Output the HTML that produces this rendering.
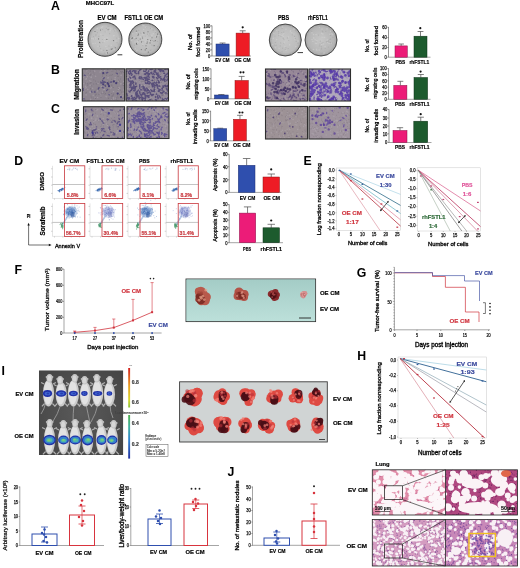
<!DOCTYPE html>
<html><head><meta charset="utf-8"><title>Figure</title>
<style>html,body{margin:0;padding:0;background:#fff;}svg{display:block;filter:blur(0.3px);}</style></head>
<body><svg width="520" height="568" viewBox="0 0 520 568" font-family="'Liberation Sans', Arial, sans-serif">
<rect width="520" height="568" fill="#fff"/>
<text x="55.50" y="10.20" font-size="12.3" font-weight="bold" fill="#000" text-anchor="middle" stroke="none">A</text>
<text x="55.50" y="73.60" font-size="12.3" font-weight="bold" fill="#000" text-anchor="middle" stroke="none">B</text>
<text x="55.50" y="112.60" font-size="12.3" font-weight="bold" fill="#000" text-anchor="middle" stroke="none">C</text>
<text x="85.70" y="4.60" font-size="5.60" font-weight="bold" fill="#000" textLength="28.40" lengthAdjust="spacingAndGlyphs" stroke="#000" stroke-width="0.17">MHCC97L</text>
<text x="97.40" y="19.60" font-size="6.40" font-weight="bold" fill="#000" textLength="19.20" lengthAdjust="spacingAndGlyphs" stroke="#000" stroke-width="0.19">EV CM</text>
<text x="124.40" y="19.60" font-size="6.40" font-weight="bold" fill="#000" textLength="38.80" lengthAdjust="spacingAndGlyphs" stroke="#000" stroke-width="0.19">FSTL1 OE CM</text>
<text x="277.90" y="19.60" font-size="6.40" font-weight="bold" fill="#000" textLength="11.20" lengthAdjust="spacingAndGlyphs" stroke="#000" stroke-width="0.19">PBS</text>
<text x="307.90" y="19.60" font-size="6.40" font-weight="bold" fill="#000" textLength="19.70" lengthAdjust="spacingAndGlyphs" stroke="#000" stroke-width="0.19">rhFSTL1</text>
<text x="0" y="0" font-size="6.47" font-weight="bold" fill="#000" text-anchor="middle" textLength="38.10" lengthAdjust="spacingAndGlyphs" transform="translate(83.40,39.05) rotate(-90)" stroke="#000" stroke-width="0.19">Proliferation</text>
<text x="0" y="0" font-size="6.78" font-weight="bold" fill="#000" text-anchor="middle" textLength="30.50" lengthAdjust="spacingAndGlyphs" transform="translate(78.60,84.45) rotate(-90)" stroke="#000" stroke-width="0.20">Migration</text>
<text x="0" y="0" font-size="6.29" font-weight="bold" fill="#000" text-anchor="middle" textLength="25.50" lengthAdjust="spacingAndGlyphs" transform="translate(78.80,121.95) rotate(-90)" stroke="#000" stroke-width="0.19">Invasion</text>
<line x1="212.00" y1="25.60" x2="212.00" y2="56.00" stroke="#4a4a4a" stroke-width="0.6"/>
<line x1="210.80" y1="25.80" x2="212.00" y2="25.80" stroke="#4a4a4a" stroke-width="0.6"/>
<text x="210.30" y="27.60" font-size="5.0" fill="#111" text-anchor="end" textLength="6.84" lengthAdjust="spacingAndGlyphs" stroke="#111" stroke-width="0.25">100</text>
<line x1="210.80" y1="31.80" x2="212.00" y2="31.80" stroke="#4a4a4a" stroke-width="0.6"/>
<text x="210.30" y="33.60" font-size="5.0" fill="#111" text-anchor="end" textLength="4.56" lengthAdjust="spacingAndGlyphs" stroke="#111" stroke-width="0.25">80</text>
<line x1="210.80" y1="37.90" x2="212.00" y2="37.90" stroke="#4a4a4a" stroke-width="0.6"/>
<text x="210.30" y="39.70" font-size="5.0" fill="#111" text-anchor="end" textLength="4.56" lengthAdjust="spacingAndGlyphs" stroke="#111" stroke-width="0.25">60</text>
<line x1="210.80" y1="44.00" x2="212.00" y2="44.00" stroke="#4a4a4a" stroke-width="0.6"/>
<text x="210.30" y="45.80" font-size="5.0" fill="#111" text-anchor="end" textLength="4.56" lengthAdjust="spacingAndGlyphs" stroke="#111" stroke-width="0.25">40</text>
<line x1="210.80" y1="49.90" x2="212.00" y2="49.90" stroke="#4a4a4a" stroke-width="0.6"/>
<text x="210.30" y="51.70" font-size="5.0" fill="#111" text-anchor="end" textLength="4.56" lengthAdjust="spacingAndGlyphs" stroke="#111" stroke-width="0.25">20</text>
<line x1="210.80" y1="56.00" x2="212.00" y2="56.00" stroke="#4a4a4a" stroke-width="0.6"/>
<text x="210.30" y="57.80" font-size="5.0" fill="#111" text-anchor="end" textLength="2.28" lengthAdjust="spacingAndGlyphs" stroke="#111" stroke-width="0.25">0</text>
<line x1="212.00" y1="56.00" x2="251.00" y2="56.00" stroke="#4a4a4a" stroke-width="0.5"/>
<line x1="222.55" y1="44.00" x2="222.55" y2="43.00" stroke="#555" stroke-width="0.75"/>
<line x1="219.60" y1="43.00" x2="225.50" y2="43.00" stroke="#555" stroke-width="0.75"/>
<rect x="216.00" y="44.00" width="13.10" height="12.00" fill="#2f4fae" stroke="#1d2f70" stroke-width="0.5"/>
<line x1="242.70" y1="33.10" x2="242.70" y2="30.80" stroke="#555" stroke-width="0.75"/>
<line x1="239.73" y1="30.80" x2="245.67" y2="30.80" stroke="#555" stroke-width="0.75"/>
<rect x="236.10" y="33.10" width="13.20" height="22.90" fill="#ee1c25" stroke="#8a1515" stroke-width="0.5"/>
<circle cx="242.70" cy="27.30" r="1.10" fill="#111" stroke="none" stroke-width="0.6"/>
<text x="215.30" y="62.00" font-size="5.00" font-weight="bold" fill="#000" textLength="14.30" lengthAdjust="spacingAndGlyphs" stroke="#000" stroke-width="0.15">EV CM</text>
<text x="234.40" y="62.00" font-size="5.00" font-weight="bold" fill="#000" textLength="16.20" lengthAdjust="spacingAndGlyphs" stroke="#000" stroke-width="0.15">OE CM</text>
<text x="0" y="0" font-size="5.92" font-weight="normal" fill="#000" text-anchor="middle" textLength="15.80" lengthAdjust="spacingAndGlyphs" transform="translate(191.60,42.20) rotate(-90)" stroke="#000" stroke-width="0.30">No. of</text>
<text x="0" y="0" font-size="6.00" font-weight="normal" fill="#000" text-anchor="middle" textLength="29.70" lengthAdjust="spacingAndGlyphs" transform="translate(200.20,41.95) rotate(-90)" stroke="#000" stroke-width="0.30">foci formed</text>
<line x1="211.00" y1="68.60" x2="211.00" y2="98.80" stroke="#4a4a4a" stroke-width="0.6"/>
<line x1="209.80" y1="68.80" x2="211.00" y2="68.80" stroke="#4a4a4a" stroke-width="0.6"/>
<text x="209.30" y="70.60" font-size="5.0" fill="#111" text-anchor="end" textLength="6.84" lengthAdjust="spacingAndGlyphs" stroke="#111" stroke-width="0.25">150</text>
<line x1="209.80" y1="78.70" x2="211.00" y2="78.70" stroke="#4a4a4a" stroke-width="0.6"/>
<text x="209.30" y="80.50" font-size="5.0" fill="#111" text-anchor="end" textLength="6.84" lengthAdjust="spacingAndGlyphs" stroke="#111" stroke-width="0.25">100</text>
<line x1="209.80" y1="89.00" x2="211.00" y2="89.00" stroke="#4a4a4a" stroke-width="0.6"/>
<text x="209.30" y="90.80" font-size="5.0" fill="#111" text-anchor="end" textLength="4.56" lengthAdjust="spacingAndGlyphs" stroke="#111" stroke-width="0.25">50</text>
<line x1="209.80" y1="98.80" x2="211.00" y2="98.80" stroke="#4a4a4a" stroke-width="0.6"/>
<text x="209.30" y="100.60" font-size="5.0" fill="#111" text-anchor="end" textLength="2.28" lengthAdjust="spacingAndGlyphs" stroke="#111" stroke-width="0.25">0</text>
<line x1="211.00" y1="98.80" x2="250.00" y2="98.80" stroke="#4a4a4a" stroke-width="0.5"/>
<line x1="221.35" y1="95.00" x2="221.35" y2="94.50" stroke="#555" stroke-width="0.75"/>
<line x1="218.27" y1="94.50" x2="224.43" y2="94.50" stroke="#555" stroke-width="0.75"/>
<rect x="214.50" y="95.00" width="13.70" height="3.80" fill="#2f4fae" stroke="#1d2f70" stroke-width="0.5"/>
<line x1="241.65" y1="80.50" x2="241.65" y2="76.40" stroke="#555" stroke-width="0.75"/>
<line x1="238.66" y1="76.40" x2="244.64" y2="76.40" stroke="#555" stroke-width="0.75"/>
<rect x="235.00" y="80.50" width="13.30" height="18.30" fill="#ee1c25" stroke="#8a1515" stroke-width="0.5"/>
<circle cx="240.60" cy="72.30" r="1.10" fill="#111" stroke="none" stroke-width="0.6"/>
<circle cx="243.40" cy="72.30" r="1.10" fill="#111" stroke="none" stroke-width="0.6"/>
<text x="214.90" y="104.60" font-size="5.00" font-weight="bold" fill="#000" textLength="13.70" lengthAdjust="spacingAndGlyphs" stroke="#000" stroke-width="0.15">EV CM</text>
<text x="234.40" y="104.60" font-size="5.00" font-weight="bold" fill="#000" textLength="16.90" lengthAdjust="spacingAndGlyphs" stroke="#000" stroke-width="0.15">OE CM</text>
<text x="0" y="0" font-size="5.70" font-weight="normal" fill="#000" text-anchor="middle" textLength="15.20" lengthAdjust="spacingAndGlyphs" transform="translate(189.80,82.00) rotate(-90)" stroke="#000" stroke-width="0.29">No. of</text>
<text x="0" y="0" font-size="4.88" font-weight="normal" fill="#000" text-anchor="middle" textLength="31.20" lengthAdjust="spacingAndGlyphs" transform="translate(197.60,84.00) rotate(-90)" stroke="#000" stroke-width="0.24">migrating cells</text>
<line x1="210.60" y1="110.80" x2="210.60" y2="140.80" stroke="#4a4a4a" stroke-width="0.6"/>
<line x1="209.40" y1="111.20" x2="210.60" y2="111.20" stroke="#4a4a4a" stroke-width="0.6"/>
<text x="208.90" y="113.00" font-size="5.0" fill="#111" text-anchor="end" textLength="6.84" lengthAdjust="spacingAndGlyphs" stroke="#111" stroke-width="0.25">150</text>
<line x1="209.40" y1="120.80" x2="210.60" y2="120.80" stroke="#4a4a4a" stroke-width="0.6"/>
<text x="208.90" y="122.60" font-size="5.0" fill="#111" text-anchor="end" textLength="6.84" lengthAdjust="spacingAndGlyphs" stroke="#111" stroke-width="0.25">100</text>
<line x1="209.40" y1="131.00" x2="210.60" y2="131.00" stroke="#4a4a4a" stroke-width="0.6"/>
<text x="208.90" y="132.80" font-size="5.0" fill="#111" text-anchor="end" textLength="4.56" lengthAdjust="spacingAndGlyphs" stroke="#111" stroke-width="0.25">50</text>
<line x1="209.40" y1="140.80" x2="210.60" y2="140.80" stroke="#4a4a4a" stroke-width="0.6"/>
<text x="208.90" y="142.60" font-size="5.0" fill="#111" text-anchor="end" textLength="2.28" lengthAdjust="spacingAndGlyphs" stroke="#111" stroke-width="0.25">0</text>
<line x1="210.60" y1="140.80" x2="250.00" y2="140.80" stroke="#4a4a4a" stroke-width="0.5"/>
<line x1="220.25" y1="128.70" x2="220.25" y2="128.20" stroke="#555" stroke-width="0.75"/>
<line x1="217.35" y1="128.20" x2="223.15" y2="128.20" stroke="#555" stroke-width="0.75"/>
<rect x="213.80" y="128.70" width="12.90" height="12.10" fill="#2f4fae" stroke="#1d2f70" stroke-width="0.5"/>
<line x1="239.95" y1="119.30" x2="239.95" y2="115.30" stroke="#555" stroke-width="0.75"/>
<line x1="237.05" y1="115.30" x2="242.85" y2="115.30" stroke="#555" stroke-width="0.75"/>
<rect x="233.50" y="119.30" width="12.90" height="21.50" fill="#ee1c25" stroke="#8a1515" stroke-width="0.5"/>
<circle cx="239.60" cy="112.50" r="1.10" fill="#111" stroke="none" stroke-width="0.6"/>
<circle cx="242.40" cy="112.50" r="1.10" fill="#111" stroke="none" stroke-width="0.6"/>
<text x="214.20" y="147.10" font-size="5.00" font-weight="bold" fill="#000" textLength="14.40" lengthAdjust="spacingAndGlyphs" stroke="#000" stroke-width="0.15">EV CM</text>
<text x="233.10" y="147.10" font-size="5.00" font-weight="bold" fill="#000" textLength="17.40" lengthAdjust="spacingAndGlyphs" stroke="#000" stroke-width="0.15">OE CM</text>
<text x="0" y="0" font-size="4.80" font-weight="normal" fill="#000" text-anchor="middle" textLength="12.80" lengthAdjust="spacingAndGlyphs" transform="translate(189.80,118.80) rotate(-90)" stroke="#000" stroke-width="0.24">No. of</text>
<text x="0" y="0" font-size="5.80" font-weight="normal" fill="#000" text-anchor="middle" textLength="34.80" lengthAdjust="spacingAndGlyphs" transform="translate(197.00,126.80) rotate(-90)" stroke="#000" stroke-width="0.29">invading cells</text>
<line x1="388.50" y1="27.00" x2="388.50" y2="57.20" stroke="#4a4a4a" stroke-width="0.6"/>
<line x1="387.30" y1="27.20" x2="388.50" y2="27.20" stroke="#4a4a4a" stroke-width="0.6"/>
<text x="386.80" y="29.00" font-size="5.0" fill="#111" text-anchor="end" textLength="4.56" lengthAdjust="spacingAndGlyphs" stroke="#111" stroke-width="0.25">60</text>
<line x1="387.30" y1="37.60" x2="388.50" y2="37.60" stroke="#4a4a4a" stroke-width="0.6"/>
<text x="386.80" y="39.40" font-size="5.0" fill="#111" text-anchor="end" textLength="4.56" lengthAdjust="spacingAndGlyphs" stroke="#111" stroke-width="0.25">40</text>
<line x1="387.30" y1="47.50" x2="388.50" y2="47.50" stroke="#4a4a4a" stroke-width="0.6"/>
<text x="386.80" y="49.30" font-size="5.0" fill="#111" text-anchor="end" textLength="4.56" lengthAdjust="spacingAndGlyphs" stroke="#111" stroke-width="0.25">20</text>
<line x1="387.30" y1="57.20" x2="388.50" y2="57.20" stroke="#4a4a4a" stroke-width="0.6"/>
<text x="386.80" y="59.00" font-size="5.0" fill="#111" text-anchor="end" textLength="2.28" lengthAdjust="spacingAndGlyphs" stroke="#111" stroke-width="0.25">0</text>
<line x1="388.50" y1="57.20" x2="430.50" y2="57.20" stroke="#4a4a4a" stroke-width="0.5"/>
<line x1="401.15" y1="45.90" x2="401.15" y2="44.00" stroke="#555" stroke-width="0.75"/>
<line x1="398.38" y1="44.00" x2="403.92" y2="44.00" stroke="#555" stroke-width="0.75"/>
<rect x="395.00" y="45.90" width="12.30" height="11.30" fill="#ec1c78" stroke="#8a1048" stroke-width="0.5"/>
<line x1="420.50" y1="36.20" x2="420.50" y2="31.50" stroke="#555" stroke-width="0.75"/>
<line x1="417.57" y1="31.50" x2="423.43" y2="31.50" stroke="#555" stroke-width="0.75"/>
<rect x="414.00" y="36.20" width="13.00" height="21.00" fill="#1d5b2e" stroke="#0e3018" stroke-width="0.5"/>
<circle cx="420.30" cy="28.20" r="1.10" fill="#111" stroke="none" stroke-width="0.6"/>
<text x="395.40" y="63.60" font-size="5.00" font-weight="bold" fill="#000" textLength="9.90" lengthAdjust="spacingAndGlyphs" stroke="#000" stroke-width="0.15">PBS</text>
<text x="409.40" y="63.60" font-size="5.00" font-weight="bold" fill="#000" textLength="19.70" lengthAdjust="spacingAndGlyphs" stroke="#000" stroke-width="0.15">rhFSTL1</text>
<text x="0" y="0" font-size="4.84" font-weight="normal" fill="#000" text-anchor="middle" textLength="12.90" lengthAdjust="spacingAndGlyphs" transform="translate(369.40,45.85) rotate(-90)" stroke="#000" stroke-width="0.24">No. of</text>
<text x="0" y="0" font-size="5.98" font-weight="normal" fill="#000" text-anchor="middle" textLength="29.60" lengthAdjust="spacingAndGlyphs" transform="translate(378.00,40.80) rotate(-90)" stroke="#000" stroke-width="0.30">foci formed</text>
<line x1="388.50" y1="68.30" x2="388.50" y2="99.30" stroke="#4a4a4a" stroke-width="0.6"/>
<line x1="387.30" y1="68.50" x2="388.50" y2="68.50" stroke="#4a4a4a" stroke-width="0.6"/>
<text x="386.80" y="70.30" font-size="5.0" fill="#111" text-anchor="end" textLength="6.84" lengthAdjust="spacingAndGlyphs" stroke="#111" stroke-width="0.25">100</text>
<line x1="387.30" y1="74.50" x2="388.50" y2="74.50" stroke="#4a4a4a" stroke-width="0.6"/>
<text x="386.80" y="76.30" font-size="5.0" fill="#111" text-anchor="end" textLength="4.56" lengthAdjust="spacingAndGlyphs" stroke="#111" stroke-width="0.25">80</text>
<line x1="387.30" y1="80.80" x2="388.50" y2="80.80" stroke="#4a4a4a" stroke-width="0.6"/>
<text x="386.80" y="82.60" font-size="5.0" fill="#111" text-anchor="end" textLength="4.56" lengthAdjust="spacingAndGlyphs" stroke="#111" stroke-width="0.25">60</text>
<line x1="387.30" y1="87.20" x2="388.50" y2="87.20" stroke="#4a4a4a" stroke-width="0.6"/>
<text x="386.80" y="89.00" font-size="5.0" fill="#111" text-anchor="end" textLength="4.56" lengthAdjust="spacingAndGlyphs" stroke="#111" stroke-width="0.25">40</text>
<line x1="387.30" y1="93.20" x2="388.50" y2="93.20" stroke="#4a4a4a" stroke-width="0.6"/>
<text x="386.80" y="95.00" font-size="5.0" fill="#111" text-anchor="end" textLength="4.56" lengthAdjust="spacingAndGlyphs" stroke="#111" stroke-width="0.25">20</text>
<line x1="387.30" y1="99.30" x2="388.50" y2="99.30" stroke="#4a4a4a" stroke-width="0.6"/>
<text x="386.80" y="101.10" font-size="5.0" fill="#111" text-anchor="end" textLength="2.28" lengthAdjust="spacingAndGlyphs" stroke="#111" stroke-width="0.25">0</text>
<line x1="388.50" y1="99.30" x2="430.50" y2="99.30" stroke="#4a4a4a" stroke-width="0.5"/>
<line x1="400.35" y1="85.40" x2="400.35" y2="81.30" stroke="#555" stroke-width="0.75"/>
<line x1="397.40" y1="81.30" x2="403.30" y2="81.30" stroke="#555" stroke-width="0.75"/>
<rect x="393.80" y="85.40" width="13.10" height="13.90" fill="#ec1c78" stroke="#8a1048" stroke-width="0.5"/>
<line x1="420.80" y1="77.50" x2="420.80" y2="74.50" stroke="#555" stroke-width="0.75"/>
<line x1="417.74" y1="74.50" x2="423.86" y2="74.50" stroke="#555" stroke-width="0.75"/>
<rect x="414.00" y="77.50" width="13.60" height="21.80" fill="#1d5b2e" stroke="#0e3018" stroke-width="0.5"/>
<circle cx="420.60" cy="71.60" r="1.10" fill="#111" stroke="none" stroke-width="0.6"/>
<text x="395.00" y="105.60" font-size="5.00" font-weight="bold" fill="#000" textLength="10.00" lengthAdjust="spacingAndGlyphs" stroke="#000" stroke-width="0.15">PBS</text>
<text x="409.60" y="105.60" font-size="5.00" font-weight="bold" fill="#000" textLength="20.00" lengthAdjust="spacingAndGlyphs" stroke="#000" stroke-width="0.15">rhFSTL1</text>
<text x="0" y="0" font-size="5.13" font-weight="normal" fill="#000" text-anchor="middle" textLength="13.70" lengthAdjust="spacingAndGlyphs" transform="translate(369.40,84.75) rotate(-90)" stroke="#000" stroke-width="0.26">No. of</text>
<text x="0" y="0" font-size="4.82" font-weight="normal" fill="#000" text-anchor="middle" textLength="30.80" lengthAdjust="spacingAndGlyphs" transform="translate(377.40,83.10) rotate(-90)" stroke="#000" stroke-width="0.24">migrating cells</text>
<line x1="389.00" y1="109.30" x2="389.00" y2="142.50" stroke="#4a4a4a" stroke-width="0.6"/>
<line x1="387.80" y1="109.50" x2="389.00" y2="109.50" stroke="#4a4a4a" stroke-width="0.6"/>
<text x="387.30" y="111.30" font-size="5.0" fill="#111" text-anchor="end" textLength="4.56" lengthAdjust="spacingAndGlyphs" stroke="#111" stroke-width="0.25">40</text>
<line x1="387.80" y1="118.00" x2="389.00" y2="118.00" stroke="#4a4a4a" stroke-width="0.6"/>
<text x="387.30" y="119.80" font-size="5.0" fill="#111" text-anchor="end" textLength="4.56" lengthAdjust="spacingAndGlyphs" stroke="#111" stroke-width="0.25">30</text>
<line x1="387.80" y1="126.00" x2="389.00" y2="126.00" stroke="#4a4a4a" stroke-width="0.6"/>
<text x="387.30" y="127.80" font-size="5.0" fill="#111" text-anchor="end" textLength="4.56" lengthAdjust="spacingAndGlyphs" stroke="#111" stroke-width="0.25">20</text>
<line x1="387.80" y1="133.80" x2="389.00" y2="133.80" stroke="#4a4a4a" stroke-width="0.6"/>
<text x="387.30" y="135.60" font-size="5.0" fill="#111" text-anchor="end" textLength="4.56" lengthAdjust="spacingAndGlyphs" stroke="#111" stroke-width="0.25">10</text>
<line x1="387.80" y1="142.50" x2="389.00" y2="142.50" stroke="#4a4a4a" stroke-width="0.6"/>
<text x="387.30" y="144.30" font-size="5.0" fill="#111" text-anchor="end" textLength="2.28" lengthAdjust="spacingAndGlyphs" stroke="#111" stroke-width="0.25">0</text>
<line x1="389.00" y1="142.50" x2="431.50" y2="142.50" stroke="#4a4a4a" stroke-width="0.5"/>
<line x1="400.00" y1="130.50" x2="400.00" y2="127.70" stroke="#555" stroke-width="0.75"/>
<line x1="396.85" y1="127.70" x2="403.15" y2="127.70" stroke="#555" stroke-width="0.75"/>
<rect x="393.00" y="130.50" width="14.00" height="12.00" fill="#ec1c78" stroke="#8a1048" stroke-width="0.5"/>
<line x1="420.75" y1="121.20" x2="420.75" y2="117.20" stroke="#555" stroke-width="0.75"/>
<line x1="417.62" y1="117.20" x2="423.88" y2="117.20" stroke="#555" stroke-width="0.75"/>
<rect x="413.80" y="121.20" width="13.90" height="21.30" fill="#1d5b2e" stroke="#0e3018" stroke-width="0.5"/>
<circle cx="420.70" cy="114.20" r="1.10" fill="#111" stroke="none" stroke-width="0.6"/>
<text x="395.00" y="149.10" font-size="5.00" font-weight="bold" fill="#000" textLength="10.00" lengthAdjust="spacingAndGlyphs" stroke="#000" stroke-width="0.15">PBS</text>
<text x="409.60" y="149.10" font-size="5.00" font-weight="bold" fill="#000" textLength="20.00" lengthAdjust="spacingAndGlyphs" stroke="#000" stroke-width="0.15">rhFSTL1</text>
<text x="0" y="0" font-size="5.13" font-weight="normal" fill="#000" text-anchor="middle" textLength="13.70" lengthAdjust="spacingAndGlyphs" transform="translate(369.20,125.75) rotate(-90)" stroke="#000" stroke-width="0.26">No. of</text>
<text x="0" y="0" font-size="5.61" font-weight="normal" fill="#000" text-anchor="middle" textLength="33.70" lengthAdjust="spacingAndGlyphs" transform="translate(378.00,125.75) rotate(-90)" stroke="#000" stroke-width="0.28">invading cells</text>
<radialGradient id="dg1"><stop offset="0" stop-color="#c6c6c6"/><stop offset="0.8" stop-color="#bdbdbd"/><stop offset="0.93" stop-color="#aaaaaa"/><stop offset="1" stop-color="#858585"/></radialGradient>
<circle cx="105.00" cy="39.30" r="17.00" fill="url(#dg1)" stroke="#4a4a4a" stroke-width="1.0"/>
<path d="M114.2 49.6h0M105.7 31.8h0M94.9 39.6h0M97.3 28.4h0M107.1 40.7h0M110.1 30.8h0M105.1 38.6h0M93 43.6h0M106.9 53.8h0M107.1 37.8h0M115.9 41.1h0M113.6 35.8h0M107 48.8h0M111.9 40.6h0M95.2 43.3h0M105.8 46.5h0M107 49.3h0M104.5 41.4h0M110.8 29.8h0M100.9 34.3h0M118.9 38.6h0M111.3 45.3h0M102.7 26.9h0M114 35.5h0M110.9 28.5h0M101.2 50.2h0M115.2 30h0M93.5 38.9h0M112.2 40.9h0M107.8 30.1h0M110.2 49.1h0M101.4 27.5h0M98 46.3h0M91.8 38.6h0M95.7 38.1h0" stroke="#d4d4d4" stroke-width="1.6" stroke-linecap="round" fill="none" opacity="0.50"/>
<path d="M102.4 39.5h0M117.1 42.7h0M116.5 38.1h0M100.1 43.1h0M90.1 39.1h0M106.4 28.4h0M109.6 33.7h0M90.4 38h0M96 34.5h0M103.7 50.3h0M106.1 39h0M107.8 26h0M114.7 30.8h0M108.9 29.2h0M95.9 35.6h0M118.1 44.1h0M98.9 36.4h0M94.6 39h0M99.5 46.2h0M93.5 36.5h0M97.3 32.7h0M112.1 40.6h0M110.1 49.6h0M113.6 29h0M109 26.3h0M104.5 53.1h0M103 35.5h0M106.8 39.5h0M105.3 31.8h0M114.2 46.8h0M102.8 42.6h0M110.9 48.5h0M108.9 46.1h0M102.6 29.5h0M100.5 48.6h0" stroke="#a0a0a0" stroke-width="1.2" stroke-linecap="round" fill="none" opacity="0.50"/>
<path d="M113.6 40.6h0M99.7 42.2h0M115.3 47.7h0M98.6 38.9h0M95 31.5h0M106.9 39.5h0M112.2 48.7h0M111.3 49.2h0M100.5 30h0M107.5 52.9h0M108 29.7h0M106.9 50.4h0" stroke="#585858" stroke-width="1.1" stroke-linecap="round" fill="none" opacity="0.75"/>
<radialGradient id="dg2"><stop offset="0" stop-color="#c6c6c6"/><stop offset="0.8" stop-color="#bababa"/><stop offset="0.93" stop-color="#aaaaaa"/><stop offset="1" stop-color="#858585"/></radialGradient>
<circle cx="145.30" cy="39.50" r="16.50" fill="url(#dg2)" stroke="#4a4a4a" stroke-width="1.0"/>
<path d="M158.9 35.6h0M149.3 41h0M151.7 28.8h0M141.4 32.5h0M136.4 32.5h0M140.3 36.7h0M137.1 43.3h0M142.9 25.2h0M155.5 36.2h0M138.2 42.1h0M147.6 40h0M137.3 41.3h0M135.3 48.9h0M134.6 37.8h0M145.5 41.7h0M142.9 44.3h0M130.8 38.6h0M142.5 34h0M155.5 31.5h0M143.9 25.8h0M146.3 26.7h0M136.6 50.9h0M151 38.1h0M145.6 27.2h0M135 42h0M131.4 40.4h0M132.1 39.4h0M137 50.3h0M153.3 33.7h0M132.6 33.8h0M143.6 29.5h0M146.8 47.6h0M143.5 33.9h0M151.6 35.4h0M152.1 35.2h0" stroke="#d4d4d4" stroke-width="1.6" stroke-linecap="round" fill="none" opacity="0.50"/>
<path d="M157 36.3h0M134.9 39.2h0M138.8 30.4h0M142.8 45.6h0M131.3 38.5h0M142.5 36.7h0M150.6 28.3h0M150.6 36h0M145.2 36h0M141 33.3h0M147.3 52.9h0M153.5 46h0M149.7 33.8h0M148.6 52.7h0M134.4 45.2h0M153.9 41.2h0M150.9 50h0M157.6 46.5h0M157.5 41.5h0M152.6 40.5h0M147.5 34.2h0M150.2 50.5h0M143 41.5h0M150.9 39.1h0M153.6 41.4h0M135.9 31.2h0M151.7 45h0M154.8 41.4h0M146.5 27.1h0M155.6 32.2h0M153.2 30.2h0M138.5 40.7h0M141 32.6h0M153.1 45.3h0M149 35.8h0" stroke="#a0a0a0" stroke-width="1.2" stroke-linecap="round" fill="none" opacity="0.50"/>
<path d="M138 35.2h0M140.2 39h0M152 37.8h0M138.4 34.1h0M155.3 40.6h0M147.3 42h0M150.6 40.6h0M154.2 45.6h0M131.9 38.8h0M157.6 34.1h0M146.3 48.4h0M145.2 49.9h0M136.7 31h0M143.6 32.9h0M136.6 44.1h0M147.8 39.6h0M141.5 41.9h0M144.2 33h0M150 42.9h0M146 45.8h0M136.2 38.3h0M141.3 49.6h0M148.3 52h0M156.5 36.9h0M136.5 43.4h0M142.6 38h0M136.8 44.3h0M147 43.3h0M148 31.8h0M132.4 37.9h0" stroke="#585858" stroke-width="1.1" stroke-linecap="round" fill="none" opacity="0.75"/>
<radialGradient id="dg3"><stop offset="0" stop-color="#c6c6c6"/><stop offset="0.8" stop-color="#bcbcbc"/><stop offset="0.93" stop-color="#aaaaaa"/><stop offset="1" stop-color="#858585"/></radialGradient>
<circle cx="285.30" cy="40.00" r="16.00" fill="url(#dg3)" stroke="#4a4a4a" stroke-width="1.0"/>
<path d="M286.1 50.3h0M277.9 47.9h0M282.8 37.5h0M298.1 41.1h0M284.9 46.8h0M294.9 39.7h0M290.3 31.7h0M281.8 35.8h0M276.7 30.2h0M273.4 38.3h0M283.6 36.9h0M285.9 29.3h0M284.5 42.3h0M291.7 32.8h0M282.7 27.1h0M282.3 26.9h0M275.4 47.7h0M272.6 44.6h0M288.5 37h0M289.6 44.9h0M294.3 38h0M279.9 34.5h0M276.6 39.6h0M279 48.6h0M273.8 33.3h0M279.7 27.7h0M293.9 29.1h0M282.6 35h0M294.1 29.4h0M294 34h0M283.8 33.7h0M290.5 30.8h0M284.5 43.4h0M293.8 28.9h0M295.9 46.6h0" stroke="#d4d4d4" stroke-width="1.6" stroke-linecap="round" fill="none" opacity="0.50"/>
<path d="M280.7 42.9h0M282 51.8h0M287.4 37.9h0M283.1 38h0M283.7 32.1h0M295.5 30.6h0M271.3 39.5h0M283.9 43.6h0M283.3 38.5h0M288.2 48.5h0M281 36.5h0M297.9 43.4h0M279.9 52.6h0M292.2 34.8h0M275.5 42.5h0M278.6 31.5h0M275 36h0M294.6 36.4h0M274.5 45h0M285.9 47.7h0M295.3 38.6h0M283.9 39.6h0M276.1 45.4h0M296.2 41.4h0M283 37.5h0M278.6 33.1h0M281.7 32.5h0M282.1 28.4h0M288.7 40.5h0M279.1 27.7h0M285.2 49.5h0M278.7 35.6h0M280.2 45.9h0M277.9 47.9h0M282.6 48.2h0" stroke="#a0a0a0" stroke-width="1.2" stroke-linecap="round" fill="none" opacity="0.50"/>
<radialGradient id="dg4"><stop offset="0" stop-color="#c6c6c6"/><stop offset="0.8" stop-color="#b6b6b6"/><stop offset="0.93" stop-color="#aaaaaa"/><stop offset="1" stop-color="#858585"/></radialGradient>
<circle cx="321.00" cy="40.00" r="16.00" fill="url(#dg4)" stroke="#4a4a4a" stroke-width="1.0"/>
<path d="M321.4 44.5h0M316.6 43.3h0M329.1 43.6h0M331.9 33.8h0M321.6 33.4h0M313.8 38.3h0M323.1 44h0M324 53.1h0M327 28.9h0M322.9 34.1h0M316.9 50.3h0M319.5 27.1h0M324 37.2h0M312 32.9h0M315.1 39.8h0M316.9 40.7h0M332.9 34.8h0M313.7 37.7h0M329.9 34.3h0M330.5 31.3h0M312 39.5h0M313.5 34.6h0M325.1 46.6h0M322.1 37.3h0M331.6 43.2h0M319.1 50.1h0M312.9 41.5h0M327.2 39.9h0M315.6 43.3h0M316.1 34.6h0M313.5 49.5h0M316.5 49.4h0M324.7 37.5h0M327.2 42.5h0M322 29.1h0" stroke="#d4d4d4" stroke-width="1.6" stroke-linecap="round" fill="none" opacity="0.50"/>
<path d="M321.6 48h0M325.2 48.5h0M332.3 43.1h0M331.9 31.7h0M319.7 26.3h0M328.5 40.9h0M333 37.4h0M309.5 47.3h0M311.8 31.3h0M319.4 45.9h0M316.1 41.8h0M310.9 49.3h0M320.3 41.2h0M326.5 41.6h0M322.8 31.8h0M319.9 44.2h0M330.1 39h0M321.9 43.3h0M326.4 42h0M318.6 35.1h0M330.5 42.5h0M321.1 54h0M328.3 47.1h0M322.3 31.1h0M330.6 39.2h0M321.5 49h0M329.8 42.1h0M321.1 53.2h0M325.8 31.4h0M327.9 41.4h0M321.3 46.4h0M322.5 53h0M323 42.5h0M330.5 35.4h0M329.9 39.5h0" stroke="#a0a0a0" stroke-width="1.2" stroke-linecap="round" fill="none" opacity="0.50"/>
<line x1="117.50" y1="54.80" x2="122.30" y2="54.80" stroke="#222" stroke-width="0.9"/>
<line x1="297.50" y1="52.60" x2="303.00" y2="52.60" stroke="#222" stroke-width="0.9"/>
<clipPath id="cp11"><rect x="82.3" y="68.8" width="42.3" height="32.2"/></clipPath>
<g clip-path="url(#cp11)">
<rect x="82.30" y="68.80" width="42.30" height="32.20" fill="#8e8690" stroke="none" stroke-width="0.6"/>
<path d="M101.4 86.8h0M121.4 83.8h0M103.8 87.7h0M90.1 85.3h0M108.9 94.3h0M86.3 78.6h0M86.1 94.9h0M111.6 70.1h0M123.8 99.9h0M110 88.6h0M89 69.3h0M104.7 70.7h0M90.3 76.6h0M83.6 83.7h0M100.9 95.9h0M104.3 89.4h0M103.4 90.1h0M101.6 77.8h0M124.5 100.9h0M117.8 91.6h0M95.6 76.2h0M94.5 71.1h0M114.7 81.7h0M118.1 81.2h0M122.8 96.1h0M82.3 75.6h0M120.8 83.9h0M123.8 81.6h0M85.4 89.1h0M115.2 77.5h0M86 79.5h0M123.1 93.2h0M87.3 76.7h0M86.6 70.7h0M116 74.5h0M106 83.2h0M90.4 92.4h0M87.8 89.5h0M87.2 82.3h0M91.3 77.5h0M123.4 94.7h0M95.2 97.3h0M91.2 81.5h0M118.4 89.5h0M86.5 100.7h0M91.3 77.1h0M115 79.4h0M94.8 71.2h0M86.1 87.6h0M92.6 88.2h0M98 83.4h0M122.9 84.4h0M106.6 96.7h0M90 73.8h0M120.7 95.1h0M92.9 74.9h0M113.6 99.1h0M90.6 99.4h0M119.6 88.2h0M100.1 72.1h0M83.9 99.8h0M92.4 91.5h0M93.2 95.3h0M107.5 78.2h0M89.7 92h0M85.2 76.2h0M106 96.2h0M108.3 77.8h0M121.1 75.4h0M83 77.5h0M101.2 70.7h0M89.8 80.7h0M106.5 73h0M97.6 97.5h0M123.8 90h0M111.5 87.6h0M88.2 69.9h0M83.1 98.1h0M112 99.8h0M83.2 89.3h0M102.7 92.3h0M95.8 101h0M85.5 86.4h0M113.5 97.8h0M113.5 91.5h0M115.9 98.3h0M97.2 90.9h0M120.4 96.8h0M99.9 94.3h0M118.8 87.2h0" stroke="#b2aab2" stroke-width="1.6" stroke-linecap="round" fill="none" opacity="0.50"/>
<path d="M108.7 81.1h0M106.9 88.4h0M85.7 89.4h0M124.3 97.1h0M113.1 81.3h0M113.4 87.5h0M100.9 95.8h0M85.8 93h0M83.6 88.2h0M102.6 76.2h0M111.8 84.8h0M108.3 98.4h0M93.1 69.2h0M95 90.6h0M90.9 74.3h0M120.6 90.1h0M101 97.5h0M96.1 90.2h0M90.7 82.7h0M116.4 98.2h0M119.5 81.2h0M107 79h0M88.1 84.8h0M117.7 96.1h0M112.4 99.4h0M94 74.2h0M101.4 77.7h0M91.4 82.1h0M108.8 84.7h0M95.6 95.8h0M123.8 83.4h0M85.5 69.8h0M119.2 70.1h0M112.3 87.2h0M95.4 94.3h0M83.1 73.2h0M101.5 69.6h0M117.4 76.4h0M88.3 70.3h0M108.9 83.2h0M108.9 89.9h0M116.5 99.7h0M111.3 75.2h0M102.4 74.6h0M82.8 84h0M112.5 74.6h0M93.8 79.9h0M111.8 85.6h0M108.3 93.1h0M98.9 94.3h0M120.6 71.6h0M121.7 92.1h0M87.8 83.4h0M108.8 98.1h0M98.2 87.1h0M119.5 94.5h0M122.2 83.7h0M109.9 75.4h0M112.8 95.2h0M109.4 91.9h0M91.3 97.8h0M123.8 100.3h0M105 94.3h0M95.9 98.1h0M118.5 80h0M85.8 83h0M105.6 93.5h0M102.9 69.7h0M116.5 70.9h0M116.1 74.4h0M96.5 94.2h0M88.2 73.6h0M104.1 92.1h0M117.8 91h0M122.3 84.7h0M122.4 71.6h0M91.7 85.8h0M94.6 92.3h0M109.3 85.6h0M118 86.8h0M95.5 81.1h0M118.1 97.8h0M91.1 96.2h0M123.3 85.7h0M106.5 75.3h0M105 85h0M107.9 69.7h0M123.3 85.4h0M99.2 94.6h0M106.1 84.6h0M111.5 70.9h0M105.1 82.1h0M122.8 98.5h0M93.7 84h0M87.7 82.8h0M116.8 97.8h0M102.5 79h0M90.4 88.7h0M121.4 73h0M115.3 69.5h0M90.5 76.1h0M111.4 79.2h0M97.3 88.8h0M86.7 92.3h0M87.5 85.2h0M92.9 75.2h0M104.7 82.9h0M98.2 82.1h0M104.7 73.9h0M90.9 89.1h0M109.3 85.9h0M118.3 88.5h0M118.5 76.3h0M113.6 94.9h0M120.5 79h0M95.6 98.5h0M91.5 100.9h0M119.8 73.1h0M92.4 92.2h0M93.3 71.9h0M117.5 82.4h0M115.7 72.9h0M99.3 90.9h0M83.1 75.3h0M111.2 98.1h0M123.3 72.5h0M103.7 93.2h0M103.6 90.9h0M90.3 71.1h0M86.8 70h0M105.6 85.4h0M106.4 73.5h0M90.1 75.4h0M117.8 100.7h0M121.5 71.9h0M84.9 99.4h0M101.8 93.4h0M96.1 83.8h0M104.1 82.6h0M107.7 69.2h0M112 96h0M90 83.4h0M113.6 81.9h0M90.6 74.1h0M104 69.3h0M120.1 94.6h0M112.1 96.5h0M108.9 81.8h0M107.7 85h0M123.9 94.7h0M93.2 98.1h0M113.8 93.9h0M116.8 81.9h0M120.2 97.1h0M111.7 93.5h0M114.7 81.9h0M112.9 71.1h0M96.8 83.9h0M82.7 80.3h0M109.3 88.9h0" stroke="#6e6672" stroke-width="1" stroke-linecap="round" fill="none" opacity="0.55"/>
<path d="M103.7 87.8L102.3 87.5M124.6 89.5L124.7 87.8M83.3 88.6L83.2 90.4M84.4 75.1L85.3 75.7M102.6 82.9L100.6 82M109.3 94.9L108.9 94.6M84.2 98.8L83.6 98.9M102.1 82.9L100.9 83M103.7 82.3L103.2 81.6M94.3 91.9L95.2 92M103.9 81.7L105.5 82.3M99.1 87.5L98.4 89.1M91.8 92L91.8 91.2M110.4 82.2L111.7 82M107.8 72.5L106.3 72.9M104.9 85.4L105.6 86.2M107.7 89.4L106.6 90.6M116.8 73.2L117.4 73.8M103.6 78.7L104.3 77.7M102.6 80.3L102.6 81" stroke="#453c78" stroke-width="1.3" stroke-linecap="round" fill="none" opacity="0.70"/>
<path d="M121 97.1h0M108.3 84.1h0M109 86.2h0M107.5 83.1h0M103.2 84.3h0M103.2 73.1h0M116.2 83.2h0M117.7 93.6h0M113.9 81.4h0" stroke="#3c3470" stroke-width="2.2" stroke-linecap="round" fill="none" opacity="0.85"/>
</g>
<rect x="82.30" y="68.80" width="42.30" height="32.20" fill="none" stroke="#2e2e2e" stroke-width="1.1"/>
<clipPath id="cp12"><rect x="126" y="68.8" width="42.5" height="32.2"/></clipPath>
<g clip-path="url(#cp12)">
<rect x="126.00" y="68.80" width="42.50" height="32.20" fill="#958c9a" stroke="none" stroke-width="0.6"/>
<path d="M146.2 90h0M154.3 73.4h0M126.5 80.9h0M137.6 94.9h0M155.4 88.2h0M149.7 90.1h0M132.2 83h0M132.9 98h0M128.5 95.2h0M129.2 90.9h0M140.3 81.8h0M161.8 69.4h0M128.6 98.3h0M147.6 71.7h0M168 99.3h0M130.8 82.4h0M131.7 78.9h0M152.4 74.1h0M155.6 70.5h0M133.3 95.1h0M143 82.3h0M151.3 84.2h0M142.3 69.8h0M156.9 100h0M167.5 90.2h0M141.1 80.5h0M155.3 90.5h0M130.8 76.4h0M141.4 85.3h0M160.4 84.9h0M127.2 95.3h0M144.3 85.5h0M135.4 82.6h0M142.5 93.7h0M130.4 86.5h0M133.6 91.2h0M127.6 77.7h0M140.6 89.3h0M128.2 83.6h0M134.9 77.9h0M146.2 99.7h0M146.4 99.6h0M133.1 98.6h0M141.5 74.9h0M157.8 98.2h0M126.3 77.4h0M158.8 79.8h0M136.3 69.1h0M127.7 88.7h0M167.8 101h0M147.4 69.6h0M139.7 94.2h0M161.4 89.4h0M135.8 85.8h0M146.3 89h0M137.2 99.3h0M164 74h0M138.4 96.9h0M137.8 99.2h0M147.9 91.2h0M155.9 75.7h0M138.1 77h0M155 91.2h0M131.6 97.3h0M143.9 76.6h0M144.5 100.3h0M149.8 88.9h0M165.1 99.8h0M158.3 82.2h0M151 97.8h0M159.5 87.5h0M140.8 80.7h0M157.3 86.9h0M126.7 91.7h0M164.4 94.5h0M164.1 98.1h0M148.7 94.2h0M142.1 72h0M141 78.9h0M165.7 91h0M149 88.8h0M131.3 86h0M155.8 81.5h0M136.4 81.9h0M139.8 90.9h0M132 71.7h0M139.3 91.2h0M158.3 90h0M165.7 80.6h0M127.3 84.5h0" stroke="#b2aab2" stroke-width="1.6" stroke-linecap="round" fill="none" opacity="0.50"/>
<path d="M144.9 74.6h0M154.4 79.8h0M136.1 79.3h0M166.1 69h0M141.3 77.8h0M134.6 82.7h0M135.4 98.4h0M147.3 91.3h0M132.9 83.8h0M151.8 95.9h0M136.6 83.6h0M162.3 95.6h0M135.7 86.1h0M158.4 81.5h0M154.6 90.2h0M167.3 86.6h0M154.9 80.1h0M157.1 79.2h0M147.2 80.4h0M139.1 73.2h0M135.6 86.3h0M136.7 70.3h0M160.2 78h0M165.8 88.1h0M142.5 96.9h0M164.1 79.1h0M131.3 89.4h0M161.8 88.4h0M159.3 82.1h0M152.3 77.3h0M143.3 81h0M142.3 81.7h0M160.3 74.3h0M134.7 77h0M167.3 85.6h0M128.2 95.7h0M163.1 95.2h0M141.2 92.5h0M139 73.2h0M162.8 95.6h0M135 97.1h0M127 78.7h0M126.6 74.3h0M132.9 91.8h0M138.6 74.9h0M133.8 78.8h0M162.6 88.3h0M130.3 90.9h0M148.8 83.2h0M148.4 89.8h0M160 85.1h0M153 83.8h0M152.9 81.3h0M143.6 85.4h0M156.4 77.8h0M165.3 84.6h0M162.4 91h0M166.6 90.8h0M144.1 81.9h0M151.8 93.1h0M161.7 73h0M128.7 72.3h0M129.6 70.6h0M126.4 76.8h0M130.8 90.9h0M152.2 99.9h0M166.8 92.8h0M166.4 69.7h0M135.7 98.6h0M146.2 75.5h0M158.2 82.4h0M149.1 79h0M136.3 71.6h0M151.8 99.5h0M167.9 93.4h0M165.7 80.5h0M138.7 98.5h0M151.5 90.3h0M126.5 76.2h0M146.5 92.3h0M161.1 93.2h0M140.4 81.1h0M162.7 100.7h0M146.6 75.1h0M152.5 86.1h0M141.4 76.2h0M142.4 88.5h0M131.4 86.2h0M166.5 92.8h0M136.7 82.3h0M130.3 92.5h0M152.9 74.4h0M149.3 88h0M150.5 81h0M139.2 80.2h0M168.4 79.4h0M147.4 83.6h0M133.4 81.7h0M134.7 79.2h0M141.6 80.1h0M165.9 78.4h0M140.1 90h0M142.9 85.4h0M153.5 71.2h0M154.5 72.1h0M136.6 94.9h0M168.1 90.5h0M133.3 82.9h0M138 95.9h0M135.9 75.1h0M153.1 89.3h0M151.1 84.2h0M166.8 83.6h0M165.8 81.4h0M145.8 80.4h0M156.4 93h0M136.2 85.7h0M156.9 85h0M154.2 88.6h0M156.4 80.2h0M139 69.6h0M163.8 94.2h0M142.6 99.9h0M164.4 73.7h0M161.6 82.4h0M139.4 77.1h0M143.6 70.5h0M128.1 72.6h0M139.1 73.9h0M131.2 95.6h0M142.1 84.6h0M151.6 98.8h0M132.2 76.1h0M162.6 98.1h0M165.6 85.8h0M141.6 74.9h0M164.7 93.4h0M149.4 94.3h0M137.1 86h0M164.5 72.3h0M152.2 74.8h0M161.6 95.8h0M153.4 82.8h0M126.9 84.7h0M141.3 81.7h0M129.3 98.4h0M148.2 86.9h0M161.8 97.7h0M149.4 86.3h0M162 80.8h0M164.3 69.6h0M159.8 85.8h0M152.5 100.7h0M135.3 81.9h0M160 92.8h0M148.3 93.8h0M154.8 96.8h0M153.6 80.5h0M138.2 71.4h0M131.2 70.2h0" stroke="#6e6672" stroke-width="1" stroke-linecap="round" fill="none" opacity="0.55"/>
<path d="M167.5 73.3L168.5 74.5M167.1 86L167.4 85.4M162.6 100.3L161.9 100.7M154.1 77.9L153.6 76.5M157.9 95.3L157.5 97.1M158.1 82.8L158.7 82.8M152.4 80.3L152 80.4M143.6 79.3L142.2 78.9M148.5 100.6L147.9 102.6M163.1 78.9L165.1 79.7M139.5 98.8L139.1 97.2M134.7 72.7L136.7 73.6M133.5 82.7L132.6 80.9M168.4 93.9L169.4 93.3M139.5 70.5L141.1 69M154.1 84.3L154.2 85M128.9 71.8L129.9 71.1M165.6 85.4L164 85.7M159 91.5L160.3 89.7M154.8 87.8L154.2 87.9M145 73.8L144.4 74.1M133.5 88.9L134.4 88.8M155.1 85.4L154.2 86.2M134.5 99.8L133.3 98.1M153.6 73.4L154.3 74.6M139.8 87.7L139.9 88.3M157 84.4L158.2 86.2M129.8 99L129.2 97.6M149.6 73.6L147.4 73.6M164.6 73.5L163.8 73.3M136.5 96.5L137.2 96.9M132.9 77.6L134.5 76M154.5 82.5L154.6 82.2M131.4 75.2L132.1 74.4M133.8 70.8L135.9 70.9M157.2 73.3L157.4 74.2M144.7 98.5L142.7 98M129.7 74.5L130 73.6M164.9 69.6L165.9 69.4M132.4 71.4L133.1 70.8M137.2 92L136.9 91.6M133.2 88L134.5 86.7M144.5 100.5L145.6 100.2M164.8 101L164.8 101.5M155.6 97.3L155.7 96.5M146.3 68.9L146.7 69M135.7 98.8L136.8 97.6M164.9 81.4L164 80.1M155.4 71.8L156.6 73.5M144.9 90.9L145.8 89.4M139.3 78.4L141 78.9M163.1 79L162.7 80M156.3 74.4L156.9 74.6M131.6 88.9L133.8 88.9M145.6 80.2L145.1 81M130.6 82.4L131.4 82.8M131.7 98.7L133.5 98.5M160.6 92.6L161.2 93.1M167.8 90.8L168.9 92.2M159.6 86L159.8 86.5M167.1 88.9L167.5 89.1M157.9 80.1L158.7 81.1M133.6 84.8L134 85.9M132.4 83.1L132.9 83.3M146.1 70.4L146.3 68.7M156 99.4L155.4 99.7M143.6 71.1L145.6 71.6M167.8 90.6L169.9 91.4M164 99.8L162.3 98.9M153.6 84.3L151.8 83.4M149.3 81.8L147.9 81M166 93.7L165.8 92.7M135.9 84.3L135.7 83M129.1 73.5L128.6 73.1M133.2 86.8L131.4 87.7M135.5 88L134.5 88.5M133.6 90.8L134.6 90.7M147.1 90.8L149.2 90.6M126.9 98.7L127.4 98.5M159.5 77.1L157.9 76.4M145.2 89L144.6 88M155.5 69L155.1 67.5M162.8 86.1L163.7 87.2M134.3 97.6L134.7 97.4M131.3 81.2L132.8 81.5M145 94.5L145.5 95.5M128.5 99.3L128.3 98.9M153.1 77.8L152.5 76.5M134.8 76.7L135.4 78.8M146.8 83.4L147.9 82M158.5 89L159.6 89.7M150.4 82.7L149.1 84M131.2 81.1L129.2 81.2M154.4 70.6L154.3 71.4M146.6 72.6L145.5 74.5M126 76.5L125.1 75.7M160.6 71.6L162 69.8M147.9 89.6L148.4 90.4M126.4 99.8L124.5 100.4M151.6 84.1L152.9 85.1M158 74.4L157 73.4M162 88.6L162.3 88M141.9 86.9L143.8 86.7M130.4 83.4L131 82.7M142.9 98.1L141.3 99M158.4 90.7L158.3 91.2M131.8 95.6L131.4 96.6M156.5 100.6L156.3 100M135.7 94.3L135.9 92.5M150.8 72.7L152.3 74M150.7 99.7L149.8 99.8M154.7 89.6L153.9 90.1M164.1 91.9L163.8 91.3M162.2 88.2L162 90.2M138.3 96.7L138.9 97.3M132.3 97.2L132.9 99M157.5 75.2L159.1 75.3M150.5 93L149.6 92M131 83.5L129.7 84.9M157.6 88.1L157.5 86.2M139 95.2L137.2 96M156.5 82.1L155.9 83.4M145.6 78.7L144 77.4M152.1 85.6L152.6 86.7M153.5 83.2L152.5 83.1M131.6 89.7L130.3 91.1M132.9 100L132.2 101.4M129.8 87.3L130.4 86.8M156.5 77.7L157.4 78.3M135.5 86.8L133.7 87.7M166.9 77L167.2 76.6M142 77.8L141.1 77.1M135.3 72.2L134.5 71M149.8 73.9L148 74.8M149 97.3L148.5 97.3M144 89.4L144.1 90.1M135.6 86.8L136.5 86.4M163 92.2L163.5 91.2M150.4 94L152 95.5M158.4 97.9L157.8 98.8M127.3 97.6L128.1 97.7M129.8 85.4L131.2 84.5M154.2 72.1L155.7 70.5M160.3 97.8L159.5 96M158.6 69.5L160.9 69.6M144.1 87.1L143.4 88.3M147.6 79L149.2 79.3M140.7 89.8L141.9 89.9M145.5 98.7L145.4 97.3M142.3 100.4L142.8 99.1M152.6 95L153.6 94.5M168 97.7L166.6 99.3M140.4 97.5L138.8 96.5M149.8 69.2L151.1 69.7M148.4 76L149.2 77.3M139.9 93.6L140.9 94.7M167.9 69.5L167.6 68.4M150.7 89.8L152.4 91M147.6 76.9L146.1 77.2M152.7 94.6L151.6 95.2M149.6 74.2L148 75.6M147.2 95.9L149.2 95.8M156.1 85.9L156.3 84.8M152.4 69.1L151.7 67.9M141.2 95.5L142.6 94.4M138.4 90.1L137.6 91.3M138.6 71.6L138.3 73.6M140.7 77L139.3 77M162.8 71.4L163.3 70.5M159.7 70.9L160.9 70.8M167.6 79L166.8 80.6M128.7 97.7L129.3 97.7M145.2 96.3L146.2 95.5M157.7 74.4L157.9 74.7M151.8 72.3L151.4 72.6M128.3 78.7L128.5 80.2M159.6 77.2L158.8 77.8M162.1 70.3L163.7 71.4M167.3 86.7L165.5 86.5M154.5 90.9L154.7 91.5M164.6 75.9L165.4 76.1M156.3 94.2L156.6 93.9M130.9 84.8L130.9 86.1M139.8 84.6L139.7 86.5M135.9 100.2L136.5 100.7M165.6 98.6L164.9 98.5M163.1 79.1L164.1 79.2M131.5 88.4L132.3 87.4M144.9 77.5L145.6 78.4M146.4 91.1L145.8 90.7M168.4 91.2L167.8 90.5M130.7 72.3L130.2 70.5M152.5 86.9L153.1 86M147.9 95.4L147 96.9M160.7 80.1L161.5 78.8M166.5 88.8L166.9 89.4M161.3 78.7L160.8 78.4M143.7 92.6L143.1 92.6M166.6 74.3L165.8 75M131.5 73.4L130.6 73.2M131.8 89.2L131.5 90.2M162.2 92.7L162.1 93.9M147.7 89.7L146.7 88.1M126 73.9L123.8 73.2M147.8 72.5L148.7 70.8M139.2 77.5L139 78M147.8 83.2L148 83.4M136 95.6L137.5 93.8M147 80.5L147 78.4M153.5 91.4L151.3 91M136.9 92.4L137.2 94.6M142.3 93.4L144.1 94M160.3 76.6L160.8 76.8M145.6 83.4L145.5 82.7M133.9 98.7L132.7 100.7M127 71.1L126.1 72.1M159.1 82L159.5 82.7M168.2 93.4L168.5 95M144.8 93.1L144.6 94.7M140.9 94.9L140.6 94.6M156 85.4L157.3 84.8M139.8 93L139.7 91.3M128.9 91.1L129.6 91.9M164.6 77.3L164.1 78.5M130.8 78.2L129.8 77M157.8 73.7L158.2 73M148.3 92.6L147.2 93.2M127.4 95.9L126.9 93.8M135.2 89.1L134.9 90.7M142 97.4L141.4 96.9" stroke="#40366e" stroke-width="1.4" stroke-linecap="round" fill="none" opacity="0.70"/>
</g>
<rect x="126.00" y="68.80" width="42.50" height="32.20" fill="none" stroke="#2e2e2e" stroke-width="1.1"/>
<clipPath id="cp13"><rect x="83.5" y="106.7" width="41.099999999999994" height="31.799999999999997"/></clipPath>
<g clip-path="url(#cp13)">
<rect x="83.50" y="106.70" width="41.10" height="31.80" fill="#978e98" stroke="none" stroke-width="0.6"/>
<path d="M94.1 128.5h0M111.6 133.7h0M91.1 114h0M89.5 113.9h0M113.7 110.8h0M105.3 113.5h0M95.6 120.4h0M117.9 126h0M84.1 115.5h0M89.5 134.4h0M116.8 132.3h0M117.5 130.4h0M122.5 131.9h0M94.1 133.7h0M103.5 130.7h0M106.7 120.4h0M98.5 120.4h0M96.4 110.4h0M117.2 132.1h0M124 128.7h0M106.3 130.5h0M89 128.2h0M101.7 112.3h0M91.8 123.3h0M93.9 121.3h0M108.4 119.3h0M88.9 122.3h0M93.2 114.2h0M91.5 118.4h0M86.5 127.4h0M122.7 119.1h0M113 136.4h0M85.3 111.2h0M116.6 133.4h0M109.8 111.8h0M100.5 134.3h0M119.9 132.2h0M91.8 133.8h0M98.9 129.5h0M89.1 137.6h0M108.3 129.7h0M92.2 126.3h0M107.4 125.5h0M98.3 129.8h0M97.5 116.1h0M90.3 128.5h0M88.1 113.9h0M86.3 127.2h0M106.4 124h0M85.1 120.7h0M97.6 109.6h0M83.6 138.4h0M88.5 116.3h0M94.6 125.7h0M86.7 121.6h0M98.6 133.2h0M83.7 117.3h0M103.9 137.5h0M104.7 121.8h0M111 116.1h0M84.8 122.6h0M120.9 130.2h0M94.1 128.5h0M118.4 114.9h0M107.7 118h0M93.5 115.8h0M91.9 117.9h0M85.1 119.3h0M87.1 130.8h0M108.2 106.8h0M115.3 112.8h0M103.3 124.3h0M97.2 115.9h0M101.4 111.1h0M119 110.3h0M117.3 113.6h0M96 119h0M84.9 110.8h0M98.3 120.8h0M119.5 138.2h0M85.3 123.7h0M88.8 132.3h0M96.8 135.1h0M105.9 110.7h0M83.7 114.6h0M119.2 111.5h0M103.2 118.5h0M97.7 132.2h0M92.3 129.5h0M110.9 136.4h0" stroke="#b2aab2" stroke-width="1.6" stroke-linecap="round" fill="none" opacity="0.50"/>
<path d="M104.9 136h0M101.6 124.9h0M109 133.4h0M120.4 110.4h0M89.1 123.7h0M116.9 123.7h0M95.8 137.3h0M95.7 109.5h0M85.6 107.7h0M113.4 110.1h0M112.9 134.2h0M124.6 132.4h0M100.9 126.5h0M117.7 129.5h0M95.4 130.9h0M88 116.5h0M124.4 121.7h0M94.5 131.7h0M102 106.8h0M84.7 114.9h0M97.1 136.5h0M93.7 133.7h0M118.6 119.9h0M124.3 130.9h0M103.4 115h0M102.5 135.4h0M105.6 112.9h0M98.9 121.8h0M91.3 124.9h0M84.9 132.8h0M90.8 110h0M107.7 116.5h0M119.9 122.5h0M104.9 133.2h0M92.3 130.4h0M110.2 120.3h0M122.9 107.4h0M118.9 111.3h0M118 111.6h0M85.7 122.6h0M121.6 114.9h0M103.5 126h0M93.5 123.6h0M83.9 121h0M114.7 117.5h0M92.6 108.3h0M112.3 120.3h0M121.1 130.2h0M87.6 135.8h0M121.8 132.7h0M117.7 128.4h0M113.1 127.9h0M107.8 114.9h0M89 129.8h0M108 108.5h0M109.9 126.1h0M104.5 131.3h0M119.5 118.8h0M117 122.6h0M107 119.9h0M121.8 120.8h0M122.6 117.5h0M111.1 135.7h0M111.6 118.6h0M86.7 121.9h0M100.5 132.6h0M115.7 138.1h0M101.9 119.8h0M106.7 130.5h0M86.8 113.6h0M89.5 117h0M95.8 137.5h0M92 136.4h0M95.6 113.2h0M123.5 109.5h0M88.1 110.8h0M86.3 119h0M92.2 111.8h0M84.1 128.9h0M85.5 114.1h0M106.7 134.8h0M110.6 129.2h0M112.3 132h0M118.6 111.6h0M85.7 126.4h0M104.8 123.3h0M115.6 112.2h0M112.5 120.3h0M100.8 114.5h0M95.1 125.1h0M106.3 135.5h0M95 129.5h0M87.5 127.4h0M90.1 134h0M123.2 114.8h0M116.7 113.7h0M96.1 110h0M101.6 110h0M112.5 125h0M100.8 129.3h0M93.1 117.2h0M98.4 106.8h0M120 109.5h0M87.7 132.1h0M117.1 120.9h0M100.8 111.1h0M83.5 123.3h0M93.5 111.5h0M120.7 107.3h0M98.4 130.6h0M114.2 110.1h0M114 124.6h0M109.4 136.7h0M116.3 125.8h0M115.1 122.3h0M106.2 132.7h0M109 118.7h0M84.3 131.8h0M97.5 120.3h0M95.3 124.4h0M100 133.2h0M107.9 124.5h0M115.7 120.7h0M105.5 130.6h0M113.2 130.3h0M120.1 124.4h0M106.3 112.7h0M93.4 120.5h0M104 135.3h0M85.3 117.8h0M113.9 121.3h0M118.4 111.8h0M115.2 120.4h0M106.8 108.5h0M100.1 132.2h0M113.7 124.6h0M100.9 107.9h0M112.2 120.9h0M113.3 126.2h0M100 134.5h0M88.9 137.2h0M87 137.5h0M107.6 120.9h0M122 123h0M104.4 108.6h0M116.3 127h0M93.3 110.3h0M100.8 136.4h0M119.3 121.5h0M85 133.1h0M91.8 129.9h0M104 137.3h0M89.6 131.9h0M113.1 107.2h0M106.7 116.1h0M112.1 137.3h0M110.9 122.4h0M108.3 114.6h0M102.7 110.4h0M113.1 108.8h0" stroke="#7a7080" stroke-width="1" stroke-linecap="round" fill="none" opacity="0.55"/>
<path d="M90.9 124.6L91.3 124.7M113.1 134.9L114.7 134.9M109.3 126.9L109.8 127.4M105 131.7L103.5 131M92.4 130.5L92.4 132M102 130.6L101.6 130.8M111.1 132.6L110.9 131.8M92.4 115.5L92.9 114.2M83.5 131.5L82.2 132.2M101.6 128.7L102.2 129.4M101.7 108.9L103.3 110.3M108.9 127.8L109.9 129.7M119.6 121.6L118 121.9M122.9 117.5L121.9 119M114.9 134L113.2 132.8M89.9 124.9L89.5 124.7M95.2 132.5L95.6 133.6M107.3 118.9L107.1 119.3M102.9 128.4L104 128.9M92.1 110.6L91.4 109.2M93.6 130.6L93.9 129.7M114 120.4L115.5 121.9M85.6 111.6L85.8 109.8M93.7 134.3L94.1 135.5M93.7 130.7L94.5 130.1M118.1 126.8L118.1 126.4M122.4 137.6L122.4 137.1M87.8 134.5L87.5 135.7M86.1 120.2L87.2 119M120.2 110.1L119.9 110.7M87.2 127.5L87.6 128.6M88.6 128.4L86.4 128.8M99.9 118.4L100.4 119.4M111.9 122L112.1 122.3M98 133.1L96.9 132M107.3 119.9L108.6 119.4M92.3 135.4L93.1 133.4M87.8 129.5L88.1 129.1M103.6 123.2L103 122.9M101.9 120.7L102.3 121.6M117.9 137.4L117.7 138.4M119 115L118.7 115.7M94.6 130.2L96.3 128.9M118.9 118.3L119.5 119.5M100.9 137.9L101.4 137.7M123.6 131.9L125.6 132M93.3 138.4L93.2 137.2M112.4 110.1L110.5 109.8M107.5 135.3L109.3 135.9M86.1 126.7L86.4 127.6M123.8 109L123.7 109.4M90.5 122.5L91.1 124.4M102.8 135.8L103.8 134.5M96.7 126.8L96.4 126.8M117.1 123.8L118.1 122.1" stroke="#4a3e7c" stroke-width="1.3" stroke-linecap="round" fill="none" opacity="0.70"/>
<path d="M108.8 113.2h0M120 130.9h0M120 124.7h0M92.6 132.8h0" stroke="#3a3290" stroke-width="2.4" stroke-linecap="round" fill="none" opacity="0.85"/>
</g>
<rect x="83.50" y="106.70" width="41.10" height="31.80" fill="none" stroke="#2e2e2e" stroke-width="1.1"/>
<clipPath id="cp14"><rect x="127" y="106.7" width="42" height="31.799999999999997"/></clipPath>
<g clip-path="url(#cp14)">
<rect x="127.00" y="106.70" width="42.00" height="31.80" fill="#9a909e" stroke="none" stroke-width="0.6"/>
<path d="M131.5 129h0M154.4 136.6h0M138.4 114.8h0M157.8 127.6h0M139.7 128.5h0M143.7 131.4h0M132 113.8h0M164.9 118.1h0M137.9 132.3h0M153.5 111.5h0M150.2 127.8h0M133.9 127.4h0M132.2 117.4h0M130.5 113.2h0M168.1 119.5h0M168.6 120.6h0M152.5 134.4h0M155.8 110.2h0M151.7 126.9h0M134.6 109.7h0M163.7 123h0M135.1 121.1h0M136.2 132.1h0M148 110h0M161.4 109.5h0M138.8 107.6h0M158.1 110.3h0M149.1 109.7h0M147.2 128.5h0M149.5 121.2h0M147.4 120.6h0M152 109.7h0M146.9 114.2h0M163.3 136.6h0M129.8 111.3h0M156.5 124.9h0M127.8 129.1h0M166.6 120.2h0M141.6 124.8h0M166.4 115.1h0M139.7 112.7h0M153.4 121.6h0M137.8 119h0M128.5 116.6h0M168.3 125.3h0M138.9 136.5h0M142 114.7h0M128.5 111.3h0M135.4 114h0M163.7 115.1h0M137.4 125.9h0M165.5 116h0M159 118.4h0M150.6 125.6h0M166.6 130.8h0M148.3 133.5h0M142.4 118.9h0M167.3 124.1h0M159.5 116.7h0M165.4 126.2h0M137.4 136.4h0M146.7 117.5h0M138 110h0M135.4 128.7h0M132.9 114.9h0M145.8 124h0M143 131.7h0M137.8 118.4h0M144.9 110.8h0M136.3 111.4h0M157.5 111.4h0M155.1 113.8h0M154.2 127.6h0M141.8 136.4h0M154.6 124.4h0M128.9 119.6h0M138.2 121.6h0M166.2 134.2h0M129.6 128.3h0M166.2 123.9h0M131.1 134.3h0M144.9 137.9h0M163.7 133.1h0M166.1 108.9h0M160.3 116.4h0M132.7 118.8h0M151.7 106.9h0M145.9 131.6h0M147.8 123.5h0M139.4 137.6h0" stroke="#b2aab2" stroke-width="1.6" stroke-linecap="round" fill="none" opacity="0.50"/>
<path d="M137.4 128.4h0M154.1 106.7h0M168.9 114.2h0M168.5 136.2h0M164.8 133.9h0M143.7 120.9h0M141.5 136.5h0M128.2 111.1h0M167.2 132.3h0M156.7 137.5h0M149 133.3h0M145.6 135.3h0M129.9 120.6h0M151.2 132h0M144.7 128.3h0M167.6 120h0M135.4 107.7h0M163.2 121.8h0M143.3 123.2h0M132.1 113.8h0M136.9 114.8h0M163.1 114.5h0M130.8 134.3h0M150.4 107.6h0M155.4 128.5h0M154.3 131.3h0M144.8 113.9h0M158.3 126.6h0M156.6 112.5h0M142.7 128.7h0M143.2 125.9h0M146.9 130.7h0M141.6 122.5h0M161.8 116.6h0M134.4 126.9h0M132.6 134h0M138.5 135.5h0M149.4 111.6h0M148.9 128.4h0M147.4 126.9h0M142.5 137.2h0M134.3 132.1h0M128 122.8h0M129.8 110.9h0M151.7 135.5h0M140 119.5h0M147 125.9h0M141.7 117.9h0M162.8 124.4h0M141.8 132.7h0M169 120.4h0M127.6 116.4h0M164.7 112.2h0M135.3 131.9h0M131.8 133.7h0M136.5 119h0M152 110.3h0M159.5 120.6h0M159.4 131h0M130.2 132.9h0M161.5 114.4h0M151.8 113.2h0M149.6 130.6h0M142.8 123.6h0M132.5 134.1h0M153.3 133.1h0M130.4 130.4h0M130.8 124.4h0M136.7 135.4h0M131.5 121.7h0M146.8 119h0M129.7 127.9h0M167.8 118.2h0M164.7 117.5h0M138.5 121.2h0M167.9 131.5h0M153.6 108h0M146 107.2h0M129.6 118.7h0M137.2 110h0M148.5 131.6h0M165.9 135.8h0M144.9 112.4h0M167.5 120.2h0M141.4 132.9h0M150.4 137h0M156.4 136.8h0M133.4 136.7h0M149.7 128.9h0M139.6 114.5h0M139.5 112.1h0M167.3 110.5h0M137.2 126.8h0M135.6 113.5h0M137.6 114.1h0M127.4 130.2h0M154.7 116.6h0M164.8 124.5h0M136.2 137.4h0M136.6 132.4h0M161.3 106.8h0M162.6 120.1h0M148.1 136.8h0M146 114.4h0M129.1 134.9h0M146.1 129.3h0M153.9 137.9h0M166.3 136.5h0M148.2 135.6h0M139.9 110.6h0M153.9 107.6h0M167.8 117h0M144.8 115.9h0M140.6 123.8h0M160.6 107.2h0M141.4 114.5h0M167.3 120.7h0M145.7 136.5h0M143.3 118.9h0M143.8 114.2h0M156.6 115.8h0M148.4 124.9h0M159.2 130.2h0M147.2 136.9h0M166.7 136.5h0M157 121.1h0M142.1 134.1h0M146.9 130.5h0M143.3 118.3h0M127.8 129.9h0M139.2 122.4h0M157.5 133.2h0M166.7 127.8h0M136.8 136.2h0M129.3 119.8h0M165.9 133.6h0M152 134.3h0M134.4 108h0M139.5 136.3h0M128.7 117h0M148.3 113.2h0M163.6 110.1h0M130.6 138.4h0M127.5 113.8h0M144.2 134.7h0M141.1 124.8h0M160.8 126.4h0M161.9 107.2h0M149.7 107.4h0M162.8 107.5h0M131 120.3h0M153.1 107.1h0M153.9 110h0M140.6 108h0M157.5 133.1h0M159.3 116.9h0M137.5 137.3h0M161.3 137.5h0M144.4 134.7h0M155.5 131.7h0" stroke="#7a7080" stroke-width="1" stroke-linecap="round" fill="none" opacity="0.55"/>
<path d="M159.9 122.6L159.1 122.7M138.7 120.2L136.9 119.9M135.5 120.3L135.3 120.5M148.4 138.3L148.8 138.3M141.2 126.3L140.9 126.9M136.8 116.4L137.3 116.9M164.6 119.4L165.1 119.9M141.9 108.8L141 108.8M142.9 117.3L144.5 115.8M131.6 134.9L131.1 135.8M130.7 127.2L131.2 126.7M146.6 135L148.6 135.8M150.2 136.8L149 138.6M165.8 116.5L167.2 117.3M145.8 118L145.4 120.1M152.2 131.3L150.7 131.1M150.1 121.2L149.6 119.1M143.8 119L144.6 119.6M148 116.9L148.8 116.8M145.8 136.2L145.5 134.4M158.7 133.9L157.3 132.8M139.8 114L137.7 114.4M134.6 129.8L134 130.2M138.5 127.2L138.2 127.2M148.7 128L150.5 127.5M138.3 120.5L136.5 119.9M143.2 124.5L142.5 124.6M143 124.8L143.8 125.6M153.4 133.9L153.4 132.9M139.7 121.1L139.9 122.4M159 114.8L158.3 113.6M128.6 120.7L128.2 122.6M156.5 138L157.9 137.2M147.6 127.3L147.2 125.3M135.7 120.4L136.9 121.6M139.3 136.8L139.5 134.9M148.6 129.1L147.9 128.9M151.2 115.3L151.6 115.7M150.2 117L150 117.7M133.7 119.9L131.9 119.4M133.4 117.2L134.4 117.9M161.1 115.7L162 117.3M156.9 125.8L157.4 124.7M143.6 126.4L141.8 127.4M161.8 127.6L162.1 127.3M142.2 114.4L140.7 112.8M137.2 129.1L136.5 130.4M147.3 124.8L147.7 124.7M144 109.4L143.2 109.6M147.5 116.8L149.6 116.8M149.7 125.3L148.7 127.4M149.6 119.5L150.5 119.7M156.8 132.8L156.9 132.1M140.6 123.5L140 121.9M165.3 120.7L164.6 119.7M141.5 119.2L141.7 119M138.2 119.8L139.7 118.9M161.1 129.9L161.2 128.9M145 129.9L144.9 131.3M152.2 132.5L153.8 133.6M140.5 137.6L141 139M149.9 122.9L149 122.4M160.4 117.6L161.7 117.7M129.4 134.5L128.2 133.9M157.7 132.7L159.2 133.6M161.6 132.3L161.6 132.8M159.4 121.5L157.4 121.6M153.9 123.4L153.7 122.8M155.6 116L156.4 117M154 135L155.4 134.3M157.9 119.3L157.9 118.7M140.8 123.2L141 124.8M148.8 118.8L147.5 119.9M146.3 137.8L146.9 137.7M139.6 112.5L139.3 111.8M139.6 119.1L139.9 120.6M154.6 125.4L153.4 124.3M136.8 121.4L138.7 121.2M150.8 130.5L150.1 130.2M135.7 117.1L135.1 115.3M128.3 135.3L128 135.8M143.9 120.3L142.7 120.2M141.1 121.3L141 120.7M163.3 108.9L163 108M139.8 123.5L141 122.1M150.3 121.8L150.2 122.6M148.6 131.5L148.5 132.6M143.2 119.2L143.8 118.8M164.8 135.3L164.7 136.6M159.6 138.1L159.3 136.4M147.5 126L147.3 126.3M143.7 110.4L142.8 110.4M142.2 127.7L144 126.7M146.4 133.8L148 133.7M149.6 128.6L150.5 128.4M141.2 133.7L141.2 133.3M168.4 116.1L167.8 116.9M134.8 123.5L133.6 121.8M128.4 128.3L127.6 127.5M145.7 131L147.6 131.1M137.3 121.3L137 119.7M144.1 115.6L143.8 113.8M137.8 109L138.9 108.2M158.3 120.2L159.8 118.8M138.8 118.7L137.5 120.2M138.9 119.2L138.1 118.1M142.6 117.3L144.7 116.8M141.1 132.2L139.3 130.8M150.1 125.8L151.4 126.1M151.1 136.7L151.3 137M155.2 123.4L155.5 122.8M153.4 128.1L155.1 128M140.4 119L142 119.8M145.3 120.3L147.2 120.3M147.5 137.2L146.5 137.4M129.5 121.1L129.1 120.1M160.8 117L160.9 115.8M144.9 136.8L144.6 136M156.9 122.2L155.8 121.6M158.6 136L159 136.1M153.9 109.7L154.5 110.4M152.2 119.1L152.5 118.5M149.6 134.2L149.8 135M142.3 117.9L144 118.5M139.1 111.9L137.9 112.3M137.5 115L137.5 115.6M130.8 125.7L130.7 123.9M140.8 121.1L142 122.1M155.8 108L155.9 107.6M167.7 110.2L165.9 109.4M134.5 118.3L135.2 118.4M131.1 109.5L132 107.8M137.3 113.4L138.9 113.2M168.3 122.9L168.3 121.8M164.9 112.6L162.9 113.4M144.3 121.9L145.4 122.4M148.1 124.6L148.3 125.6M134.6 122.4L134.7 121M138 136.9L136.7 137.6M140.1 120.6L139.4 118.9M139.7 112.7L141 114M153.9 134.3L153.9 133.9M158.1 126.6L159.3 127.1M165.7 114.4L167.1 114M143.5 130.7L143.7 128.8M128 108.9L128.5 108.8M138.7 120.6L136.9 121.6M127.9 130.5L127.6 129.2M136.7 120.2L136.1 119.8M151.1 133.2L150.1 132.9M140 115L139.8 116.5M153.8 127.3L153.6 129M144.2 112.7L142.6 113.8M157.9 126.9L158.6 127.2M130.3 133.8L130.2 134.4M151.3 130.7L152.1 131.5M133.7 118.9L134.5 119M134.6 129.3L134.5 129M150.1 125.1L150.5 125.4M136.5 115.6L136.5 116.1M152.1 107L151.5 108.7M149.3 107.1L148.9 107M149.3 130.2L149.5 132M138.3 116.4L138.1 116.7M143 129.2L142.1 128.1M161.6 134.2L162.4 133.2M150.9 126.5L151.7 128.3M139.7 116.4L140.6 116.7M147.7 131L146.6 130.7M139.1 116.4L137.4 116.8M133 121.8L133.6 119.7M165.3 134.2L166.9 134.7M147.8 109.2L148.3 109M144.6 128.5L145.7 129.7M133.3 137.5L133.3 136.5M141.8 114.4L142.2 115.3M152.7 126.5L153.9 125.1M164 135.3L164.3 133.7M159.2 131.8L159.2 134.1M158.5 133.7L158.8 134.5M144.6 134.9L144.5 133.6M129.5 113.5L128.7 113.8M137 113.7L138 115.7M134.9 115.5L133.5 114.7M153.2 129.5L152.6 130.2M141 137.4L140.6 137.3M165.1 116.1L165 115.7M143.7 123.2L142.4 122.7M156.1 128.8L157.5 128.7M131.6 115.8L133.2 115.7" stroke="#4a3c90" stroke-width="1.3" stroke-linecap="round" fill="none" opacity="0.70"/>
</g>
<rect x="127.00" y="106.70" width="42.00" height="31.80" fill="none" stroke="#2e2e2e" stroke-width="1.1"/>
<clipPath id="cp15"><rect x="265.5" y="69" width="42.0" height="32"/></clipPath>
<g clip-path="url(#cp15)">
<rect x="265.50" y="69.00" width="42.00" height="32.00" fill="#978898" stroke="none" stroke-width="0.6"/>
<path d="M306 69.4h0M296.4 74.1h0M306.9 69.5h0M302.4 90.8h0M301.5 101h0M275.6 79.8h0M295.2 78h0M276.6 76.3h0M301.5 97h0M299 76.1h0M304.3 85.4h0M275.2 83.6h0M283.1 71.5h0M289.2 80.5h0M289.4 98.8h0M292.6 82h0M301.8 100.8h0M286.1 99.2h0M266.3 73.5h0M272.7 99h0M294.5 92h0M277.5 84.8h0M302.8 72.2h0M270.4 70.5h0M285.2 95.9h0M288.8 81.8h0M286.6 74.7h0M305.3 80.3h0M275.4 79h0M300.1 79.2h0M303.5 79.8h0M284 71.4h0M303.6 94.5h0M285.4 72.7h0M286.2 81h0M300.8 98.7h0M296.6 78.2h0M267.2 97.6h0M305.2 74.1h0M286.5 84.4h0M306.5 70.4h0M268.1 96h0M289.4 83.8h0M298.2 88h0M294.6 77.2h0M269.1 69.3h0M279.5 89.8h0M281.5 80.1h0M291.5 91.6h0M290.5 79h0M300 94.6h0M303 97.6h0M266.1 90.4h0M280.1 81.4h0M287.3 73.6h0M276 100.6h0M279.4 98.2h0M294.2 79.1h0M278.9 88.4h0M295 79.9h0M268 74.5h0M301.6 92.3h0M270 95.7h0M289.7 79.7h0M303 73.1h0M269.6 80h0M296.5 86.5h0M285.8 98h0M282 94.2h0M265.7 94.1h0M272 90h0M300.7 90h0M289.8 86.6h0M297.1 80.8h0M275.3 86.8h0M287.4 72.7h0M287.8 83.9h0M272.1 91.6h0M298.2 79.8h0M301.8 100.6h0M293.3 82.1h0M276.9 73.2h0M277 101h0M268 98.3h0M294.8 94.1h0M269.7 89.7h0M274.1 90.7h0M298.9 92.1h0M288 97.3h0M275.1 74h0" stroke="#b2aab2" stroke-width="1.6" stroke-linecap="round" fill="none" opacity="0.50"/>
<path d="M301.9 70.8h0M283.1 82.4h0M302.3 80.9h0M289.4 85h0M285.6 84.1h0M285.2 88.1h0M283.7 82.5h0M304.3 100.2h0M275.9 99.3h0M266.5 79.6h0M303.3 74.4h0M293.6 100.8h0M291.2 83.7h0M266.8 83.4h0M285 94.2h0M281.9 94.8h0M282.5 89.3h0M297.4 74.3h0M305.5 83.4h0M285.6 100.1h0M289.5 85.6h0M274.5 76h0M297.4 85.2h0M293.2 91.3h0M294.2 79.3h0M301.7 83.4h0M272.9 96.8h0M303.4 72.9h0M302.7 91h0M276.8 87.4h0M304.2 73.9h0M293.2 76.7h0M271.8 99.4h0M307.3 90h0M298.8 81.6h0M283.5 88.7h0M299.7 91.4h0M285.2 89.1h0M282.4 94.9h0M302 93.8h0M279 81.2h0M306.7 81.1h0M293.4 72.1h0M271 76.2h0M293.8 76.3h0M293.1 71.3h0M294.5 91.5h0M276.3 76.6h0M276 84.8h0M273.3 76.5h0M299.3 99h0M272.3 85.6h0M293.2 99.4h0M289 86h0M297.9 94.2h0M295.4 88.9h0M299.6 70.3h0M297.7 76.1h0M280.3 81.6h0M287.3 87.9h0M290.1 79.1h0M280.7 90h0M304.6 81.2h0M265.8 96.3h0M302.8 95.9h0M292.2 82.4h0M268.2 98.5h0M283.8 72.9h0M291.7 70.4h0M281.8 88.3h0M299.2 80.5h0M273.7 80h0M300 71.9h0M271.3 80.1h0M305.5 97.3h0M306.1 70.5h0M286.5 73.6h0M290.1 94.4h0M285.7 91.1h0M294.1 85.2h0M281.9 76.7h0M295.8 100.4h0M306.2 98.6h0M301.1 90h0M286.3 72.9h0M299 74.9h0M304.6 96.4h0M277.4 98h0M297.3 95h0M270.1 77.7h0M272 99.1h0M275.7 83.2h0M297.1 81.7h0M292 89h0M281.4 98.7h0M293.6 92.7h0M296.2 88.8h0M272.6 98.3h0M305.1 72.3h0M281 75h0M271 87.5h0M283.7 73.3h0M285.7 91.3h0M271.2 89.7h0M293.2 95.6h0M307.4 97.2h0M281.2 71.7h0M279.5 74.4h0M301.3 80.7h0M289 92.2h0M284.8 100.9h0M293.2 88.1h0M272.5 76.7h0M294.4 83.1h0M289.8 97.1h0M293.9 95.8h0M280.9 71.2h0M277.1 98h0M275.6 72.9h0M268.4 101h0M274.3 71.4h0M280.6 70.4h0M296.2 91h0M283.3 92.2h0M266.3 94.5h0M292.5 93.1h0M271.5 99.5h0M306.9 84.4h0M278.9 85.5h0M295.3 83.8h0M288.3 99.5h0M295.3 81.4h0M303.7 94.2h0M266.4 84.8h0M278.2 78.8h0M281 95.8h0M291.1 76.9h0M268.3 73.8h0M281.3 86.3h0M286.4 82.6h0M287.7 78.9h0M305.5 76h0M281 90.1h0M300.7 81.9h0M292.1 77.1h0M266 100h0M268.3 93.4h0M266.8 78.6h0M287.1 97.8h0M299.3 78.6h0M265.8 93.1h0M296.8 98.9h0M271.1 90.4h0M291.4 97.1h0M301.1 93.6h0M301.2 71.6h0M307 88.3h0M303.1 73.8h0M287.2 97.4h0M306.1 88.6h0" stroke="#66587a" stroke-width="1" stroke-linecap="round" fill="none" opacity="0.55"/>
<path d="M266.5 72.3L267 71.8M283.4 98.3L284.2 99.3M296.5 100.8L294.7 100.8M271.1 69.2L271.9 69M297.9 83.5L297.8 82.8M298.2 94.1L298.4 96M273.9 87.3L274.3 86.8M297.1 89.9L297.4 90.2M279.7 82.3L279.5 81.6M277.6 92.3L277.1 93.7M294.9 76.6L293.6 76.6M304.4 95.1L303.2 95.4M284.3 93.6L283.4 92.7M298.6 83.4L297.5 83.6M271.5 90L272.6 89.4M269.5 85.6L271.2 86M305.7 90.8L304.2 90.9M300.2 98.6L300.5 99.8M268.9 73.6L269.3 75.3M298.1 85.6L299.8 86.9M278.8 93L279.3 90.9M292.5 95.9L293.7 94M305.7 81.7L307 81.3M283 72.3L282 73.3M275.5 69.4L273.3 69.2M303.4 98.5L302.2 98.5M296.9 77.5L297.7 77.3M301 84.5L301 83M268.2 98.8L270 97.6M265.8 83.2L265.9 83.8M293.1 75.3L294 75.8M302.5 85.2L302 84.6M274.6 86.3L272.6 86.1M286.2 90.7L285.6 91.4M277.7 79.7L278 81M295.9 91.2L293.9 91.2M268.3 84.8L269.2 84.9M295.3 87.6L296.3 88.1M293.3 94.5L294.4 94.2M307.2 85L307.5 84.4M267.7 75.8L268.8 76.2M283.3 73.2L283 72.5M273.9 87.5L272.3 87.4M285.1 76.9L285.4 76.6M278.4 89.9L277.5 90.3M288.3 80.6L289.3 81.6M290.3 75L289.1 75M282.6 93.5L282.9 94.2M298 73.3L298.7 73.3M269.6 84.6L269.1 83.5M288.9 91.5L287.6 92.5M311.2 84.8L310.7 85.8M281.9 93.9L281.4 93.8M293.1 88.2L292.9 86.6M280.9 93L282.7 93.5M270.7 85.2L268.9 85.8M270.9 92.8L271.1 94.5M290.4 95L291.1 97M309.9 85.6L309.8 85.2M293.7 90.8L293.3 91M278.3 93.2L278.5 93.9M294 95.8L295.2 96.9M283.6 89.4L283.1 90.3M281.1 89.9L282.8 91M287.4 73.4L287.2 71.2M290.9 99.4L291.3 99M275.1 88.3L274.2 88.4M300.5 84.2L301.9 84.6M270.9 77.1L270 76.8M297 84L295.8 83.1M280.1 100L281.8 101.6M296.2 98.1L296.5 97.4M300.3 90.9L299.4 92.6M275 98.3L275 96.1M273.9 94.9L274.1 95.6M273.9 80.4L274.1 79.9M277.2 98.4L278.6 98.8M279.7 83.7L281.6 82.8M300.5 80.4L301.1 80.3M265.6 83.1L267.1 84.3M290.3 95.4L290.3 96.2M291.7 98.3L292.6 97.3M304.9 99.6L304.8 99.2M294.2 100.5L293.2 101.8M268.4 75.9L269.4 76.6M280.4 79.7L281.6 81.4M288.6 97.8L289.9 96.1M296.4 101L296.3 102.5M290.9 96L289.5 96.7M285.7 76.5L284.6 74.6" stroke="#4a3870" stroke-width="1.3" stroke-linecap="round" fill="none" opacity="0.70"/>
<path d="M298.8 86.8h0M289.9 89.4h0M278.1 83.8h0M278.5 87h0M276.2 85.7h0M287.5 88.9h0M296.2 79.2h0M285.7 91.2h0M304.4 84.2h0M276.9 92h0M276.7 83.8h0M297.3 83.3h0M276.7 77h0M295.5 87.5h0M274.5 92.1h0M276.8 97.9h0M292.9 87.1h0M280.8 90.2h0M280.8 71.5h0M304.3 85.4h0M278.7 82.6h0M306.1 76.8h0M287 71.8h0M306.8 77.2h0M289.2 78.9h0M288.9 77.2h0M302.3 90.3h0M279.6 76.5h0M283.7 89.8h0M267.3 97.5h0M273.1 83.2h0M295.5 81.8h0M284.6 94h0M275.2 75.1h0M284.9 87.9h0M278 77.2h0M277.4 82.1h0M275.7 88.9h0M298.6 82.2h0M279.8 80.1h0" stroke="#3a2a5e" stroke-width="2.6" stroke-linecap="round" fill="none" opacity="0.80"/>
</g>
<rect x="265.50" y="69.00" width="42.00" height="32.00" fill="none" stroke="#2e2e2e" stroke-width="1.1"/>
<clipPath id="cp16"><rect x="309" y="69" width="41.5" height="32"/></clipPath>
<g clip-path="url(#cp16)">
<rect x="309.00" y="69.00" width="41.50" height="32.00" fill="#b0a8bc" stroke="none" stroke-width="0.6"/>
<path d="M324 84.4h0M326.3 83.3h0M326 90h0M319.7 89.3h0M309.4 78.7h0M322.9 73.5h0M339.9 78.9h0M341.8 99.6h0M319.5 97.6h0M342.5 90.4h0M310.1 83.6h0M335 78.5h0M318.3 78.9h0M319.7 94.2h0M323.4 82.5h0M335.7 99.3h0M321.2 70.4h0M349.4 95.6h0M341.8 85.7h0M318.7 73.9h0M321.6 83.7h0M311.7 91.4h0M339.2 69.4h0M344 84.7h0M347.1 84.2h0M342 83.5h0M334.4 85h0M309.9 73.6h0M318.6 82h0M324.3 86.3h0M336.4 81.8h0M322.3 85.4h0M348.5 94.1h0M336.2 95.1h0M318.5 72.2h0M312.9 72.9h0M309.4 89h0M347.1 72.6h0M337.5 99.1h0M340.8 73.9h0M335.5 77.2h0M316.4 69.4h0M330.8 98.4h0M313.3 73.7h0M325.1 70.2h0M328.3 92.4h0M328.1 70.2h0M310.3 75.3h0M336.7 98.6h0M329.9 72.3h0M318 82.3h0M313.5 72.7h0M327 95.9h0M318.9 97.3h0M345.4 82.9h0M318.3 74.9h0M336.7 95.4h0M344.7 75.7h0M326.7 69.7h0M321.6 78.4h0M314.1 71.4h0M350.2 78.8h0M329.7 86.1h0M328.6 87.9h0M329.9 84.7h0M312.3 89.2h0M336.8 92.2h0M322 83.8h0M342.5 92.3h0M311.2 79.7h0M316.1 91.8h0M325.7 81.5h0M318.3 83.5h0M338.8 89.2h0M318.2 81.6h0M334.9 70.8h0M346.4 69.7h0M334.9 73.7h0M348.7 91.1h0M318.2 85.1h0M344.1 96.3h0M336.5 89.4h0M339.8 98.3h0M330.3 88.7h0M342.1 85.3h0M318.1 87.6h0M323.5 91.9h0M340 98h0M313.5 69.7h0M347.6 92.4h0" stroke="#b2aab2" stroke-width="1.6" stroke-linecap="round" fill="none" opacity="0.50"/>
<path d="M350.4 95h0M348.6 74h0M316.7 88.6h0M340.5 72.8h0M348.3 76.4h0M317.4 83h0M316.6 71.9h0M312.3 70h0M315.2 90.7h0M341.4 93.7h0M326.3 93.1h0M313.8 96.7h0M326 72.9h0M324.9 75.2h0M339.8 81h0M309.7 75.2h0M312.3 99.4h0M326.1 94.1h0M333.6 82.2h0M339.4 86.7h0M310.8 100.8h0M323.5 89.9h0M326.3 99.8h0M315.9 70.8h0M310.8 81.8h0M344.2 83.3h0M347.6 73.6h0M349.1 74.4h0M345.7 75.2h0M333.2 88.7h0M349.3 82.2h0M344 70.6h0M346.3 85.6h0M331.3 100h0M322 88.7h0M333.3 78.7h0M315.1 82.7h0M320.7 88.5h0M326 71.6h0M337.6 98.6h0M334.6 78.5h0M321.6 99.6h0M327.4 92.2h0M312.1 95h0M346.1 77.3h0M321.7 89.8h0M348.5 94.2h0M309.9 72.7h0M345.9 81.9h0M348.5 83.4h0M343.7 76h0M349 84.2h0M309.2 75.3h0M312.4 82.4h0M348.7 100.1h0M347.5 82.1h0M340.9 92.8h0M343.5 100h0M343.6 93.5h0M322.2 74.4h0M326.3 78.3h0M340.2 74h0M317.4 92.4h0M310.6 71.7h0M309 69.6h0M313.1 92.7h0M320.2 72.4h0M329.7 80.4h0M309.1 71.1h0M319.5 82.4h0M313.9 82.4h0M329.1 98.7h0M334.3 78.8h0M318.2 74.8h0M325.1 99.5h0M349.2 73.7h0M335.8 93.4h0M347.4 93.3h0M335.3 71.9h0M320 99.1h0M346.8 97.3h0M323 94h0M341.7 81.7h0M322.9 83.7h0M331.3 69.6h0M309.9 101h0M325.9 82.1h0M333.5 85.9h0M338 86h0M309.8 70.4h0M319.9 80.6h0M349.9 84.9h0M314.4 95.7h0M322.1 82.5h0M335.2 92h0M319.1 82.2h0M309.4 98.9h0M345.4 95.2h0M317.5 89.1h0M326.9 73.8h0M317.8 96.9h0M334.2 88.1h0M314.7 87.8h0M346.1 75.4h0M318.7 98.9h0M320.4 83.7h0M347.1 92.5h0M322 79.7h0M319.2 70.3h0M330.7 73.7h0M319.7 95.5h0M314 71.6h0M311.1 89.2h0M319.2 77.6h0M330.6 92.4h0M349.3 70.9h0M323.4 69.5h0M323.6 90.3h0M323 82.7h0M321.7 100.4h0M342.6 97.4h0M334.5 97.6h0M335.7 72h0M314.5 99.4h0M331.9 92.6h0M332.2 97.6h0M317.3 74.1h0M318 92.5h0M333.8 86h0M317.5 82.6h0M321 72.1h0M348.6 94.6h0M341.9 81h0M343.8 94.9h0M318.7 99.6h0M342.5 70.8h0M313.3 71.8h0M336.8 74h0M315.1 70.1h0M327.1 78.8h0M332.3 74.7h0M338 89h0M325.4 99.9h0M333.6 86.4h0M318.8 78.7h0M338.8 80.1h0M313.5 82.4h0M329.4 73.6h0M319.1 98.6h0M342.6 83h0M340.5 89.6h0M317.1 86.6h0M311.7 88.3h0M331.3 72.3h0M330.4 76.8h0M336.4 100.6h0M342.5 71.1h0M333.7 86.6h0M347.1 78.1h0M313 80.8h0" stroke="#7a6a9a" stroke-width="1" stroke-linecap="round" fill="none" opacity="0.55"/>
<path d="M323.1 96L321.4 94.8M340.6 83L339.8 83.3M337.2 79.3L335.4 79.9M319.1 85.3L317.7 86.9M322.1 85.4L322.7 83.3M338.9 77L338.2 75.6M321.4 85.8L321.9 85.5M336.8 89.8L336.9 87.8M323.2 88.5L323 88M324.5 85.9L323.9 87.8M316.8 94.6L317.5 94.1M347.7 74.1L349 73.6M336 89.5L335.5 89.7M342.5 69L341.9 70.6M320.8 95.7L319.8 95.7M350.4 78.7L349.5 80.7M333.5 70.7L331.3 71.2M329.6 99.8L330.7 100M323 69.7L323.3 69.5M341.6 92L340.4 93.1M332.7 78.6L333 77.1M324.8 77.6L325 78.5M347.2 95.7L348 96.2M329.8 93.2L329.9 92.3M324.5 75.3L324.2 73.4M325.1 91.5L325.2 90.6M336.2 87.1L335.6 86.4M319.1 100.1L319.1 98.7M311.4 72.8L311.8 73.7M324.8 88.4L326.2 89.6M336.7 73L337.8 71.6M338.2 80.2L338 79.2M344.4 72.7L345 72.1M341.2 76L341.8 76.1M320.8 96.1L321.5 97.4M315.5 72.2L316.2 73.1M313.4 86.7L314 86.8M310.5 93.9L312.2 94M348.6 96.5L348.9 96.3M309 75.9L308.5 75.8M336.4 76L336.7 74.5M311.7 74.4L313.5 74.5M321.3 77.7L322.8 77.8M309.1 88.3L310.7 88.9M334.5 75.7L333.5 74.1M335 76.7L336.2 76.5M330.2 90.3L329.8 92.1M321.7 100.2L322.5 101.7M331 79.2L330.3 77.8M344.5 87L343.9 86.9M313.5 83.9L312.8 84.7M319.3 74.3L318.8 73.6M316 84.4L318.1 83.9M340.3 85.5L338.8 85.7M345.6 83.1L345.9 82.8M318.2 98.2L317.8 100.2M319.5 96.7L317.5 96.8M313.2 85.1L311.8 86.8M335.8 97.6L335.1 98.8M333.4 78.1L333.8 80M340.8 85.8L341.4 85.4M348.2 73.7L349 73.1M314.6 92.6L313.7 92.8M321.7 70.4L322.9 69.8M317.6 91.6L318 91.3M309.8 76.6L309.3 76M330.4 90.5L331.3 89.4M317 76L317.3 74.6M327.2 98L327.8 97.5M330 92.2L331.8 90.9M342 90.9L341.9 89.9M334.3 87.3L334.7 87M342.6 99.2L341.9 100.2M333.4 97.8L332.8 98.7M336.2 100.9L336.6 99.5M327.6 71.3L325.6 71.6M336.3 78.2L337.4 79.8M331.5 98.1L333.2 98.9M344.5 99.9L344.6 102.1M309.2 86.5L310.2 87.7M329.2 70.7L329.6 70.5M334.5 77.9L335.4 79M323.9 91.4L324.7 91.9M348.3 72.1L347 72.9M331.3 92.6L330.6 92.9M322.5 83L321.1 83.7M341.5 90.5L340.2 91.5M321.2 87.2L319.6 87.3M350.2 75L351.5 74.8M320.3 92.7L321.8 91.7M325 78.8L325 77M334.4 85.6L333.9 85.7M323.4 92.9L321.1 92.9M343.2 81.2L342.6 80.2M316.6 83.9L316.4 84.2M345.5 100.6L344.7 100.2M330.5 70L330.2 69.4M314.2 97.1L313.9 99.2M310 71.4L310.4 71.2M335.2 100.5L335.5 98.9M327.2 89.8L328.5 91.5M312.3 70.1L312 71.1M321.4 82.3L320.1 82.6M321.7 97.1L321.8 96.4M338.2 70L339.1 69.4M329.9 71.7L330.9 73.3M331 93L331.3 92.9M312.1 69.5L313 69.6M336 82.8L334.9 82.2M312.8 80.4L314.4 78.9" stroke="#4a2c9c" stroke-width="1.3" stroke-linecap="round" fill="none" opacity="0.70"/>
<path d="M331.9 84.8h0M343 98.2h0M310.3 82.4h0M350.5 93.1h0M336.1 90.9h0M311.4 91.7h0M330.9 71h0M314.6 75.6h0M323.7 76.1h0M335.9 91.6h0M342.7 88.1h0M333.8 85.1h0M337.8 92.1h0M312.1 94.6h0M350.3 100.5h0M321.3 76.2h0M348.1 95.2h0M312.6 85.9h0M334.5 71.5h0M349 75.8h0M345.4 75.4h0M310.1 76h0M311.4 91.8h0M333.1 76.6h0M342.1 77.5h0M324.5 76.9h0M331.6 98.8h0M341.9 95.7h0M344.6 90.8h0M319.4 86.3h0M326.7 86.3h0M324.1 74.8h0M345 90.4h0M333 84.9h0M314.4 84.7h0M310.6 82.9h0M323.8 85h0M335.3 74h0M313.6 73.4h0M320.6 90.3h0M315.6 82.9h0M310.7 96h0M345.8 97.4h0M343.7 72.1h0M327.5 78h0M324.2 87h0M345.7 95.3h0M314.6 90.3h0M347.2 87.7h0M318.8 92.6h0M311.8 75.1h0M309.7 79.9h0M327.6 91.7h0M319.1 71.1h0M331.8 72.1h0M340 87.2h0M325.6 86.1h0M311.6 87.7h0M330.5 99.9h0M349.2 97.9h0M310.8 76.3h0M350 98.2h0M349 90.6h0M315.9 80.7h0M324.7 95.1h0M316.8 87.8h0M332.8 99.3h0M341.7 93.6h0M340.4 83.6h0M324.8 85.4h0M317.6 99h0M310.2 86.8h0M347.7 99.4h0M319.1 78.1h0M318.6 100.8h0M342.4 81.5h0M349.7 86.8h0M321 89.7h0M333.7 96.9h0M320.8 100.2h0M340.9 76.8h0M319.7 72.1h0M345.5 82.5h0M345.1 88.7h0M310.6 73h0M337 74.4h0M312.6 93.8h0M350.3 81.6h0M350.1 100.8h0M329.8 86.9h0M319.9 99.8h0M347.3 92.4h0M323.7 78.9h0M309.8 98.9h0M334 79.7h0M312.4 89.7h0M349.8 95.2h0M313.9 91.2h0M310 99.9h0M339.3 83.1h0M334.4 84.1h0M330.1 87.9h0M346.3 90.2h0M349.7 84.5h0M343 89.8h0M339.9 94.1h0M328.3 96.7h0M324.4 70.4h0M309 99.7h0M324 79.7h0M349.7 71.6h0M319.8 93.6h0M328.7 88.1h0M311.2 93.8h0M315.3 84.5h0M329.6 100.5h0M322.7 77.1h0M325.9 83.7h0M337.6 89.5h0M348.8 82.5h0" stroke="#4e30a8" stroke-width="2.8" stroke-linecap="round" fill="none" opacity="0.78"/>
</g>
<rect x="309.00" y="69.00" width="41.50" height="32.00" fill="none" stroke="#2e2e2e" stroke-width="1.1"/>
<clipPath id="cp17"><rect x="265.5" y="106.5" width="42.0" height="32.5"/></clipPath>
<g clip-path="url(#cp17)">
<rect x="265.50" y="106.50" width="42.00" height="32.50" fill="#9d9296" stroke="none" stroke-width="0.6"/>
<path d="M287.4 132.7h0M305.8 115.9h0M297.7 129.4h0M293.3 110.1h0M266.6 119h0M296.8 114.7h0M286.6 116.8h0M301 137.2h0M282.4 138.9h0M268.1 132.9h0M302.3 111.4h0M295.1 124.7h0M305.6 113.3h0M288.2 135.2h0M292.3 116.5h0M268.9 137h0M285.4 138.9h0M271.4 132.9h0M299.7 136.4h0M266.2 118.6h0M267.7 130.9h0M280.4 137.7h0M281.2 131.7h0M301.9 114.3h0M288.9 137.6h0M287.6 118.2h0M276.7 132.1h0M273.6 126.1h0M288.8 124.5h0M270.9 127.9h0M304 116.9h0M279.4 136h0M289.8 115.4h0M265.9 131h0M280.1 121.7h0M276.9 127.1h0M296.1 116.6h0M268.7 138.6h0M303.7 107.2h0M289.2 128.8h0M282.4 130.3h0M305.8 125.7h0M281.9 112.9h0M276.1 111.4h0M270.1 113.4h0M300.9 124h0M299.3 136.4h0M299.6 108.1h0M304.4 109.5h0M297.9 133.8h0M293.1 119.6h0M268.7 109.3h0M292.2 114.4h0M287.9 115.1h0M272.4 116.1h0M295.9 122.3h0M282 122.3h0M288.8 123.3h0M284.2 137.9h0M297.1 113.9h0M278.9 112.6h0M280.8 107.4h0M296.8 125h0M283.3 135.5h0M279.3 125.3h0M304.5 124.6h0M291.2 118.5h0M307.4 131h0M278.2 118.1h0M290.3 123.4h0M287.5 112.7h0M289.7 129.4h0M297.6 121.1h0M284.2 122.9h0M288 121.9h0M266 115.1h0M307 133.4h0M285.1 130.9h0M274.4 115.2h0M287.2 129.2h0M266.7 121.8h0M303.6 126.4h0M307.2 109.7h0M303.7 133.7h0M266.6 123.9h0M297.4 113.7h0M292.8 134.1h0M298.8 120.4h0M268 124h0M273.4 124h0" stroke="#b2aab2" stroke-width="1.6" stroke-linecap="round" fill="none" opacity="0.50"/>
<path d="M276.8 117.8h0M288.3 133.1h0M306.5 119.7h0M265.8 130.9h0M279.7 131.1h0M300.4 107.6h0M296.2 115.8h0M279 117.4h0M288.1 114.4h0M286.3 115.7h0M270.7 114.6h0M294.1 116.6h0M273.9 118.4h0M274.5 138.5h0M298.6 111.4h0M277.8 120.7h0M287.7 119.1h0M287.5 131.2h0M272 124.7h0M272.4 123.9h0M278.8 132.6h0M302.5 137.6h0M282.6 126.5h0M272.6 129.6h0M298.2 120.4h0M279 131.1h0M297 132.5h0M277.6 114.4h0M276 112.7h0M265.8 110.5h0M286.2 120.5h0M302.9 118.8h0M272.7 136.8h0M268.6 117.5h0M297.6 116.9h0M306 130.7h0M278.4 134.6h0M304.2 123.2h0M271.5 109.9h0M299.9 135.4h0M293 131.7h0M298.8 114.2h0M274.5 134.7h0M300.7 120.7h0M276.9 109.1h0M282.5 136h0M274 116.8h0M267 125h0M268 128.4h0M286.2 120.3h0M276.4 116.3h0M303 137.1h0M297.1 113.4h0M274.2 118.3h0M302.3 137.1h0M275.2 127.1h0M281.4 121.3h0M273.8 130h0M298.3 137h0M285.8 120.9h0M292.6 110.8h0M302.4 131.5h0M275.1 119.6h0M285.9 134.2h0M294.6 114.3h0M305.4 136.7h0M301.5 122.5h0M285.4 119.7h0M306.6 122.1h0M305.8 112.5h0M266.8 121.8h0M273.8 114.8h0M267 110.5h0M284 109.3h0M277.9 126.4h0M276.4 116.6h0M281.4 115.1h0M289.2 131.7h0M266.8 123.9h0M288 136.3h0M295.1 115.4h0M291.4 135.8h0M305.5 131.4h0M270 118.6h0M285.6 117.2h0M297.4 122.5h0M306.6 106.8h0M299.4 110.2h0M287.3 111.3h0M281.6 126.4h0M305.8 107.8h0M282 110.1h0M296.7 111.2h0M273.8 132.8h0M267.5 135.3h0M276.8 138.9h0M270 109.6h0M285.5 116.5h0M292.6 116.3h0M279.4 107h0M269.2 106.6h0M284.9 135h0M288 117h0M284.8 131.4h0M302.1 109.5h0M292.7 116.1h0M304.5 130.1h0M290.3 128.1h0M297.5 108.8h0M279 107.8h0M272 136.7h0M289.5 113h0M277.9 120.1h0M269.1 133h0M281.5 108.3h0M287.1 119.9h0M297.5 115.1h0M275.5 122.8h0M282.5 110.7h0M296.4 134.6h0M300.4 127.9h0M285.3 132.2h0M274.4 109.7h0M274.1 123.7h0M274.2 120.7h0M299.6 126.6h0M273.9 110.5h0M265.7 108.2h0M276.5 129.6h0M300.3 119.1h0M267.4 124.7h0M305.3 107h0M291.9 138.9h0M279.1 125.7h0M299.6 128.1h0M272.8 132.1h0M290.1 128h0M290.7 133.3h0M289.5 136.5h0M270.1 107.3h0M271.3 123h0M295.7 136.3h0M265.8 106.8h0M281.6 127.9h0M282.3 115.6h0M274 129.7h0M291 137.5h0M279.2 122h0M305.9 129.2h0M276.5 130.2h0M284.3 109.4h0M269.9 122.7h0M278.6 114.9h0M295.9 114.9h0M284.4 123h0M265.8 132.6h0M276.7 111.8h0M287.1 113.4h0M266.9 110.2h0M267.2 118h0" stroke="#857a84" stroke-width="1" stroke-linecap="round" fill="none" opacity="0.55"/>
<path d="M279.2 113.3L279.6 112.8M289.7 126.2L290 126.1M266.9 131.3L265.5 132.2M279.6 124.1L280.4 122.9M267.9 109.4L267.6 110.9M289.9 118.9L290 118.6" stroke="#4e3c80" stroke-width="1.3" stroke-linecap="round" fill="none" opacity="0.70"/>
<path d="M273.3 117.3h0M296.7 136.2h0M301.5 136.7h0M278.9 114.1h0M284.8 133.4h0M292.8 126.8h0M295.2 113.5h0" stroke="#4a3a70" stroke-width="1.8" stroke-linecap="round" fill="none" opacity="0.85"/>
</g>
<rect x="265.50" y="106.50" width="42.00" height="32.50" fill="none" stroke="#2e2e2e" stroke-width="1.1"/>
<clipPath id="cp18"><rect x="309" y="106.5" width="41.5" height="32.5"/></clipPath>
<g clip-path="url(#cp18)">
<rect x="309.00" y="106.50" width="41.50" height="32.50" fill="#9f949e" stroke="none" stroke-width="0.6"/>
<path d="M316.5 128h0M322.9 112.9h0M329.3 122.6h0M328.9 121.4h0M320 114.7h0M337.7 117h0M337 132.1h0M344.9 137.2h0M318.7 114.2h0M339.5 125.2h0M317.4 128.5h0M345.2 133.7h0M318 116.2h0M309.3 138.2h0M318.1 130.1h0M331.3 125.8h0M330.9 133.3h0M333.9 116.4h0M313.8 122h0M347.3 111.2h0M337.4 127h0M315.7 113.2h0M337.5 120.7h0M325.9 122.1h0M313.2 129.4h0M333.4 123.9h0M323.1 132.9h0M343.2 124.2h0M312.7 111.3h0M315.3 109.1h0M335.9 124.2h0M317.5 136.1h0M335.1 132.2h0M342.9 128.6h0M330.9 138.5h0M314.5 128.9h0M345.7 122h0M342.9 112.4h0M326.3 115.3h0M325.5 129.3h0M315 117.5h0M344.1 116.3h0M314.2 138.8h0M331.5 107.1h0M332.7 111.2h0M315.8 130.5h0M336.1 120.4h0M330.3 124.7h0M328 109.8h0M340.9 131.5h0M326.5 119.6h0M334.3 121.8h0M326.2 135h0M346.6 111.4h0M316.1 132h0M348.7 130.2h0M321.3 108.4h0M343.3 136.7h0M340.5 130.4h0M349.4 123.5h0M347.6 115h0M312.2 133.8h0M338 132.4h0M314.4 116.3h0M333.4 108.6h0M322.6 126.1h0M347.9 129.9h0M325.5 119.8h0M330.3 130.6h0M350.3 106.9h0M347.4 132.6h0M310.9 114.8h0M320.4 113.5h0M315.7 110.9h0M337.1 120.7h0M313.4 133.9h0M343.7 115h0M343.4 131.7h0M331 109.4h0M338.4 134.9h0M345.8 137.4h0M315.7 138.2h0M312.9 118.3h0M331.4 127.3h0M331 136h0M341.1 134.4h0M337.1 121.3h0M309.9 127.5h0M347.8 112.7h0M350.3 107.1h0" stroke="#b2aab2" stroke-width="1.6" stroke-linecap="round" fill="none" opacity="0.50"/>
<path d="M325.5 130.9h0M338.6 125.3h0M320.6 114.5h0M314.8 127.5h0M309.8 110.7h0M338.8 121h0M309.7 120.3h0M347.4 123.1h0M320.1 110.9h0M329.7 114.4h0M320.4 108.5h0M334.2 132.3h0M330 126.4h0M321.1 138.8h0M320.9 136.3h0M309.6 128h0M345.1 125h0M318 111.9h0M350 138.8h0M318.8 119.9h0M343.4 134.7h0M310.2 124.2h0M319.3 109.2h0M337.7 122.3h0M317.7 131.2h0M322.4 115.1h0M321.4 112.9h0M344 117.2h0M347.7 128.8h0M331.4 135.6h0M324.5 107.7h0M336.2 108.6h0M347.5 138.1h0M325.2 109.4h0M348.7 114.9h0M349.1 122h0M345.7 134.9h0M315.3 117.4h0M326.9 113h0M347.6 113.3h0M318.8 112.4h0M315.3 132.9h0M317.4 125.7h0M314.2 132.9h0M341.6 137.1h0M311.3 128.3h0M339.2 117.5h0M337.6 117h0M333.3 134.2h0M343.3 117.3h0M319.7 137.5h0M318.7 121.8h0M326.3 118.4h0M331.2 110.3h0M328.3 128.4h0M344.2 122.4h0M318.6 115.7h0M316.9 111.3h0M321.7 119h0M348.2 131.1h0M347.2 122.5h0M317 125.1h0M337.9 138.8h0M318.6 131.3h0M348.9 119.3h0M330.6 110h0M336.9 108.3h0M341.4 131.1h0M343.5 134h0M311.9 135h0M338.3 137.3h0M346.4 122.1h0M344.6 113h0M349.2 128.4h0M342.7 124.2h0M332.8 114.4h0M342.3 123.6h0M318.3 131h0M333.1 120.4h0M342.5 120.2h0M337.1 124.1h0M324.2 118h0M333.4 112.5h0M316.1 116.7h0M338.6 112.6h0M340.9 117.1h0M348.2 110h0M344.4 133.3h0M343.4 127h0M321.3 137.6h0M318.2 129.3h0M325.9 108.8h0M326.2 116.8h0M341.7 113.2h0M343.3 107.5h0M312.6 126.7h0M347.6 126.5h0M315.7 136.1h0M336.9 106.7h0M314.5 119.2h0M331 124.9h0M343.7 126.4h0M348.8 119.7h0M323.1 128h0M346.4 120.5h0M311 118.8h0M317.5 135.6h0M322.6 121.3h0M334.6 108.4h0M312.7 123.3h0M319.5 108.5h0M339.9 130.4h0M334.5 110.7h0M342.8 138.8h0M313.6 128.6h0M311.1 110.1h0M322.8 137.9h0M327.9 124.1h0M345.8 119.3h0M321 109.2h0M318.7 126.4h0M345.7 138.6h0M319.9 128.2h0M322.3 124.7h0M309.7 136.7h0M341.4 131.1h0M335.5 118.9h0M343.9 123h0M336.5 115.3h0M316.7 129.8h0M322.1 108h0M321.5 120.2h0M316.8 111h0M338.6 121.5h0M330 129.8h0M311 123.3h0M349.9 115.5h0M338.1 112.3h0M324.7 121.1h0M318 114.3h0M322.8 121.9h0M325.2 122.6h0M319.3 124.2h0M340.8 121.8h0M323.9 133.2h0M335 122.6h0M321.8 137.6h0M313.8 136.5h0M321.7 136.3h0M310.9 129h0M328.8 126.5h0M312.6 118.7h0M324.1 124.7h0M338.8 137.4h0M321.1 108h0M316.6 136.3h0M331.8 128.2h0M350.4 132.3h0M333.5 131.8h0M315.9 133.2h0" stroke="#857a84" stroke-width="1" stroke-linecap="round" fill="none" opacity="0.55"/>
<path d="M328.1 120.8L328.7 121.4M323.7 123.1L323.6 125.1M326.6 112.4L326.6 113.5M326 127.9L324.7 127.8M341.1 120L340 120.5M316.6 114.1L315.5 115.7M325.5 119.5L325.4 121.2M318.8 108.2L319 108.6M327.6 123.1L327.3 123.5M343.7 126.7L344 124.6M327.2 124.6L326.5 125.1M327.8 121.9L328.4 123.8M318.1 115.8L317.6 117.1M345.9 115.5L346.5 116.1M330.2 122.2L329.1 122.1M332.1 110.7L332.6 111.1M350.5 110.3L350.7 108.3M318.7 115.4L319.3 115.4M323.8 113.4L323.3 113.6M344 118.6L342.5 117.7" stroke="#5a40a0" stroke-width="1.3" stroke-linecap="round" fill="none" opacity="0.70"/>
<path d="M326.8 120.4h0M317.6 111.8h0M345.8 130h0M347.7 107.7h0M322.8 113.4h0M324.1 124.9h0M321.1 115h0M315.5 116.1h0M329.8 123h0M328.7 129.4h0M328.3 117.6h0M320.9 124.9h0M312.6 119.1h0M329.9 120.4h0M316.2 123h0M316.9 116.4h0M334.5 124.7h0M332.1 121.9h0M334.6 133.5h0M339.7 107.4h0M312.3 115.5h0M322.8 131.9h0" stroke="#5a3e98" stroke-width="2.4" stroke-linecap="round" fill="none" opacity="0.75"/>
</g>
<rect x="309.00" y="106.50" width="41.50" height="32.50" fill="none" stroke="#2e2e2e" stroke-width="1.1"/>
<text x="18.80" y="165.20" font-size="12.3" font-weight="bold" fill="#000" text-anchor="middle" stroke="none">D</text>
<text x="59.40" y="162.80" font-size="6.20" font-weight="bold" fill="#000" textLength="19.70" lengthAdjust="spacingAndGlyphs" stroke="#000" stroke-width="0.19">EV CM</text>
<text x="86.40" y="162.80" font-size="6.20" font-weight="bold" fill="#000" textLength="38.20" lengthAdjust="spacingAndGlyphs" stroke="#000" stroke-width="0.19">FSTL1 OE CM</text>
<text x="139.10" y="162.60" font-size="6.20" font-weight="bold" fill="#000" textLength="10.50" lengthAdjust="spacingAndGlyphs" stroke="#000" stroke-width="0.19">PBS</text>
<text x="170.60" y="162.60" font-size="6.20" font-weight="bold" fill="#000" textLength="22.60" lengthAdjust="spacingAndGlyphs" stroke="#000" stroke-width="0.19">rhFSTL1</text>
<text x="0" y="0" font-size="6.23" font-weight="bold" fill="#000" text-anchor="middle" textLength="18.70" lengthAdjust="spacingAndGlyphs" transform="translate(44.30,181.25) rotate(-90)" stroke="#000" stroke-width="0.19">DMSO</text>
<text x="0" y="0" font-size="6.33" font-weight="bold" fill="#000" text-anchor="middle" textLength="29.20" lengthAdjust="spacingAndGlyphs" transform="translate(44.60,221.00) rotate(-90)" stroke="#000" stroke-width="0.19">Sorafenib</text>
<text x="26.70" y="218.20" font-size="5.00" font-weight="bold" fill="#000" textLength="3.80" lengthAdjust="spacingAndGlyphs" stroke="#000" stroke-width="0.15">PI</text>
<line x1="28.60" y1="245.00" x2="28.60" y2="225.00" stroke="#111" stroke-width="0.6"/>
<path d="M28.6,222.8 L27.4,225.6 L29.8,225.6 Z" fill="#111" stroke="none" stroke-width="0.6"/>
<line x1="28.60" y1="245.00" x2="49.50" y2="245.00" stroke="#111" stroke-width="0.6"/>
<path d="M51.6,245 L48.8,243.8 L48.8,246.2 Z" fill="#111" stroke="none" stroke-width="0.6"/>
<text x="54.90" y="247.80" font-size="5.53" font-weight="normal" fill="#000" textLength="25.20" lengthAdjust="spacingAndGlyphs" stroke="#000" stroke-width="0.28">Annexin V</text>
<line x1="52.50" y1="165.80" x2="52.50" y2="198.50" stroke="#bbb" stroke-width="0.4"/>
<line x1="52.50" y1="198.50" x2="84.80" y2="198.50" stroke="#bbb" stroke-width="0.4"/>
<line x1="51.00" y1="168.80" x2="52.50" y2="168.80" stroke="#999" stroke-width="0.4"/>
<line x1="54.50" y1="198.50" x2="54.50" y2="199.70" stroke="#999" stroke-width="0.4"/>
<line x1="51.00" y1="177.00" x2="52.50" y2="177.00" stroke="#999" stroke-width="0.4"/>
<line x1="62.87" y1="198.50" x2="62.87" y2="199.70" stroke="#999" stroke-width="0.4"/>
<line x1="51.00" y1="185.20" x2="52.50" y2="185.20" stroke="#999" stroke-width="0.4"/>
<line x1="71.24" y1="198.50" x2="71.24" y2="199.70" stroke="#999" stroke-width="0.4"/>
<line x1="51.00" y1="193.40" x2="52.50" y2="193.40" stroke="#999" stroke-width="0.4"/>
<line x1="79.61" y1="198.50" x2="79.61" y2="199.70" stroke="#999" stroke-width="0.4"/>
<line x1="52.50" y1="184.50" x2="84.80" y2="184.50" stroke="#888" stroke-width="0.5"/>
<path d="M62.8 189.1h0M59.4 190.1h0M61.4 189.7h0M63.3 189.5h0M62.5 188.6h0M63.7 188.7h0M62.4 188.4h0M59.4 192h0M58.5 191h0M60.6 189.7h0M62.8 188.9h0M60.2 191.3h0M62.1 188.4h0M62.3 189h0M57.8 190.6h0M60.3 189.6h0M61.7 189.3h0M61.6 189.2h0M59.4 191.1h0M58.8 190.5h0M62.2 188.4h0M58.8 190.6h0M60.7 189.4h0M59.6 191.5h0M61.1 190.2h0M62.1 189.6h0M59.6 190.2h0M59.8 190.5h0M62.4 188.4h0M61.3 190.2h0M62.5 188.7h0M59.4 190h0M59.3 191h0M63.6 188.3h0M62.2 189.6h0M61.7 189.1h0M64.9 187.4h0M62 189.1h0M60.8 189.6h0M61.2 190h0M59.5 189.7h0M59.1 190.9h0M61 190.1h0M61.4 189.9h0M61.6 190.7h0M61.4 189.6h0M62.7 188.5h0M60.6 189.5h0M60.9 189.4h0M62.8 190.4h0" stroke="#3a6ab0" stroke-width="1" stroke-linecap="round" fill="none" opacity="0.60"/>
<path d="M67.8 169.3h0M72.5 169.8h0M69.6 170h0M67.5 169.6h0M77.6 169.1h0M70 168.8h0M73.9 168.3h0M69.8 169.9h0M75.4 168.5h0M76.4 169.4h0M69.4 169.3h0M75.9 168.1h0M71.8 170h0M75.8 168.4h0M73.1 168.9h0M77.6 170h0M68.8 167.9h0M73.8 167.8h0M69.7 168.1h0M68.8 169.4h0" stroke="#7a90c0" stroke-width="0.7" stroke-linecap="round" fill="none" opacity="0.50"/>
<rect x="64.50" y="165.80" width="20.30" height="32.70" fill="none" stroke="#c8363c" stroke-width="0.8"/>
<text x="66.70" y="196.90" font-size="5.3" font-weight="bold" fill="#c8363c" textLength="11.77" lengthAdjust="spacingAndGlyphs" stroke="#c8363c" stroke-width="0.16">5.8%</text>
<line x1="90.00" y1="165.80" x2="90.00" y2="198.50" stroke="#bbb" stroke-width="0.4"/>
<line x1="90.00" y1="198.50" x2="122.70" y2="198.50" stroke="#bbb" stroke-width="0.4"/>
<line x1="88.50" y1="168.80" x2="90.00" y2="168.80" stroke="#999" stroke-width="0.4"/>
<line x1="92.00" y1="198.50" x2="92.00" y2="199.70" stroke="#999" stroke-width="0.4"/>
<line x1="88.50" y1="177.00" x2="90.00" y2="177.00" stroke="#999" stroke-width="0.4"/>
<line x1="100.49" y1="198.50" x2="100.49" y2="199.70" stroke="#999" stroke-width="0.4"/>
<line x1="88.50" y1="185.20" x2="90.00" y2="185.20" stroke="#999" stroke-width="0.4"/>
<line x1="108.97" y1="198.50" x2="108.97" y2="199.70" stroke="#999" stroke-width="0.4"/>
<line x1="88.50" y1="193.40" x2="90.00" y2="193.40" stroke="#999" stroke-width="0.4"/>
<line x1="117.46" y1="198.50" x2="117.46" y2="199.70" stroke="#999" stroke-width="0.4"/>
<line x1="90.00" y1="184.50" x2="122.70" y2="184.50" stroke="#888" stroke-width="0.5"/>
<path d="M98.1 191h0M97.6 190h0M99.5 189.2h0M101.2 189.8h0M99.9 189.8h0M99.8 189.3h0M98.8 189.7h0M99.1 189.4h0M101.5 188.2h0M97.6 190.1h0M98.4 189.4h0M100.6 188.9h0M97.7 190.9h0M99.9 189.4h0M99.3 189.5h0M99.9 189.9h0M98.4 189.3h0M96.8 190.2h0M98.9 189.8h0M97.4 190.5h0M100.3 189.8h0M98.3 189.8h0M97.6 190.2h0M97.1 190.9h0M98.8 189.6h0M98.3 189.8h0M101.3 188h0M98.7 189h0M98.9 189.5h0M102.4 188.8h0M99.3 190.6h0M101.7 188h0M101 188.7h0M98.2 188.8h0M97.5 190.5h0M98 190.7h0M97.3 189.7h0M101.5 188.8h0M99.7 189.3h0M99.6 189.4h0M100.2 188.7h0M99.7 188.3h0M98.1 189.4h0M98 190.7h0M98.9 189.9h0M97.5 190.2h0M99 191.1h0M100.2 188.3h0M98.1 189.5h0M96 190.6h0" stroke="#3a6ab0" stroke-width="1" stroke-linecap="round" fill="none" opacity="0.60"/>
<path d="M119.5 170.1h0M105.9 168.8h0M111.6 168.5h0M114.1 168.2h0M116 169.9h0M105.9 169.5h0M108.9 169.4h0M115.2 170.2h0M116.7 168.6h0M115.7 168.2h0M115.5 168.8h0M108.9 168.4h0M108.2 169.8h0M106.4 168.4h0M107.8 168.2h0M115.7 169.3h0M114.8 170.1h0M111.6 167.9h0M107.8 169.1h0M115.5 170.1h0" stroke="#7a90c0" stroke-width="0.7" stroke-linecap="round" fill="none" opacity="0.50"/>
<rect x="102.00" y="165.80" width="20.70" height="32.70" fill="none" stroke="#c8363c" stroke-width="0.8"/>
<text x="104.20" y="196.90" font-size="5.3" font-weight="bold" fill="#c8363c" textLength="12.01" lengthAdjust="spacingAndGlyphs" stroke="#c8363c" stroke-width="0.16">6.6%</text>
<line x1="128.00" y1="165.80" x2="128.00" y2="198.50" stroke="#bbb" stroke-width="0.4"/>
<line x1="128.00" y1="198.50" x2="160.50" y2="198.50" stroke="#bbb" stroke-width="0.4"/>
<line x1="126.50" y1="168.80" x2="128.00" y2="168.80" stroke="#999" stroke-width="0.4"/>
<line x1="130.00" y1="198.50" x2="130.00" y2="199.70" stroke="#999" stroke-width="0.4"/>
<line x1="126.50" y1="177.00" x2="128.00" y2="177.00" stroke="#999" stroke-width="0.4"/>
<line x1="138.43" y1="198.50" x2="138.43" y2="199.70" stroke="#999" stroke-width="0.4"/>
<line x1="126.50" y1="185.20" x2="128.00" y2="185.20" stroke="#999" stroke-width="0.4"/>
<line x1="146.86" y1="198.50" x2="146.86" y2="199.70" stroke="#999" stroke-width="0.4"/>
<line x1="126.50" y1="193.40" x2="128.00" y2="193.40" stroke="#999" stroke-width="0.4"/>
<line x1="155.29" y1="198.50" x2="155.29" y2="199.70" stroke="#999" stroke-width="0.4"/>
<line x1="128.00" y1="184.50" x2="160.50" y2="184.50" stroke="#888" stroke-width="0.5"/>
<path d="M138.6 189.3h0M138.4 188.2h0M135.3 190.8h0M137 188.9h0M138 188.4h0M138.3 189.8h0M135.7 189.3h0M137.7 189.8h0M138.7 188.4h0M135.6 190.5h0M136.7 189.2h0M136.4 189.8h0M137.5 189.3h0M138.3 188.2h0M135.5 189.7h0M134.9 190.1h0M134.1 190.5h0M138.1 188.6h0M135.9 189.5h0M134.9 190h0M138.5 187.7h0M139.1 188.4h0M139.7 188.6h0M136.1 190.7h0M137.7 188.4h0M137.7 189.7h0M138.4 189h0M137.3 189.4h0M137.7 188.8h0M137.5 188.7h0M137.4 189.2h0M139.2 188.9h0M137 188.1h0M137.4 188.9h0M137.8 189.3h0M136.4 189.1h0M138 189.2h0M137.2 190.2h0M135 189.6h0M133.5 190.8h0M137.2 189.4h0M135.1 190.5h0M139.3 189.2h0M137.6 188.6h0M138.5 188.1h0M138.1 188.9h0M137.3 190.2h0M137 190.1h0M138.1 189h0M136.9 188.7h0" stroke="#3a6ab0" stroke-width="1" stroke-linecap="round" fill="none" opacity="0.60"/>
<path d="M156.9 167.9h0M150.3 169.2h0M151.7 169h0M147 170.1h0M155.7 169.6h0M156.9 169.2h0M144.2 169.5h0M144.5 169.7h0M152.4 168.3h0M145.2 168h0M145.6 170.2h0M146.3 170h0M144.9 168.6h0M149.8 168.7h0M157 168.4h0M150 168.3h0M144.6 169.5h0M147.9 169h0M153 168h0M143.8 169.5h0" stroke="#7a90c0" stroke-width="0.7" stroke-linecap="round" fill="none" opacity="0.50"/>
<rect x="140.00" y="165.80" width="20.50" height="32.70" fill="none" stroke="#c8363c" stroke-width="0.8"/>
<text x="142.20" y="196.90" font-size="5.3" font-weight="bold" fill="#c8363c" textLength="11.89" lengthAdjust="spacingAndGlyphs" stroke="#c8363c" stroke-width="0.16">8.1%</text>
<line x1="166.20" y1="165.80" x2="166.20" y2="198.50" stroke="#bbb" stroke-width="0.4"/>
<line x1="166.20" y1="198.50" x2="198.30" y2="198.50" stroke="#bbb" stroke-width="0.4"/>
<line x1="164.70" y1="168.80" x2="166.20" y2="168.80" stroke="#999" stroke-width="0.4"/>
<line x1="168.20" y1="198.50" x2="168.20" y2="199.70" stroke="#999" stroke-width="0.4"/>
<line x1="164.70" y1="177.00" x2="166.20" y2="177.00" stroke="#999" stroke-width="0.4"/>
<line x1="176.51" y1="198.50" x2="176.51" y2="199.70" stroke="#999" stroke-width="0.4"/>
<line x1="164.70" y1="185.20" x2="166.20" y2="185.20" stroke="#999" stroke-width="0.4"/>
<line x1="184.83" y1="198.50" x2="184.83" y2="199.70" stroke="#999" stroke-width="0.4"/>
<line x1="164.70" y1="193.40" x2="166.20" y2="193.40" stroke="#999" stroke-width="0.4"/>
<line x1="193.14" y1="198.50" x2="193.14" y2="199.70" stroke="#999" stroke-width="0.4"/>
<line x1="166.20" y1="184.50" x2="198.30" y2="184.50" stroke="#888" stroke-width="0.5"/>
<path d="M176.6 188.6h0M173.2 190.8h0M174.5 189h0M177.2 188.3h0M176.2 189.1h0M175 189.9h0M176.7 189.1h0M176.3 188h0M173.7 189.7h0M174.1 190.6h0M171.9 190.6h0M174.2 190.4h0M177.4 189.9h0M172.6 190.3h0M175.3 190h0M176.3 189.2h0M175.6 189.5h0M173.8 190.8h0M179 186.6h0M174.2 189.6h0M173.3 189.7h0M175.9 189h0M176.7 189.5h0M176.2 188.8h0M173.3 190.5h0M175.8 188.5h0M174.5 189.8h0M176.4 188.3h0M173.3 188.7h0M174 191h0M176.1 189.3h0M174.1 189h0M176.8 188.3h0M176 188.8h0M178 187.9h0M174.3 190h0M175.6 189h0M172.9 191h0M173.8 189.8h0M174.7 189.3h0M177.3 189.3h0M173 189.9h0M175.3 189.3h0M175 189.8h0M173.5 190.8h0M176.3 190.1h0M174.9 189.4h0M176 189.1h0M176 188.7h0M172.8 191.1h0" stroke="#3a6ab0" stroke-width="1" stroke-linecap="round" fill="none" opacity="0.60"/>
<path d="M187.3 169.7h0M192.4 169.7h0M189.4 169h0M183.9 169.5h0M190.4 169.1h0M191.4 170.2h0M194.5 168.1h0M185.3 169.3h0M190.9 168.5h0M194.3 169h0M192 167.9h0M185.1 167.9h0M192.4 169.1h0M194.6 169.3h0M185.8 168.7h0M186.5 168.3h0M182.7 169.4h0M185.6 168.9h0M191.2 168.5h0M187.4 168.6h0" stroke="#7a90c0" stroke-width="0.7" stroke-linecap="round" fill="none" opacity="0.50"/>
<rect x="178.20" y="165.80" width="20.10" height="32.70" fill="none" stroke="#c8363c" stroke-width="0.8"/>
<text x="180.40" y="196.90" font-size="5.3" font-weight="bold" fill="#c8363c" textLength="11.66" lengthAdjust="spacingAndGlyphs" stroke="#c8363c" stroke-width="0.16">8.2%</text>
<line x1="52.50" y1="203.40" x2="52.50" y2="236.40" stroke="#bbb" stroke-width="0.4"/>
<line x1="52.50" y1="236.40" x2="84.80" y2="236.40" stroke="#bbb" stroke-width="0.4"/>
<line x1="51.00" y1="206.40" x2="52.50" y2="206.40" stroke="#999" stroke-width="0.4"/>
<line x1="54.50" y1="236.40" x2="54.50" y2="237.60" stroke="#999" stroke-width="0.4"/>
<line x1="51.00" y1="214.69" x2="52.50" y2="214.69" stroke="#999" stroke-width="0.4"/>
<line x1="62.87" y1="236.40" x2="62.87" y2="237.60" stroke="#999" stroke-width="0.4"/>
<line x1="51.00" y1="222.97" x2="52.50" y2="222.97" stroke="#999" stroke-width="0.4"/>
<line x1="71.24" y1="236.40" x2="71.24" y2="237.60" stroke="#999" stroke-width="0.4"/>
<line x1="51.00" y1="231.26" x2="52.50" y2="231.26" stroke="#999" stroke-width="0.4"/>
<line x1="79.61" y1="236.40" x2="79.61" y2="237.60" stroke="#999" stroke-width="0.4"/>
<line x1="52.50" y1="222.40" x2="84.80" y2="222.40" stroke="#888" stroke-width="0.5"/>
<ellipse cx="71.00" cy="211.90" rx="6.50" ry="6.00" fill="#4a78c0" stroke="none" stroke-width="0.6" opacity="0.33"/>
<ellipse cx="70.50" cy="211.40" rx="4.80" ry="4.20" fill="#4a78c0" stroke="none" stroke-width="0.6" opacity="0.44"/>
<ellipse cx="72.50" cy="214.40" rx="2.00" ry="3.00" fill="#3a5a9a" stroke="none" stroke-width="0.6" opacity="0.55"/>
<path d="M74.2 210.6h0M72.1 209.7h0M68.2 212.2h0M69.7 211.6h0M68.4 213.3h0M77.2 213.4h0M72.7 210.9h0M68.1 209h0M66.8 213.8h0M69.5 209.7h0M68.3 214.8h0M79.1 211.6h0M71.7 208.4h0M79.2 207.1h0M72.7 210.5h0M68.9 213.1h0M64.4 213.8h0M67.9 212h0M72 213.4h0M74.8 204.8h0M71.2 211.7h0M70.8 213.7h0M68.7 212.4h0M67.2 212.2h0M68.1 209.1h0M69.9 211.9h0M74.5 210.7h0M73.1 209.8h0M80.1 217.2h0M68.9 212h0M78.8 210.2h0M77.6 216.9h0M72.3 213.1h0M75.2 217.2h0M67.5 209.4h0M70.1 209.4h0M72.3 212.4h0M71.4 216.1h0M71.9 212.3h0M71.2 212.3h0M72.8 212.5h0M73.3 213.9h0M74.1 208.1h0M72.3 212h0M69 214.9h0M66.8 213h0M70.1 207.4h0M71 214.4h0M75.3 211.7h0M77.9 208.2h0M72.8 207.7h0M70.8 209.3h0M71.9 215h0M71.8 213.8h0M72.7 213.2h0M72.9 212.1h0M70.9 210.9h0M69.6 207.1h0M73 215.1h0M64.3 207.3h0M69.5 210.8h0M73 212.6h0M75.2 216.4h0M72 210.6h0M72.1 205h0M71.7 215.6h0M71.4 215.2h0M71.2 209.8h0M66.1 211.8h0M77 205.9h0M73.9 210.1h0M66.6 217.6h0M75.1 207.5h0M64.3 206.8h0M72.5 213.4h0M71.2 209.3h0M67.9 208.8h0M69 210.2h0M75.4 211h0M74.1 212h0M64 211.1h0M64.5 206.9h0M70.4 212.9h0M63.6 214.1h0M64.4 210.3h0M74.8 206h0M70.2 211.9h0M69.6 211.3h0M69.2 213.5h0M68.4 214.7h0M67.5 204.6h0M74.8 207.1h0M73.5 215.4h0M68.2 214.2h0M74.3 213.7h0M77.9 210.3h0M71.7 210.6h0M73 209.2h0M68.7 215h0M69.8 214.1h0M74.8 209.4h0M66.8 212.9h0M72.4 212.5h0M74.2 212.5h0M71.7 211.3h0M69.1 218.2h0M72.3 215.5h0M75.8 208.7h0M68.7 213.6h0M70.5 214.7h0M75.6 211.5h0M63.4 214.7h0M69 213.4h0M69.3 211.8h0M71.2 211.8h0M70.4 212.5h0M72.5 218.2h0M74.4 216.4h0M70.4 211h0M72.1 211.7h0" stroke="#3a68b0" stroke-width="0.9" stroke-linecap="round" fill="none" opacity="0.45"/>
<path d="M68 215.9L62 225.4" stroke="#6a90c8" stroke-width="1.6" stroke-linecap="round" fill="none" opacity="0.50"/>
<path d="M62.8 223.1h0M61.4 226.6h0M61.2 227.3h0M61.7 225.3h0M62.3 226.5h0M62.3 226.2h0M61.6 225.9h0M61.7 224.9h0M62.2 225.7h0M61.4 224.9h0M62 225.6h0M62.7 228.7h0M61.4 226.2h0M62.8 226.8h0M63 225.5h0M63 225.4h0M63 226.1h0M60.1 224.6h0M62.3 223.9h0M62.5 226.9h0M62 224.3h0M61.7 225.6h0M61.7 225.8h0M63.1 226.2h0M61.6 226.4h0M61.7 226h0M60.7 223.5h0M62.4 223.4h0M61.2 223h0M61.7 226.2h0M62 226.1h0M62.1 226.5h0M62.6 227.8h0M61.6 226.7h0M62.9 227.4h0" stroke="#2a8a50" stroke-width="1.1" stroke-linecap="round" fill="none" opacity="0.75"/>
<rect x="64.50" y="203.40" width="20.30" height="33.00" fill="none" stroke="#c8363c" stroke-width="0.8"/>
<text x="65.90" y="234.80" font-size="5.3" font-weight="bold" fill="#c8363c" textLength="14.62" lengthAdjust="spacingAndGlyphs" stroke="#c8363c" stroke-width="0.16">56.7%</text>
<line x1="90.00" y1="203.40" x2="90.00" y2="236.40" stroke="#bbb" stroke-width="0.4"/>
<line x1="90.00" y1="236.40" x2="122.70" y2="236.40" stroke="#bbb" stroke-width="0.4"/>
<line x1="88.50" y1="206.40" x2="90.00" y2="206.40" stroke="#999" stroke-width="0.4"/>
<line x1="92.00" y1="236.40" x2="92.00" y2="237.60" stroke="#999" stroke-width="0.4"/>
<line x1="88.50" y1="214.69" x2="90.00" y2="214.69" stroke="#999" stroke-width="0.4"/>
<line x1="100.49" y1="236.40" x2="100.49" y2="237.60" stroke="#999" stroke-width="0.4"/>
<line x1="88.50" y1="222.97" x2="90.00" y2="222.97" stroke="#999" stroke-width="0.4"/>
<line x1="108.97" y1="236.40" x2="108.97" y2="237.60" stroke="#999" stroke-width="0.4"/>
<line x1="88.50" y1="231.26" x2="90.00" y2="231.26" stroke="#999" stroke-width="0.4"/>
<line x1="117.46" y1="236.40" x2="117.46" y2="237.60" stroke="#999" stroke-width="0.4"/>
<line x1="90.00" y1="222.40" x2="122.70" y2="222.40" stroke="#888" stroke-width="0.5"/>
<ellipse cx="108.50" cy="211.90" rx="6.50" ry="6.00" fill="#7a88cc" stroke="none" stroke-width="0.6" opacity="0.24"/>
<ellipse cx="108.00" cy="211.40" rx="4.80" ry="4.20" fill="#7a88cc" stroke="none" stroke-width="0.6" opacity="0.32"/>
<ellipse cx="110.00" cy="214.40" rx="2.00" ry="3.00" fill="#6a70b0" stroke="none" stroke-width="0.6" opacity="0.40"/>
<path d="M109.6 209.9h0M112.3 210.6h0M104.6 214.6h0M109.6 213.7h0M106.3 213h0M106.8 209h0M106.4 213.6h0M109.5 216.9h0M111.2 210.2h0M109.5 209.3h0M108.7 209.5h0M105.2 210.5h0M112.6 208h0M109.7 212.8h0M106.1 212.5h0M109.2 219.7h0M109.1 211.7h0M113.4 212.5h0M115.4 209.7h0M106.5 207h0M104.5 212.3h0M109.5 210.7h0M106.2 207.3h0M111.9 216.5h0M113 219.2h0M108.8 208.4h0M100.3 207.5h0M106.9 213.5h0M105.7 205.5h0M111.8 216.4h0M104.4 215h0M100 213h0M100.4 208.1h0M110.3 211.5h0M114 209.9h0M111.4 215.2h0M108.4 212.9h0M111.6 213h0M109.5 211h0M102.4 208.6h0M104.9 215.8h0M103.6 208.9h0M98.7 212.9h0M106.6 213.2h0M110.4 213.6h0M114.6 217h0M113 216.5h0M109 208.3h0M110.7 212.6h0M111.8 210.6h0M108.9 210.3h0M111.7 212.8h0M107.1 213.7h0M105.6 208.7h0M105.7 210.9h0M106.2 213.2h0M105.2 210.9h0M103.2 205.2h0M106.4 215.7h0M113.9 215.3h0M103.9 211h0M106.9 211.3h0M108.9 211.6h0M109.9 215.3h0M113.3 209.6h0M111.1 210.2h0M104 210.5h0M108.7 213.3h0M107.7 213.1h0M110.7 212h0M111.6 208.5h0M108.5 207.7h0M101.2 212.7h0M107 214h0M108.2 213.1h0M111.3 212.2h0M107 210.3h0M105.6 212.3h0M108.5 209.5h0M103 213.5h0M107.1 205.2h0M112.4 212.2h0M111.2 218.2h0M108.5 217.7h0M102.6 211.3h0M110.5 205.8h0M111.2 209.8h0M104.9 205.5h0M109.6 208.6h0M111.4 207h0M105 213.1h0M100.9 214.8h0M109.6 219.8h0M110.3 213.8h0M108.1 206.9h0M107.5 214.4h0M103.1 209.7h0M105.6 214.3h0M102.5 214.5h0M112.6 209.3h0M108.4 215.3h0M104.2 214.1h0M106.6 215.9h0M104.2 211.3h0M112.1 211.2h0M108.5 212.3h0M113.8 212.2h0M112.5 208.9h0M108.7 212.7h0M107.2 212.3h0M112.9 213.9h0M110.8 214.9h0M110.8 208.9h0M105.4 214.4h0M110.4 210.9h0M107.9 209.6h0M107.8 211.3h0M110.8 212.6h0M107.9 209.6h0M108 209.2h0" stroke="#6a78c0" stroke-width="0.9" stroke-linecap="round" fill="none" opacity="0.45"/>
<path d="M105.5 215.9L99.5 225.4" stroke="#6a90c8" stroke-width="1.6" stroke-linecap="round" fill="none" opacity="0.50"/>
<path d="M100.4 223.7h0M99.5 225h0M100.2 226.5h0M99.5 226.2h0M99.3 223.5h0M100.4 223.6h0M98.8 225.2h0M100.2 225.8h0M99.5 224.8h0M100.4 225.2h0M100.9 225.9h0M98.9 224.8h0M99.7 226.6h0M100.4 226.7h0M99.5 226.1h0M98.6 224.8h0M100 226.4h0M100.3 224.6h0M99.6 224.9h0M100.5 226.5h0M98.7 225.1h0M100.4 226.6h0M99.9 224.6h0M99.1 225.8h0M99.1 226.5h0M101.1 227.4h0M99.4 226.6h0M99.1 225.5h0M99.7 225.1h0M99.2 226.8h0M100.7 226.5h0M98.7 224.9h0M99.8 225.7h0M99.7 224.9h0M100.9 223.6h0" stroke="#2a8a50" stroke-width="1.1" stroke-linecap="round" fill="none" opacity="0.75"/>
<rect x="102.00" y="203.40" width="20.70" height="33.00" fill="none" stroke="#c8363c" stroke-width="0.8"/>
<text x="103.40" y="234.80" font-size="5.3" font-weight="bold" fill="#c8363c" textLength="14.90" lengthAdjust="spacingAndGlyphs" stroke="#c8363c" stroke-width="0.16">30.4%</text>
<line x1="128.00" y1="203.40" x2="128.00" y2="236.40" stroke="#bbb" stroke-width="0.4"/>
<line x1="128.00" y1="236.40" x2="160.50" y2="236.40" stroke="#bbb" stroke-width="0.4"/>
<line x1="126.50" y1="206.40" x2="128.00" y2="206.40" stroke="#999" stroke-width="0.4"/>
<line x1="130.00" y1="236.40" x2="130.00" y2="237.60" stroke="#999" stroke-width="0.4"/>
<line x1="126.50" y1="214.69" x2="128.00" y2="214.69" stroke="#999" stroke-width="0.4"/>
<line x1="138.43" y1="236.40" x2="138.43" y2="237.60" stroke="#999" stroke-width="0.4"/>
<line x1="126.50" y1="222.97" x2="128.00" y2="222.97" stroke="#999" stroke-width="0.4"/>
<line x1="146.86" y1="236.40" x2="146.86" y2="237.60" stroke="#999" stroke-width="0.4"/>
<line x1="126.50" y1="231.26" x2="128.00" y2="231.26" stroke="#999" stroke-width="0.4"/>
<line x1="155.29" y1="236.40" x2="155.29" y2="237.60" stroke="#999" stroke-width="0.4"/>
<line x1="128.00" y1="222.40" x2="160.50" y2="222.40" stroke="#888" stroke-width="0.5"/>
<ellipse cx="146.50" cy="211.90" rx="6.50" ry="6.00" fill="#4a78c0" stroke="none" stroke-width="0.6" opacity="0.33"/>
<ellipse cx="146.00" cy="211.40" rx="4.80" ry="4.20" fill="#4a78c0" stroke="none" stroke-width="0.6" opacity="0.44"/>
<ellipse cx="148.00" cy="214.40" rx="2.00" ry="3.00" fill="#3a5a9a" stroke="none" stroke-width="0.6" opacity="0.55"/>
<path d="M141.4 212.5h0M142.5 208.5h0M151.3 208.8h0M147.8 213.8h0M143.2 212.8h0M152 210.7h0M143.3 212.5h0M147.2 216.2h0M148.4 211h0M143.4 212.8h0M144.4 210.3h0M151.3 213.8h0M144.7 216.2h0M150.4 209.6h0M151.9 208.9h0M148.9 212.8h0M144.4 208.8h0M153 212.1h0M144.3 209.1h0M144.4 211.6h0M144.7 211.4h0M142.2 205.4h0M147.1 214.4h0M140.1 208.9h0M148.2 214.7h0M144.8 210.7h0M151.8 214.1h0M143.2 209h0M144.9 211.5h0M142.5 212.4h0M144.4 211.7h0M150.3 213.5h0M144.8 207.4h0M149.6 210.7h0M144.1 213.7h0M141.3 211.7h0M147.5 210.8h0M141.2 209.4h0M146.5 208.5h0M149.3 213.1h0M141.5 208.7h0M147.1 214.7h0M145.7 212.7h0M149.7 211.4h0M137.9 214.9h0M147.1 209.4h0M152.6 209.7h0M143 210.5h0M151.1 206h0M145 209.4h0M150.1 208.5h0M152.3 209.4h0M143.8 205.5h0M142 213.5h0M146.4 208.5h0M151 216.3h0M142.7 211.1h0M143.7 211.3h0M148.1 209.7h0M146.6 216.4h0M143.5 212.1h0M149.8 213.6h0M142.7 214h0M144.8 209.9h0M147.6 212.4h0M138.7 209.6h0M146 204.6h0M147.9 213.7h0M145.7 208.7h0M140.7 214.8h0M153.8 215.6h0M148.3 215.8h0M144 208.5h0M145.7 209.3h0M147.1 216.6h0M147.7 211.5h0M154.8 217.8h0M148.2 212.4h0M143.4 211.8h0M145.4 208.5h0M147 210.4h0M146.9 214h0M150.8 200.4h0M144.7 213.5h0M148.5 212.8h0M155.1 211.1h0M148.5 211h0M156.4 216.5h0M145.3 205.4h0M152.1 207.9h0M153.6 212.4h0M137.5 208.1h0M147.6 214.9h0M150.7 215.7h0M140.6 208.5h0M140.7 209.9h0M145.7 212.8h0M147.7 212.4h0M152.1 212.8h0M145.2 202.5h0M147 209.8h0M148 214.6h0M145.5 213.3h0M147.3 206.8h0M142.5 213.9h0M142.9 209.5h0M142.7 209.1h0M149.4 211.6h0M148.1 212.8h0M143.3 209.7h0M150.5 210.2h0M152.1 208.6h0M144.9 213.8h0M144.7 209h0M147.1 212.7h0M151.1 204.1h0M146.3 210.3h0M151.3 212.3h0M140 216.3h0M141.3 213.3h0" stroke="#3a68b0" stroke-width="0.9" stroke-linecap="round" fill="none" opacity="0.45"/>
<path d="M143.5 215.9L137.5 225.4" stroke="#6a90c8" stroke-width="1.6" stroke-linecap="round" fill="none" opacity="0.50"/>
<path d="M137.7 226h0M137.5 224.1h0M138 225.1h0M136.8 225.4h0M137.6 224.1h0M137.7 225.3h0M137.1 224.9h0M137.7 224.6h0M137.6 226.1h0M137.1 225.9h0M137.6 223.2h0M137 227.8h0M137.1 224.4h0M139.1 227.7h0M137.4 226.4h0M137.7 222.7h0M137.9 224.1h0M136.6 229h0M136.4 226.3h0M137.7 224.6h0M138.2 225.8h0M137.3 225.1h0M137.6 227.4h0M138.1 227.5h0M137.7 226.9h0M138.6 224.4h0M138.6 225.1h0M137.2 226.9h0M137.7 224.3h0M138.9 224.5h0M137.1 226.2h0M138.5 224.3h0M136.5 225.6h0M137.1 224.5h0M137.3 227.2h0" stroke="#2a8a50" stroke-width="1.1" stroke-linecap="round" fill="none" opacity="0.75"/>
<rect x="140.00" y="203.40" width="20.50" height="33.00" fill="none" stroke="#c8363c" stroke-width="0.8"/>
<text x="141.40" y="234.80" font-size="5.3" font-weight="bold" fill="#c8363c" textLength="14.76" lengthAdjust="spacingAndGlyphs" stroke="#c8363c" stroke-width="0.16">55.1%</text>
<line x1="166.20" y1="203.40" x2="166.20" y2="236.40" stroke="#bbb" stroke-width="0.4"/>
<line x1="166.20" y1="236.40" x2="198.30" y2="236.40" stroke="#bbb" stroke-width="0.4"/>
<line x1="164.70" y1="206.40" x2="166.20" y2="206.40" stroke="#999" stroke-width="0.4"/>
<line x1="168.20" y1="236.40" x2="168.20" y2="237.60" stroke="#999" stroke-width="0.4"/>
<line x1="164.70" y1="214.69" x2="166.20" y2="214.69" stroke="#999" stroke-width="0.4"/>
<line x1="176.51" y1="236.40" x2="176.51" y2="237.60" stroke="#999" stroke-width="0.4"/>
<line x1="164.70" y1="222.97" x2="166.20" y2="222.97" stroke="#999" stroke-width="0.4"/>
<line x1="184.83" y1="236.40" x2="184.83" y2="237.60" stroke="#999" stroke-width="0.4"/>
<line x1="164.70" y1="231.26" x2="166.20" y2="231.26" stroke="#999" stroke-width="0.4"/>
<line x1="193.14" y1="236.40" x2="193.14" y2="237.60" stroke="#999" stroke-width="0.4"/>
<line x1="166.20" y1="222.40" x2="198.30" y2="222.40" stroke="#888" stroke-width="0.5"/>
<ellipse cx="184.70" cy="211.90" rx="6.50" ry="6.00" fill="#7a88cc" stroke="none" stroke-width="0.6" opacity="0.24"/>
<ellipse cx="184.20" cy="211.40" rx="4.80" ry="4.20" fill="#7a88cc" stroke="none" stroke-width="0.6" opacity="0.32"/>
<ellipse cx="186.20" cy="214.40" rx="2.00" ry="3.00" fill="#6a70b0" stroke="none" stroke-width="0.6" opacity="0.40"/>
<path d="M191.6 213.1h0M184.6 211.3h0M182.2 211.2h0M189.8 207.7h0M183.2 216h0M181.9 212h0M181.5 213.2h0M176.3 213.5h0M184.6 211h0M179.2 218.6h0M185 207.5h0M181.5 208h0M186.5 214.7h0M184.3 214h0M184.3 211.1h0M187.1 216.4h0M187 210.2h0M188.7 207.1h0M189.1 217.7h0M186.7 215h0M186.1 212.6h0M181.2 206.7h0M187.1 213.7h0M181.1 209.1h0M188.1 215.7h0M191.1 216.5h0M182.1 207.8h0M187 210.8h0M186.2 216.2h0M191.1 207.3h0M186 207.7h0M180.8 216.3h0M180 207h0M184.8 208.2h0M183.3 210.2h0M183.5 217.2h0M184.5 211.2h0M185.7 215.1h0M181.8 210.6h0M178.7 217.4h0M181.8 214.2h0M187.6 210.8h0M182.6 211.6h0M188.5 207.1h0M185.1 216.4h0M185.1 218h0M181.8 212h0M188.7 211.2h0M176.3 208.7h0M183.7 215.3h0M187.4 210.2h0M187.7 208.4h0M189.1 210.7h0M187.8 209.5h0M185.2 214.8h0M179.9 212.2h0M181.5 212.7h0M184.3 215.7h0M182.9 207.7h0M187.3 212.4h0M182.9 208.6h0M183.5 216h0M188.7 212.9h0M187.7 210.8h0M187.7 215.9h0M182.2 210.1h0M184.7 212.1h0M189.8 215.2h0M178.8 215.1h0M190.3 210.9h0M183.6 213.1h0M186.5 210.8h0M187 214.5h0M184.3 214.5h0M185.2 212.8h0M192.6 213.2h0M187.7 213.8h0M181.8 208.7h0M190.9 206.1h0M181.8 209.8h0M182.6 209.6h0M186.5 215.2h0M182.1 211.8h0M181.5 212.8h0M192.6 215.8h0M180.3 211.1h0M187.3 213.3h0M191.6 213.7h0M182.2 208.9h0M183.4 208.7h0M173.2 210.6h0M188.7 214.9h0M182.7 213h0M186.9 215.6h0M190.3 214.8h0M182.1 213.2h0M181.4 213.2h0M181.9 212.8h0M182.5 213.3h0M184.8 207.6h0M182.8 214.2h0M179.7 219.1h0M180.6 205.4h0M189 208.7h0M182.4 210h0M183.4 210.9h0M179.3 212.8h0M180.6 211.8h0M182.1 208.4h0M180.5 210.3h0M181.3 214.5h0M189.5 211.9h0M185.5 216.6h0M188.7 213.6h0M183.5 215.3h0M187.9 207.6h0M187 208.3h0M192.2 205.4h0M186.4 210.3h0M186.9 213.9h0" stroke="#6a78c0" stroke-width="0.9" stroke-linecap="round" fill="none" opacity="0.45"/>
<path d="M181.7 215.9L175.7 225.4" stroke="#6a90c8" stroke-width="1.6" stroke-linecap="round" fill="none" opacity="0.50"/>
<path d="M175.2 225.6h0M176.5 225.8h0M176.1 225.8h0M176.5 226h0M175.9 224.9h0M176 225.8h0M177.8 224.1h0M175.5 224h0M175.4 225h0M176.7 226h0M175.6 224.7h0M175.5 226.3h0M176.8 226.8h0M174.8 227.1h0M175.8 225.7h0M177.3 226.3h0M175.8 226.8h0M174.6 225.9h0M174.5 224.8h0M176 225.8h0M175.4 225h0M175.8 223.8h0M176.5 225.3h0M175.7 228.2h0M176.8 225.8h0M175.1 224.7h0M175.2 224h0M175.4 225.1h0M174.9 226.1h0M175.7 227.8h0M174.7 223.9h0M174.7 226.3h0M176.7 224.7h0M175.5 224.3h0M176 226.2h0" stroke="#2a8a50" stroke-width="1.1" stroke-linecap="round" fill="none" opacity="0.75"/>
<rect x="178.20" y="203.40" width="20.10" height="33.00" fill="none" stroke="#c8363c" stroke-width="0.8"/>
<text x="179.60" y="234.80" font-size="5.3" font-weight="bold" fill="#c8363c" textLength="14.47" lengthAdjust="spacingAndGlyphs" stroke="#c8363c" stroke-width="0.16">31.4%</text>
<line x1="229.20" y1="154.20" x2="229.20" y2="192.40" stroke="#4a4a4a" stroke-width="0.6"/>
<line x1="228.00" y1="154.30" x2="229.20" y2="154.30" stroke="#4a4a4a" stroke-width="0.6"/>
<text x="227.50" y="156.10" font-size="5.0" fill="#111" text-anchor="end" textLength="4.56" lengthAdjust="spacingAndGlyphs" stroke="#111" stroke-width="0.25">60</text>
<line x1="228.00" y1="166.70" x2="229.20" y2="166.70" stroke="#4a4a4a" stroke-width="0.6"/>
<text x="227.50" y="168.50" font-size="5.0" fill="#111" text-anchor="end" textLength="4.56" lengthAdjust="spacingAndGlyphs" stroke="#111" stroke-width="0.25">40</text>
<line x1="228.00" y1="179.80" x2="229.20" y2="179.80" stroke="#4a4a4a" stroke-width="0.6"/>
<text x="227.50" y="181.60" font-size="5.0" fill="#111" text-anchor="end" textLength="4.56" lengthAdjust="spacingAndGlyphs" stroke="#111" stroke-width="0.25">20</text>
<line x1="228.00" y1="192.40" x2="229.20" y2="192.40" stroke="#4a4a4a" stroke-width="0.6"/>
<text x="227.50" y="194.20" font-size="5.0" fill="#111" text-anchor="end" textLength="2.28" lengthAdjust="spacingAndGlyphs" stroke="#111" stroke-width="0.25">0</text>
<line x1="229.20" y1="192.40" x2="281.40" y2="192.40" stroke="#4a4a4a" stroke-width="0.5"/>
<line x1="246.65" y1="165.30" x2="246.65" y2="158.50" stroke="#555" stroke-width="0.75"/>
<line x1="242.89" y1="158.50" x2="250.41" y2="158.50" stroke="#555" stroke-width="0.75"/>
<rect x="238.30" y="165.30" width="16.70" height="27.10" fill="#2f4fae" stroke="#1d2f70" stroke-width="0.5"/>
<line x1="271.25" y1="177.00" x2="271.25" y2="174.00" stroke="#555" stroke-width="0.75"/>
<line x1="267.54" y1="174.00" x2="274.96" y2="174.00" stroke="#555" stroke-width="0.75"/>
<rect x="263.00" y="177.00" width="16.50" height="15.40" fill="#ee1c25" stroke="#8a1515" stroke-width="0.5"/>
<circle cx="271.20" cy="169.40" r="1.10" fill="#111" stroke="none" stroke-width="0.6"/>
<text x="239.80" y="200.00" font-size="5.00" font-weight="bold" fill="#000" textLength="15.50" lengthAdjust="spacingAndGlyphs" stroke="#000" stroke-width="0.15">EV CM</text>
<text x="263.40" y="200.00" font-size="5.00" font-weight="bold" fill="#000" textLength="16.70" lengthAdjust="spacingAndGlyphs" stroke="#000" stroke-width="0.15">OE CM</text>
<text x="0" y="0" font-size="5.21" font-weight="normal" fill="#000" text-anchor="middle" textLength="32.40" lengthAdjust="spacingAndGlyphs" transform="translate(217.40,174.80) rotate(-90)" stroke="#000" stroke-width="0.26">Apoptosis (%)</text>
<line x1="229.20" y1="204.40" x2="229.20" y2="242.70" stroke="#4a4a4a" stroke-width="0.6"/>
<line x1="228.00" y1="204.60" x2="229.20" y2="204.60" stroke="#4a4a4a" stroke-width="0.6"/>
<text x="227.50" y="206.40" font-size="5.0" fill="#111" text-anchor="end" textLength="4.56" lengthAdjust="spacingAndGlyphs" stroke="#111" stroke-width="0.25">50</text>
<line x1="228.00" y1="212.40" x2="229.20" y2="212.40" stroke="#4a4a4a" stroke-width="0.6"/>
<text x="227.50" y="214.20" font-size="5.0" fill="#111" text-anchor="end" textLength="4.56" lengthAdjust="spacingAndGlyphs" stroke="#111" stroke-width="0.25">40</text>
<line x1="228.00" y1="220.10" x2="229.20" y2="220.10" stroke="#4a4a4a" stroke-width="0.6"/>
<text x="227.50" y="221.90" font-size="5.0" fill="#111" text-anchor="end" textLength="4.56" lengthAdjust="spacingAndGlyphs" stroke="#111" stroke-width="0.25">30</text>
<line x1="228.00" y1="227.80" x2="229.20" y2="227.80" stroke="#4a4a4a" stroke-width="0.6"/>
<text x="227.50" y="229.60" font-size="5.0" fill="#111" text-anchor="end" textLength="4.56" lengthAdjust="spacingAndGlyphs" stroke="#111" stroke-width="0.25">20</text>
<line x1="228.00" y1="235.00" x2="229.20" y2="235.00" stroke="#4a4a4a" stroke-width="0.6"/>
<text x="227.50" y="236.80" font-size="5.0" fill="#111" text-anchor="end" textLength="4.56" lengthAdjust="spacingAndGlyphs" stroke="#111" stroke-width="0.25">10</text>
<line x1="228.00" y1="242.70" x2="229.20" y2="242.70" stroke="#4a4a4a" stroke-width="0.6"/>
<text x="227.50" y="244.50" font-size="5.0" fill="#111" text-anchor="end" textLength="2.28" lengthAdjust="spacingAndGlyphs" stroke="#111" stroke-width="0.25">0</text>
<line x1="229.20" y1="242.70" x2="283.00" y2="242.70" stroke="#4a4a4a" stroke-width="0.5"/>
<line x1="247.55" y1="213.10" x2="247.55" y2="206.90" stroke="#555" stroke-width="0.75"/>
<line x1="243.88" y1="206.90" x2="251.22" y2="206.90" stroke="#555" stroke-width="0.75"/>
<rect x="239.40" y="213.10" width="16.30" height="29.60" fill="#ec1c78" stroke="#8a1048" stroke-width="0.5"/>
<line x1="271.25" y1="227.80" x2="271.25" y2="224.30" stroke="#555" stroke-width="0.75"/>
<line x1="267.54" y1="224.30" x2="274.96" y2="224.30" stroke="#555" stroke-width="0.75"/>
<rect x="263.00" y="227.80" width="16.50" height="14.90" fill="#1d5b2e" stroke="#0e3018" stroke-width="0.5"/>
<circle cx="271.20" cy="220.50" r="1.10" fill="#111" stroke="none" stroke-width="0.6"/>
<text x="243.10" y="250.80" font-size="5.00" font-weight="bold" fill="#000" textLength="7.90" lengthAdjust="spacingAndGlyphs" stroke="#000" stroke-width="0.15">PBS</text>
<text x="260.60" y="250.80" font-size="5.00" font-weight="bold" fill="#000" textLength="21.40" lengthAdjust="spacingAndGlyphs" stroke="#000" stroke-width="0.15">rhFSTL1</text>
<text x="0" y="0" font-size="5.16" font-weight="normal" fill="#000" text-anchor="middle" textLength="32.10" lengthAdjust="spacingAndGlyphs" transform="translate(217.40,225.35) rotate(-90)" stroke="#000" stroke-width="0.26">Apoptosis (%)</text>
<text x="307.60" y="164.50" font-size="12.3" font-weight="bold" fill="#000" text-anchor="middle" stroke="none">E</text>
<rect x="336.40" y="168.00" width="64.10" height="62.40" fill="none" stroke="#c8c8c8" stroke-width="0.5"/>
<line x1="335.40" y1="170.00" x2="336.40" y2="170.00" stroke="#666" stroke-width="0.4"/>
<text x="334.60" y="171.70" font-size="4.9" fill="#111" text-anchor="end" textLength="5.79" lengthAdjust="spacingAndGlyphs" stroke="#111" stroke-width="0.25">0.0</text>
<line x1="335.40" y1="179.00" x2="336.40" y2="179.00" stroke="#666" stroke-width="0.4"/>
<text x="334.60" y="180.70" font-size="4.9" fill="#111" text-anchor="end" textLength="7.18" lengthAdjust="spacingAndGlyphs" stroke="#111" stroke-width="0.25">-0.2</text>
<line x1="335.40" y1="187.40" x2="336.40" y2="187.40" stroke="#666" stroke-width="0.4"/>
<text x="334.60" y="189.10" font-size="4.9" fill="#111" text-anchor="end" textLength="7.18" lengthAdjust="spacingAndGlyphs" stroke="#111" stroke-width="0.25">-0.4</text>
<line x1="335.40" y1="195.50" x2="336.40" y2="195.50" stroke="#666" stroke-width="0.4"/>
<text x="334.60" y="197.20" font-size="4.9" fill="#111" text-anchor="end" textLength="7.18" lengthAdjust="spacingAndGlyphs" stroke="#111" stroke-width="0.25">-0.6</text>
<line x1="335.40" y1="204.00" x2="336.40" y2="204.00" stroke="#666" stroke-width="0.4"/>
<text x="334.60" y="205.70" font-size="4.9" fill="#111" text-anchor="end" textLength="7.18" lengthAdjust="spacingAndGlyphs" stroke="#111" stroke-width="0.25">-0.8</text>
<line x1="335.40" y1="212.80" x2="336.40" y2="212.80" stroke="#666" stroke-width="0.4"/>
<text x="334.60" y="214.50" font-size="4.9" fill="#111" text-anchor="end" textLength="7.18" lengthAdjust="spacingAndGlyphs" stroke="#111" stroke-width="0.25">-1.0</text>
<line x1="335.40" y1="220.90" x2="336.40" y2="220.90" stroke="#666" stroke-width="0.4"/>
<text x="334.60" y="222.60" font-size="4.9" fill="#111" text-anchor="end" textLength="7.18" lengthAdjust="spacingAndGlyphs" stroke="#111" stroke-width="0.25">-1.2</text>
<line x1="335.40" y1="228.70" x2="336.40" y2="228.70" stroke="#666" stroke-width="0.4"/>
<text x="334.60" y="230.40" font-size="4.9" fill="#111" text-anchor="end" textLength="7.18" lengthAdjust="spacingAndGlyphs" stroke="#111" stroke-width="0.25">-1.4</text>
<line x1="339.00" y1="230.40" x2="339.00" y2="231.40" stroke="#666" stroke-width="0.4"/>
<text x="339.00" y="236.40" font-size="4.9" fill="#111" text-anchor="middle" textLength="2.32" lengthAdjust="spacingAndGlyphs" stroke="#111" stroke-width="0.25">0</text>
<line x1="350.80" y1="230.40" x2="350.80" y2="231.40" stroke="#666" stroke-width="0.4"/>
<text x="350.80" y="236.40" font-size="4.9" fill="#111" text-anchor="middle" textLength="2.32" lengthAdjust="spacingAndGlyphs" stroke="#111" stroke-width="0.25">5</text>
<line x1="362.40" y1="230.40" x2="362.40" y2="231.40" stroke="#666" stroke-width="0.4"/>
<text x="362.40" y="236.40" font-size="4.9" fill="#111" text-anchor="middle" textLength="4.63" lengthAdjust="spacingAndGlyphs" stroke="#111" stroke-width="0.25">10</text>
<line x1="374.00" y1="230.40" x2="374.00" y2="231.40" stroke="#666" stroke-width="0.4"/>
<text x="374.00" y="236.40" font-size="4.9" fill="#111" text-anchor="middle" textLength="4.63" lengthAdjust="spacingAndGlyphs" stroke="#111" stroke-width="0.25">15</text>
<line x1="385.70" y1="230.40" x2="385.70" y2="231.40" stroke="#666" stroke-width="0.4"/>
<text x="385.70" y="236.40" font-size="4.9" fill="#111" text-anchor="middle" textLength="4.63" lengthAdjust="spacingAndGlyphs" stroke="#111" stroke-width="0.25">20</text>
<line x1="397.30" y1="230.40" x2="397.30" y2="231.40" stroke="#666" stroke-width="0.4"/>
<text x="397.30" y="236.40" font-size="4.9" fill="#111" text-anchor="middle" textLength="4.63" lengthAdjust="spacingAndGlyphs" stroke="#111" stroke-width="0.25">25</text>
<clipPath id="lc336"><rect x="336.4" y="168" width="64.10000000000002" height="62.400000000000006"/></clipPath>
<g clip-path="url(#lc336)">
<line x1="339.00" y1="170.00" x2="418.95" y2="201.72" stroke="#9ccde0" stroke-width="0.6"/>
<line x1="339.00" y1="170.00" x2="418.95" y2="216.02" stroke="#2d6b88" stroke-width="0.8"/>
<line x1="339.00" y1="170.00" x2="418.95" y2="226.55" stroke="#4aa3b5" stroke-width="0.6"/>
<line x1="339.00" y1="170.00" x2="418.95" y2="234.74" stroke="#d86a86" stroke-width="0.6"/>
<line x1="339.00" y1="170.00" x2="418.95" y2="242.80" stroke="#b8303e" stroke-width="0.8"/>
<line x1="339.00" y1="170.00" x2="392.30" y2="248.52" stroke="#d07080" stroke-width="0.5"/>
</g>
<rect x="349.90" y="173.40" width="1.8" height="1.2" fill="#2d5a9a"/>
<rect x="361.50" y="183.70" width="1.8" height="1.2" fill="#2d5a9a"/>
<rect x="396.40" y="210.40" width="1.8" height="1.2" fill="#2d5a9a"/>
<rect x="349.90" y="180.10" width="1.8" height="1.2" fill="#c03040"/>
<rect x="361.50" y="198.40" width="1.8" height="1.2" fill="#c03040"/>
<rect x="380.50" y="203.40" width="1.8" height="1.2" fill="#c03040"/>
<rect x="396.40" y="226.60" width="1.8" height="1.2" fill="#c03040"/>
<rect x="338.60" y="169.90" width="1.8" height="1.2" fill="#2d5a9a"/>
<line x1="381.03" y1="210.07" x2="387.77" y2="202.03" stroke="#111" stroke-width="0.7"/>
<path d="M388.80,200.80 L388.28,202.98 L386.75,201.69 Z" fill="#111" stroke="none" stroke-width="0.6"/>
<path d="M380.00,211.30 L382.05,210.41 L380.52,209.12 Z" fill="#111" stroke="none" stroke-width="0.6"/>
<text x="348.00" y="245.00" font-size="5.67" font-weight="normal" fill="#000" textLength="39.40" lengthAdjust="spacingAndGlyphs" stroke="#000" stroke-width="0.28">Number of cells</text>
<text x="0" y="0" font-size="5.96" font-weight="normal" fill="#000" text-anchor="middle" textLength="72.20" lengthAdjust="spacingAndGlyphs" transform="translate(321.40,199.20) rotate(-90)" stroke="#000" stroke-width="0.30">Log fraction nonresponding</text>
<text x="376.10" y="178.40" font-size="5.30" font-weight="bold" fill="#3b4a9e" textLength="18.70" lengthAdjust="spacingAndGlyphs" stroke="#3b4a9e" stroke-width="0.16">EV CM</text>
<text x="379.70" y="186.80" font-size="5.30" font-weight="bold" fill="#3b4a9e" textLength="11.90" lengthAdjust="spacingAndGlyphs" stroke="#3b4a9e" stroke-width="0.16">1:30</text>
<text x="341.70" y="215.40" font-size="5.30" font-weight="bold" fill="#d0343e" textLength="20.30" lengthAdjust="spacingAndGlyphs" stroke="#d0343e" stroke-width="0.16">OE CM</text>
<text x="345.90" y="223.80" font-size="5.30" font-weight="bold" fill="#d0343e" textLength="12.90" lengthAdjust="spacingAndGlyphs" stroke="#d0343e" stroke-width="0.16">1:17</text>
<rect x="417.30" y="167.80" width="63.20" height="63.20" fill="none" stroke="#c8c8c8" stroke-width="0.5"/>
<line x1="416.30" y1="170.70" x2="417.30" y2="170.70" stroke="#666" stroke-width="0.4"/>
<text x="415.50" y="172.40" font-size="4.9" fill="#111" text-anchor="end" textLength="5.79" lengthAdjust="spacingAndGlyphs" stroke="#111" stroke-width="0.25">0.0</text>
<line x1="416.30" y1="179.00" x2="417.30" y2="179.00" stroke="#666" stroke-width="0.4"/>
<text x="415.50" y="180.70" font-size="4.9" fill="#111" text-anchor="end" textLength="7.18" lengthAdjust="spacingAndGlyphs" stroke="#111" stroke-width="0.25">-0.5</text>
<line x1="416.30" y1="188.60" x2="417.30" y2="188.60" stroke="#666" stroke-width="0.4"/>
<text x="415.50" y="190.30" font-size="4.9" fill="#111" text-anchor="end" textLength="7.18" lengthAdjust="spacingAndGlyphs" stroke="#111" stroke-width="0.25">-1.0</text>
<line x1="416.30" y1="197.60" x2="417.30" y2="197.60" stroke="#666" stroke-width="0.4"/>
<text x="415.50" y="199.30" font-size="4.9" fill="#111" text-anchor="end" textLength="7.18" lengthAdjust="spacingAndGlyphs" stroke="#111" stroke-width="0.25">-1.5</text>
<line x1="416.30" y1="206.70" x2="417.30" y2="206.70" stroke="#666" stroke-width="0.4"/>
<text x="415.50" y="208.40" font-size="4.9" fill="#111" text-anchor="end" textLength="7.18" lengthAdjust="spacingAndGlyphs" stroke="#111" stroke-width="0.25">-2.0</text>
<line x1="416.30" y1="216.20" x2="417.30" y2="216.20" stroke="#666" stroke-width="0.4"/>
<text x="415.50" y="217.90" font-size="4.9" fill="#111" text-anchor="end" textLength="7.18" lengthAdjust="spacingAndGlyphs" stroke="#111" stroke-width="0.25">-2.5</text>
<line x1="416.30" y1="225.40" x2="417.30" y2="225.40" stroke="#666" stroke-width="0.4"/>
<text x="415.50" y="227.10" font-size="4.9" fill="#111" text-anchor="end" textLength="7.18" lengthAdjust="spacingAndGlyphs" stroke="#111" stroke-width="0.25">-3.0</text>
<line x1="418.70" y1="231.00" x2="418.70" y2="232.00" stroke="#666" stroke-width="0.4"/>
<text x="418.70" y="237.00" font-size="4.9" fill="#111" text-anchor="middle" textLength="2.32" lengthAdjust="spacingAndGlyphs" stroke="#111" stroke-width="0.25">0</text>
<line x1="431.20" y1="231.00" x2="431.20" y2="232.00" stroke="#666" stroke-width="0.4"/>
<text x="431.20" y="237.00" font-size="4.9" fill="#111" text-anchor="middle" textLength="2.32" lengthAdjust="spacingAndGlyphs" stroke="#111" stroke-width="0.25">5</text>
<line x1="443.30" y1="231.00" x2="443.30" y2="232.00" stroke="#666" stroke-width="0.4"/>
<text x="443.30" y="237.00" font-size="4.9" fill="#111" text-anchor="middle" textLength="4.63" lengthAdjust="spacingAndGlyphs" stroke="#111" stroke-width="0.25">10</text>
<line x1="455.00" y1="231.00" x2="455.00" y2="232.00" stroke="#666" stroke-width="0.4"/>
<text x="455.00" y="237.00" font-size="4.9" fill="#111" text-anchor="middle" textLength="4.63" lengthAdjust="spacingAndGlyphs" stroke="#111" stroke-width="0.25">15</text>
<line x1="466.60" y1="231.00" x2="466.60" y2="232.00" stroke="#666" stroke-width="0.4"/>
<text x="466.60" y="237.00" font-size="4.9" fill="#111" text-anchor="middle" textLength="4.63" lengthAdjust="spacingAndGlyphs" stroke="#111" stroke-width="0.25">20</text>
<line x1="478.20" y1="231.00" x2="478.20" y2="232.00" stroke="#666" stroke-width="0.4"/>
<text x="478.20" y="237.00" font-size="4.9" fill="#111" text-anchor="middle" textLength="4.63" lengthAdjust="spacingAndGlyphs" stroke="#111" stroke-width="0.25">25</text>
<clipPath id="lc417"><rect x="417.3" y="167.8" width="63.19999999999999" height="63.19999999999999"/></clipPath>
<g clip-path="url(#lc417)">
<line x1="418.00" y1="170.00" x2="499.25" y2="223.30" stroke="#d85a8a" stroke-width="0.7"/>
<line x1="418.00" y1="170.00" x2="499.25" y2="243.58" stroke="#b8305a" stroke-width="0.8"/>
<line x1="418.00" y1="170.00" x2="495.35" y2="249.30" stroke="#c86080" stroke-width="0.6"/>
<line x1="418.00" y1="170.00" x2="481.18" y2="249.30" stroke="#707070" stroke-width="0.5"/>
<line x1="418.00" y1="170.00" x2="474.94" y2="249.30" stroke="#606060" stroke-width="0.6"/>
<line x1="418.00" y1="170.00" x2="459.86" y2="249.30" stroke="#8aa08a" stroke-width="0.5"/>
</g>
<rect x="477.00" y="201.80" width="1.8" height="1.2" fill="#c04070"/>
<rect x="430.30" y="185.40" width="1.8" height="1.2" fill="#c04070"/>
<rect x="442.40" y="198.90" width="1.8" height="1.2" fill="#c04070"/>
<rect x="458.80" y="216.00" width="1.8" height="1.2" fill="#c04070"/>
<rect x="477.10" y="228.30" width="1.8" height="1.2" fill="#c04070"/>
<rect x="430.30" y="189.20" width="1.8" height="1.2" fill="#3a7a40"/>
<rect x="419.90" y="175.40" width="1.8" height="1.2" fill="#c04070"/>
<line x1="459.10" y1="222.04" x2="464.70" y2="216.16" stroke="#111" stroke-width="0.7"/>
<path d="M465.80,215.00 L465.15,217.14 L463.70,215.76 Z" fill="#111" stroke="none" stroke-width="0.6"/>
<path d="M458.00,223.20 L460.10,222.44 L458.65,221.06 Z" fill="#111" stroke="none" stroke-width="0.6"/>
<text x="428.10" y="245.50" font-size="5.82" font-weight="normal" fill="#000" textLength="40.40" lengthAdjust="spacingAndGlyphs" stroke="#000" stroke-width="0.29">Number of cells</text>
<text x="461.80" y="186.60" font-size="5.30" font-weight="bold" fill="#e0559a" textLength="10.80" lengthAdjust="spacingAndGlyphs" stroke="#e0559a" stroke-width="0.16">PBS</text>
<text x="462.70" y="196.10" font-size="5.30" font-weight="bold" fill="#e0559a" textLength="8.70" lengthAdjust="spacingAndGlyphs" stroke="#e0559a" stroke-width="0.16">1:6</text>
<text x="422.00" y="218.60" font-size="5.30" font-weight="bold" fill="#2e6a38" textLength="23.50" lengthAdjust="spacingAndGlyphs" stroke="#2e6a38" stroke-width="0.16">rhFSTL1</text>
<text x="428.90" y="227.60" font-size="5.30" font-weight="bold" fill="#2e6a38" textLength="8.40" lengthAdjust="spacingAndGlyphs" stroke="#2e6a38" stroke-width="0.16">1:4</text>
<text x="18.30" y="274.30" font-size="12.3" font-weight="bold" fill="#000" text-anchor="middle" stroke="none">F</text>
<line x1="64.00" y1="269.00" x2="64.00" y2="333.00" stroke="#4a4a4a" stroke-width="0.5"/>
<line x1="62.80" y1="269.10" x2="64.00" y2="269.10" stroke="#4a4a4a" stroke-width="0.5"/>
<text x="62.30" y="270.80" font-size="4.6" fill="#111" text-anchor="end" textLength="6.29" lengthAdjust="spacingAndGlyphs" stroke="#111" stroke-width="0.23">800</text>
<line x1="62.80" y1="285.30" x2="64.00" y2="285.30" stroke="#4a4a4a" stroke-width="0.5"/>
<text x="62.30" y="287.00" font-size="4.6" fill="#111" text-anchor="end" textLength="6.29" lengthAdjust="spacingAndGlyphs" stroke="#111" stroke-width="0.23">600</text>
<line x1="62.80" y1="301.40" x2="64.00" y2="301.40" stroke="#4a4a4a" stroke-width="0.5"/>
<text x="62.30" y="303.10" font-size="4.6" fill="#111" text-anchor="end" textLength="6.29" lengthAdjust="spacingAndGlyphs" stroke="#111" stroke-width="0.23">400</text>
<line x1="62.80" y1="317.30" x2="64.00" y2="317.30" stroke="#4a4a4a" stroke-width="0.5"/>
<text x="62.30" y="319.00" font-size="4.6" fill="#111" text-anchor="end" textLength="6.29" lengthAdjust="spacingAndGlyphs" stroke="#111" stroke-width="0.23">200</text>
<line x1="62.80" y1="333.10" x2="64.00" y2="333.10" stroke="#4a4a4a" stroke-width="0.5"/>
<text x="62.30" y="334.80" font-size="4.6" fill="#111" text-anchor="end" textLength="2.10" lengthAdjust="spacingAndGlyphs" stroke="#111" stroke-width="0.23">0</text>
<line x1="64.00" y1="333.00" x2="161.60" y2="333.00" stroke="#4a4a4a" stroke-width="0.5"/>
<line x1="74.70" y1="333.00" x2="74.70" y2="334.20" stroke="#4a4a4a" stroke-width="0.5"/>
<text x="74.70" y="340.30" font-size="4.6" fill="#111" text-anchor="middle" textLength="4.20" lengthAdjust="spacingAndGlyphs" stroke="#111" stroke-width="0.23">17</text>
<line x1="95.00" y1="333.00" x2="95.00" y2="334.20" stroke="#4a4a4a" stroke-width="0.5"/>
<text x="95.00" y="340.30" font-size="4.6" fill="#111" text-anchor="middle" textLength="4.20" lengthAdjust="spacingAndGlyphs" stroke="#111" stroke-width="0.23">27</text>
<line x1="113.80" y1="333.00" x2="113.80" y2="334.20" stroke="#4a4a4a" stroke-width="0.5"/>
<text x="113.80" y="340.30" font-size="4.6" fill="#111" text-anchor="middle" textLength="4.20" lengthAdjust="spacingAndGlyphs" stroke="#111" stroke-width="0.23">37</text>
<line x1="133.00" y1="333.00" x2="133.00" y2="334.20" stroke="#4a4a4a" stroke-width="0.5"/>
<text x="133.00" y="340.30" font-size="4.6" fill="#111" text-anchor="middle" textLength="4.20" lengthAdjust="spacingAndGlyphs" stroke="#111" stroke-width="0.23">47</text>
<line x1="152.10" y1="333.00" x2="152.10" y2="334.20" stroke="#4a4a4a" stroke-width="0.5"/>
<text x="152.10" y="340.30" font-size="4.6" fill="#111" text-anchor="middle" textLength="4.20" lengthAdjust="spacingAndGlyphs" stroke="#111" stroke-width="0.23">53</text>
<text x="87.20" y="349.00" font-size="6.09" font-weight="normal" fill="#000" textLength="51.10" lengthAdjust="spacingAndGlyphs" stroke="#000" stroke-width="0.30">Days post injection</text>
<text x="0" y="0" font-size="5.0" fill="#111" text-anchor="middle" transform="translate(49.4,299.7) rotate(-90)" textLength="63" lengthAdjust="spacingAndGlyphs" stroke="#111" stroke-width="0.25">Tumor volume (mm<tspan font-size="3.3" dy="-1.6">3</tspan><tspan dy="1.6">)</tspan></text>
<line x1="74.70" y1="332.30" x2="74.70" y2="331.00" stroke="#d0343e" stroke-width="0.6"/>
<line x1="73.10" y1="331.00" x2="76.30" y2="331.00" stroke="#d0343e" stroke-width="0.6"/>
<line x1="95.00" y1="330.60" x2="95.00" y2="327.40" stroke="#d0343e" stroke-width="0.6"/>
<line x1="93.40" y1="327.40" x2="96.60" y2="327.40" stroke="#d0343e" stroke-width="0.6"/>
<line x1="113.80" y1="327.60" x2="113.80" y2="319.00" stroke="#d0343e" stroke-width="0.6"/>
<line x1="112.20" y1="319.00" x2="115.40" y2="319.00" stroke="#d0343e" stroke-width="0.6"/>
<line x1="133.00" y1="320.40" x2="133.00" y2="299.40" stroke="#d0343e" stroke-width="0.6"/>
<line x1="131.40" y1="299.40" x2="134.60" y2="299.40" stroke="#d0343e" stroke-width="0.6"/>
<line x1="152.10" y1="312.20" x2="152.10" y2="282.60" stroke="#d0343e" stroke-width="0.6"/>
<line x1="150.50" y1="282.60" x2="153.70" y2="282.60" stroke="#d0343e" stroke-width="0.6"/>
<polyline points="74.70,332.30 95.00,330.60 113.80,327.60 133.00,320.40 152.10,312.20" fill="none" stroke="#d0343e" stroke-width="0.8"/>
<rect x="73.70" y="331.30" width="2.00" height="2.00" fill="#d0343e" stroke="none" stroke-width="0.6"/>
<circle cx="74.70" cy="333.00" r="0.90" fill="#2f4fae" stroke="none" stroke-width="0.6"/>
<rect x="94.00" y="329.60" width="2.00" height="2.00" fill="#d0343e" stroke="none" stroke-width="0.6"/>
<circle cx="95.00" cy="333.00" r="0.90" fill="#2f4fae" stroke="none" stroke-width="0.6"/>
<rect x="112.80" y="326.60" width="2.00" height="2.00" fill="#d0343e" stroke="none" stroke-width="0.6"/>
<circle cx="113.80" cy="333.00" r="0.90" fill="#2f4fae" stroke="none" stroke-width="0.6"/>
<rect x="132.00" y="319.40" width="2.00" height="2.00" fill="#d0343e" stroke="none" stroke-width="0.6"/>
<circle cx="133.00" cy="333.00" r="0.90" fill="#2f4fae" stroke="none" stroke-width="0.6"/>
<rect x="151.10" y="311.20" width="2.00" height="2.00" fill="#d0343e" stroke="none" stroke-width="0.6"/>
<circle cx="152.10" cy="333.00" r="0.90" fill="#2f4fae" stroke="none" stroke-width="0.6"/>
<circle cx="150.40" cy="278.60" r="0.80" fill="#222" stroke="none" stroke-width="0.6"/>
<circle cx="153.60" cy="278.60" r="0.80" fill="#222" stroke="none" stroke-width="0.6"/>
<text x="121.40" y="292.50" font-size="5.30" font-weight="bold" fill="#d0343e" textLength="19.60" lengthAdjust="spacingAndGlyphs" stroke="#d0343e" stroke-width="0.16">OE CM</text>
<text x="148.40" y="327.20" font-size="5.30" font-weight="bold" fill="#3b4a9e" textLength="19.50" lengthAdjust="spacingAndGlyphs" stroke="#3b4a9e" stroke-width="0.16">EV CM</text>
<rect x="186.00" y="279.00" width="129.60" height="42.60" fill="#b0d6d0" stroke="#333" stroke-width="0.9"/>
<linearGradient id="tg" x1="0" y1="0" x2="0" y2="1"><stop offset="0" stop-color="#a4ccc6"/><stop offset="1" stop-color="#bce0da"/></linearGradient>
<rect x="186.50" y="279.50" width="128.60" height="41.60" fill="url(#tg)" stroke="none" stroke-width="0.6"/>
<ellipse cx="201.50" cy="296.00" rx="6.23" ry="7.20" fill="#b85a4c" stroke="none" stroke-width="0.6"/>
<circle cx="204.83" cy="300.34" r="5.00" fill="#b85a4c" stroke="none" stroke-width="0.6"/>
<circle cx="201.37" cy="300.78" r="4.48" fill="#b85a4c" stroke="none" stroke-width="0.6"/>
<circle cx="198.68" cy="291.41" r="3.89" fill="#b85a4c" stroke="none" stroke-width="0.6"/>
<circle cx="206.41" cy="297.02" r="4.45" fill="#b85a4c" stroke="none" stroke-width="0.6"/>
<circle cx="201.72" cy="292.64" r="4.47" fill="#b85a4c" stroke="none" stroke-width="0.6"/>
<circle cx="200.88" cy="292.05" r="5.30" fill="#b85a4c" stroke="none" stroke-width="0.6"/>
<circle cx="203.93" cy="294.00" r="3.78" fill="#b85a4c" stroke="none" stroke-width="0.6"/>
<circle cx="200.80" cy="299.79" r="4.57" fill="#7a2a24" stroke="none" stroke-width="0.6" opacity="0.9"/>
<circle cx="199.76" cy="297.04" r="3.98" fill="#7a2a24" stroke="none" stroke-width="0.6" opacity="0.9"/>
<circle cx="199.56" cy="296.86" r="3.40" fill="#7a2a24" stroke="none" stroke-width="0.6" opacity="0.9"/>
<circle cx="198.35" cy="299.54" r="2.82" fill="#7a2a24" stroke="none" stroke-width="0.6" opacity="0.9"/>
<circle cx="201.46" cy="292.93" r="1.66" fill="#a04438" stroke="none" stroke-width="0.6" opacity="0.6"/>
<circle cx="198.82" cy="292.76" r="1.66" fill="#a04438" stroke="none" stroke-width="0.6" opacity="0.6"/>
<circle cx="201.10" cy="293.58" r="1.66" fill="#a04438" stroke="none" stroke-width="0.6" opacity="0.6"/>
<circle cx="196.73" cy="299.89" r="1.66" fill="#a04438" stroke="none" stroke-width="0.6" opacity="0.6"/>
<circle cx="202.81" cy="296.20" r="1.41" fill="#e8a088" stroke="none" stroke-width="0.6" opacity="0.7"/>
<circle cx="199.12" cy="300.23" r="1.41" fill="#e8a088" stroke="none" stroke-width="0.6" opacity="0.7"/>
<circle cx="205.83" cy="290.19" r="1.41" fill="#e8a088" stroke="none" stroke-width="0.6" opacity="0.7"/>
<circle cx="200.58" cy="297.11" r="1.41" fill="#e8a088" stroke="none" stroke-width="0.6" opacity="0.7"/>
<circle cx="204.35" cy="299.59" r="1.41" fill="#e8a088" stroke="none" stroke-width="0.6" opacity="0.7"/>
<circle cx="201.47" cy="298.36" r="1.41" fill="#e8a088" stroke="none" stroke-width="0.6" opacity="0.7"/>
<ellipse cx="240.50" cy="294.50" rx="5.10" ry="5.85" fill="#b45448" stroke="none" stroke-width="0.6"/>
<circle cx="244.65" cy="293.15" r="3.14" fill="#b45448" stroke="none" stroke-width="0.6"/>
<circle cx="244.02" cy="296.88" r="4.06" fill="#b45448" stroke="none" stroke-width="0.6"/>
<circle cx="239.05" cy="291.48" r="3.88" fill="#b45448" stroke="none" stroke-width="0.6"/>
<circle cx="237.71" cy="291.96" r="3.28" fill="#b45448" stroke="none" stroke-width="0.6"/>
<circle cx="237.61" cy="296.04" r="4.04" fill="#b45448" stroke="none" stroke-width="0.6"/>
<circle cx="244.81" cy="294.34" r="3.80" fill="#b45448" stroke="none" stroke-width="0.6"/>
<circle cx="237.75" cy="295.64" r="3.11" fill="#b45448" stroke="none" stroke-width="0.6"/>
<circle cx="239.61" cy="295.46" r="3.74" fill="#7a2a24" stroke="none" stroke-width="0.6" opacity="0.9"/>
<circle cx="240.90" cy="295.59" r="3.26" fill="#7a2a24" stroke="none" stroke-width="0.6" opacity="0.9"/>
<circle cx="243.16" cy="296.63" r="2.79" fill="#7a2a24" stroke="none" stroke-width="0.6" opacity="0.9"/>
<circle cx="242.34" cy="295.97" r="2.31" fill="#7a2a24" stroke="none" stroke-width="0.6" opacity="0.9"/>
<circle cx="236.61" cy="292.86" r="1.36" fill="#a04438" stroke="none" stroke-width="0.6" opacity="0.6"/>
<circle cx="237.54" cy="294.60" r="1.36" fill="#a04438" stroke="none" stroke-width="0.6" opacity="0.6"/>
<circle cx="244.57" cy="296.13" r="1.36" fill="#a04438" stroke="none" stroke-width="0.6" opacity="0.6"/>
<circle cx="237.90" cy="298.18" r="1.36" fill="#a04438" stroke="none" stroke-width="0.6" opacity="0.6"/>
<circle cx="242.31" cy="295.76" r="1.16" fill="#e09484" stroke="none" stroke-width="0.6" opacity="0.7"/>
<circle cx="243.21" cy="296.02" r="1.16" fill="#e09484" stroke="none" stroke-width="0.6" opacity="0.7"/>
<circle cx="242.25" cy="292.20" r="1.16" fill="#e09484" stroke="none" stroke-width="0.6" opacity="0.7"/>
<circle cx="243.81" cy="297.89" r="1.16" fill="#e09484" stroke="none" stroke-width="0.6" opacity="0.7"/>
<circle cx="237.12" cy="295.94" r="1.16" fill="#e09484" stroke="none" stroke-width="0.6" opacity="0.7"/>
<circle cx="241.64" cy="293.20" r="1.16" fill="#e09484" stroke="none" stroke-width="0.6" opacity="0.7"/>
<ellipse cx="274.00" cy="294.50" rx="4.05" ry="4.20" fill="#8a2a2c" stroke="none" stroke-width="0.6"/>
<circle cx="274.21" cy="297.37" r="2.83" fill="#8a2a2c" stroke="none" stroke-width="0.6"/>
<circle cx="271.69" cy="292.67" r="2.50" fill="#8a2a2c" stroke="none" stroke-width="0.6"/>
<circle cx="277.24" cy="294.78" r="2.71" fill="#8a2a2c" stroke="none" stroke-width="0.6"/>
<circle cx="274.34" cy="298.12" r="2.94" fill="#8a2a2c" stroke="none" stroke-width="0.6"/>
<circle cx="275.38" cy="292.14" r="3.12" fill="#8a2a2c" stroke="none" stroke-width="0.6"/>
<circle cx="275.71" cy="296.96" r="3.37" fill="#8a2a2c" stroke="none" stroke-width="0.6"/>
<circle cx="270.94" cy="294.04" r="3.16" fill="#8a2a2c" stroke="none" stroke-width="0.6"/>
<circle cx="272.82" cy="295.81" r="2.97" fill="#4a1014" stroke="none" stroke-width="0.6" opacity="0.9"/>
<circle cx="274.25" cy="294.78" r="2.59" fill="#4a1014" stroke="none" stroke-width="0.6" opacity="0.9"/>
<circle cx="272.73" cy="296.62" r="2.21" fill="#4a1014" stroke="none" stroke-width="0.6" opacity="0.9"/>
<circle cx="273.93" cy="296.46" r="1.84" fill="#4a1014" stroke="none" stroke-width="0.6" opacity="0.9"/>
<circle cx="276.45" cy="295.94" r="1.08" fill="#6a1a1e" stroke="none" stroke-width="0.6" opacity="0.6"/>
<circle cx="276.73" cy="293.79" r="1.08" fill="#6a1a1e" stroke="none" stroke-width="0.6" opacity="0.6"/>
<circle cx="275.95" cy="294.13" r="1.08" fill="#6a1a1e" stroke="none" stroke-width="0.6" opacity="0.6"/>
<circle cx="276.82" cy="297.05" r="1.08" fill="#6a1a1e" stroke="none" stroke-width="0.6" opacity="0.6"/>
<circle cx="271.39" cy="291.55" r="0.92" fill="#b85050" stroke="none" stroke-width="0.6" opacity="0.7"/>
<circle cx="272.17" cy="297.12" r="0.92" fill="#b85050" stroke="none" stroke-width="0.6" opacity="0.7"/>
<circle cx="273.59" cy="294.85" r="0.92" fill="#b85050" stroke="none" stroke-width="0.6" opacity="0.7"/>
<circle cx="272.71" cy="294.04" r="0.92" fill="#b85050" stroke="none" stroke-width="0.6" opacity="0.7"/>
<circle cx="273.26" cy="292.99" r="0.92" fill="#b85050" stroke="none" stroke-width="0.6" opacity="0.7"/>
<circle cx="274.55" cy="294.56" r="0.92" fill="#b85050" stroke="none" stroke-width="0.6" opacity="0.7"/>
<ellipse cx="303.00" cy="294.50" rx="2.85" ry="2.92" fill="#d49090" stroke="none" stroke-width="0.6"/>
<circle cx="303.13" cy="295.98" r="2.01" fill="#d49090" stroke="none" stroke-width="0.6"/>
<circle cx="303.79" cy="295.69" r="2.02" fill="#d49090" stroke="none" stroke-width="0.6"/>
<circle cx="304.95" cy="293.37" r="2.29" fill="#d49090" stroke="none" stroke-width="0.6"/>
<circle cx="303.34" cy="296.46" r="1.92" fill="#d49090" stroke="none" stroke-width="0.6"/>
<circle cx="303.68" cy="295.82" r="1.87" fill="#d49090" stroke="none" stroke-width="0.6"/>
<circle cx="305.04" cy="293.47" r="2.32" fill="#d49090" stroke="none" stroke-width="0.6"/>
<circle cx="303.48" cy="292.99" r="1.95" fill="#d49090" stroke="none" stroke-width="0.6"/>
<circle cx="303.24" cy="294.95" r="2.09" fill="#c07070" stroke="none" stroke-width="0.6" opacity="0.9"/>
<circle cx="303.67" cy="295.24" r="1.82" fill="#c07070" stroke="none" stroke-width="0.6" opacity="0.9"/>
<circle cx="302.21" cy="294.71" r="1.56" fill="#c07070" stroke="none" stroke-width="0.6" opacity="0.9"/>
<circle cx="303.33" cy="294.51" r="1.29" fill="#c07070" stroke="none" stroke-width="0.6" opacity="0.9"/>
<circle cx="301.53" cy="294.38" r="0.76" fill="#c88080" stroke="none" stroke-width="0.6" opacity="0.6"/>
<circle cx="301.13" cy="296.53" r="0.76" fill="#c88080" stroke="none" stroke-width="0.6" opacity="0.6"/>
<circle cx="304.67" cy="294.72" r="0.76" fill="#c88080" stroke="none" stroke-width="0.6" opacity="0.6"/>
<circle cx="302.09" cy="296.41" r="0.76" fill="#c88080" stroke="none" stroke-width="0.6" opacity="0.6"/>
<circle cx="303.33" cy="296.29" r="0.65" fill="#f0b8b0" stroke="none" stroke-width="0.6" opacity="0.7"/>
<circle cx="304.59" cy="294.54" r="0.65" fill="#f0b8b0" stroke="none" stroke-width="0.6" opacity="0.7"/>
<circle cx="302.61" cy="294.96" r="0.65" fill="#f0b8b0" stroke="none" stroke-width="0.6" opacity="0.7"/>
<circle cx="302.69" cy="292.91" r="0.65" fill="#f0b8b0" stroke="none" stroke-width="0.6" opacity="0.7"/>
<circle cx="302.11" cy="295.96" r="0.65" fill="#f0b8b0" stroke="none" stroke-width="0.6" opacity="0.7"/>
<circle cx="300.92" cy="292.38" r="0.65" fill="#f0b8b0" stroke="none" stroke-width="0.6" opacity="0.7"/>
<line x1="299.00" y1="318.00" x2="311.00" y2="318.00" stroke="#222" stroke-width="0.9"/>
<text x="319.90" y="294.90" font-size="5.80" font-weight="bold" fill="#000" textLength="19.70" lengthAdjust="spacingAndGlyphs" stroke="#000" stroke-width="0.17">OE CM</text>
<text x="319.90" y="310.90" font-size="5.80" font-weight="bold" fill="#000" textLength="19.20" lengthAdjust="spacingAndGlyphs" stroke="#000" stroke-width="0.17">EV CM</text>
<text x="361.50" y="276.60" font-size="12.3" font-weight="bold" fill="#000" text-anchor="middle" stroke="none">G</text>
<line x1="394.40" y1="267.20" x2="394.40" y2="329.80" stroke="#4a4a4a" stroke-width="0.5"/>
<line x1="392.80" y1="329.80" x2="394.40" y2="329.80" stroke="#4a4a4a" stroke-width="0.45"/>
<line x1="393.40" y1="326.96" x2="394.40" y2="326.96" stroke="#4a4a4a" stroke-width="0.45"/>
<line x1="393.40" y1="324.12" x2="394.40" y2="324.12" stroke="#4a4a4a" stroke-width="0.45"/>
<line x1="393.40" y1="321.28" x2="394.40" y2="321.28" stroke="#4a4a4a" stroke-width="0.45"/>
<line x1="393.40" y1="318.44" x2="394.40" y2="318.44" stroke="#4a4a4a" stroke-width="0.45"/>
<line x1="393.40" y1="315.60" x2="394.40" y2="315.60" stroke="#4a4a4a" stroke-width="0.45"/>
<line x1="393.40" y1="312.76" x2="394.40" y2="312.76" stroke="#4a4a4a" stroke-width="0.45"/>
<line x1="393.40" y1="309.92" x2="394.40" y2="309.92" stroke="#4a4a4a" stroke-width="0.45"/>
<line x1="393.40" y1="307.08" x2="394.40" y2="307.08" stroke="#4a4a4a" stroke-width="0.45"/>
<line x1="393.40" y1="304.24" x2="394.40" y2="304.24" stroke="#4a4a4a" stroke-width="0.45"/>
<line x1="392.80" y1="301.40" x2="394.40" y2="301.40" stroke="#4a4a4a" stroke-width="0.45"/>
<line x1="393.40" y1="298.56" x2="394.40" y2="298.56" stroke="#4a4a4a" stroke-width="0.45"/>
<line x1="393.40" y1="295.72" x2="394.40" y2="295.72" stroke="#4a4a4a" stroke-width="0.45"/>
<line x1="393.40" y1="292.88" x2="394.40" y2="292.88" stroke="#4a4a4a" stroke-width="0.45"/>
<line x1="393.40" y1="290.04" x2="394.40" y2="290.04" stroke="#4a4a4a" stroke-width="0.45"/>
<line x1="393.40" y1="287.20" x2="394.40" y2="287.20" stroke="#4a4a4a" stroke-width="0.45"/>
<line x1="393.40" y1="284.36" x2="394.40" y2="284.36" stroke="#4a4a4a" stroke-width="0.45"/>
<line x1="393.40" y1="281.52" x2="394.40" y2="281.52" stroke="#4a4a4a" stroke-width="0.45"/>
<line x1="393.40" y1="278.68" x2="394.40" y2="278.68" stroke="#4a4a4a" stroke-width="0.45"/>
<line x1="393.40" y1="275.84" x2="394.40" y2="275.84" stroke="#4a4a4a" stroke-width="0.45"/>
<line x1="392.80" y1="273.00" x2="394.40" y2="273.00" stroke="#4a4a4a" stroke-width="0.45"/>
<line x1="393.40" y1="270.16" x2="394.40" y2="270.16" stroke="#4a4a4a" stroke-width="0.45"/>
<line x1="393.40" y1="267.32" x2="394.40" y2="267.32" stroke="#4a4a4a" stroke-width="0.45"/>
<text x="391.60" y="275.00" font-size="4.6" fill="#111" text-anchor="end" textLength="6.29" lengthAdjust="spacingAndGlyphs" stroke="#111" stroke-width="0.23">100</text>
<text x="391.60" y="304.20" font-size="4.6" fill="#111" text-anchor="end" textLength="4.20" lengthAdjust="spacingAndGlyphs" stroke="#111" stroke-width="0.23">50</text>
<text x="391.60" y="331.50" font-size="4.6" fill="#111" text-anchor="end" textLength="2.10" lengthAdjust="spacingAndGlyphs" stroke="#111" stroke-width="0.23">0</text>
<line x1="394.60" y1="329.80" x2="490.00" y2="329.80" stroke="#4a4a4a" stroke-width="0.5"/>
<line x1="394.60" y1="329.80" x2="394.60" y2="331.00" stroke="#4a4a4a" stroke-width="0.5"/>
<text x="394.60" y="336.60" font-size="4.6" fill="#111" text-anchor="middle" textLength="2.10" lengthAdjust="spacingAndGlyphs" stroke="#111" stroke-width="0.23">0</text>
<line x1="417.00" y1="329.80" x2="417.00" y2="331.00" stroke="#4a4a4a" stroke-width="0.5"/>
<text x="417.00" y="336.60" font-size="4.6" fill="#111" text-anchor="middle" textLength="2.10" lengthAdjust="spacingAndGlyphs" stroke="#111" stroke-width="0.23">5</text>
<line x1="440.80" y1="329.80" x2="440.80" y2="331.00" stroke="#4a4a4a" stroke-width="0.5"/>
<text x="440.80" y="336.60" font-size="4.6" fill="#111" text-anchor="middle" textLength="4.20" lengthAdjust="spacingAndGlyphs" stroke="#111" stroke-width="0.23">10</text>
<line x1="464.80" y1="329.80" x2="464.80" y2="331.00" stroke="#4a4a4a" stroke-width="0.5"/>
<text x="464.80" y="336.60" font-size="4.6" fill="#111" text-anchor="middle" textLength="4.20" lengthAdjust="spacingAndGlyphs" stroke="#111" stroke-width="0.23">15</text>
<line x1="488.50" y1="329.80" x2="488.50" y2="331.00" stroke="#4a4a4a" stroke-width="0.5"/>
<text x="488.50" y="336.60" font-size="4.6" fill="#111" text-anchor="middle" textLength="4.20" lengthAdjust="spacingAndGlyphs" stroke="#111" stroke-width="0.23">20</text>
<text x="415.00" y="346.50" font-size="6.33" font-weight="normal" fill="#000" textLength="53.10" lengthAdjust="spacingAndGlyphs" stroke="#000" stroke-width="0.32">Days post injection</text>
<text x="0" y="0" font-size="5.96" font-weight="normal" fill="#000" text-anchor="middle" textLength="62.00" lengthAdjust="spacingAndGlyphs" transform="translate(379.40,301.10) rotate(-90)" stroke="#000" stroke-width="0.30">Tumor-free survival (%)</text>
<polyline points="394.60,272.80 432.50,272.80 432.50,276.50 445.40,276.50 445.40,287.30 465.40,287.30 465.40,312.00 479.00,312.00 479.00,322.00" fill="none" stroke="#d0343e" stroke-width="0.7"/>
<polyline points="394.60,272.60 432.50,272.60 432.50,275.60 464.50,275.60 464.50,281.00 479.50,281.00 479.50,301.00" fill="none" stroke="#4a5aa8" stroke-width="0.7"/>
<text x="475.00" y="274.80" font-size="5.30" font-weight="bold" fill="#3b4a9e" textLength="17.60" lengthAdjust="spacingAndGlyphs" stroke="#3b4a9e" stroke-width="0.16">EV CM</text>
<text x="449.40" y="323.10" font-size="5.30" font-weight="bold" fill="#d0343e" textLength="20.20" lengthAdjust="spacingAndGlyphs" stroke="#d0343e" stroke-width="0.16">OE CM</text>
<polyline points="483.00,302.70 485.40,302.70 485.40,313.50 483.00,313.50" fill="none" stroke="#222" stroke-width="0.6"/>
<circle cx="490.00" cy="303.50" r="0.80" fill="#111" stroke="none" stroke-width="0.6"/>
<circle cx="490.00" cy="306.90" r="0.80" fill="#111" stroke="none" stroke-width="0.6"/>
<circle cx="490.00" cy="310.30" r="0.80" fill="#111" stroke="none" stroke-width="0.6"/>
<circle cx="490.00" cy="313.70" r="0.80" fill="#111" stroke="none" stroke-width="0.6"/>
<text x="361.80" y="359.60" font-size="12.3" font-weight="bold" fill="#000" text-anchor="middle" stroke="none">H</text>
<rect x="398.00" y="357.00" width="88.25" height="81.00" fill="none" stroke="#c8c8c8" stroke-width="0.5"/>
<line x1="397.00" y1="360.00" x2="398.00" y2="360.00" stroke="#666" stroke-width="0.4"/>
<text x="396.20" y="361.70" font-size="4.9" fill="#111" text-anchor="end" textLength="5.79" lengthAdjust="spacingAndGlyphs" stroke="#111" stroke-width="0.25">0.0</text>
<line x1="397.00" y1="375.50" x2="398.00" y2="375.50" stroke="#666" stroke-width="0.4"/>
<text x="396.20" y="377.20" font-size="4.9" fill="#111" text-anchor="end" textLength="7.18" lengthAdjust="spacingAndGlyphs" stroke="#111" stroke-width="0.25">-0.2</text>
<line x1="397.00" y1="390.75" x2="398.00" y2="390.75" stroke="#666" stroke-width="0.4"/>
<text x="396.20" y="392.45" font-size="4.9" fill="#111" text-anchor="end" textLength="7.18" lengthAdjust="spacingAndGlyphs" stroke="#111" stroke-width="0.25">-0.4</text>
<line x1="397.00" y1="405.75" x2="398.00" y2="405.75" stroke="#666" stroke-width="0.4"/>
<text x="396.20" y="407.45" font-size="4.9" fill="#111" text-anchor="end" textLength="7.18" lengthAdjust="spacingAndGlyphs" stroke="#111" stroke-width="0.25">-0.6</text>
<line x1="397.00" y1="421.25" x2="398.00" y2="421.25" stroke="#666" stroke-width="0.4"/>
<text x="396.20" y="422.95" font-size="4.9" fill="#111" text-anchor="end" textLength="7.18" lengthAdjust="spacingAndGlyphs" stroke="#111" stroke-width="0.25">-0.8</text>
<line x1="397.00" y1="437.00" x2="398.00" y2="437.00" stroke="#666" stroke-width="0.4"/>
<text x="396.20" y="438.70" font-size="4.9" fill="#111" text-anchor="end" textLength="7.18" lengthAdjust="spacingAndGlyphs" stroke="#111" stroke-width="0.25">-1.0</text>
<line x1="401.00" y1="438.00" x2="401.00" y2="439.00" stroke="#666" stroke-width="0.4"/>
<text x="401.00" y="444.00" font-size="4.9" fill="#111" text-anchor="middle" textLength="2.32" lengthAdjust="spacingAndGlyphs" stroke="#111" stroke-width="0.25">0</text>
<line x1="417.50" y1="438.00" x2="417.50" y2="439.00" stroke="#666" stroke-width="0.4"/>
<text x="417.50" y="444.00" font-size="4.9" fill="#111" text-anchor="middle" textLength="2.32" lengthAdjust="spacingAndGlyphs" stroke="#111" stroke-width="0.25">5</text>
<line x1="434.00" y1="438.00" x2="434.00" y2="439.00" stroke="#666" stroke-width="0.4"/>
<text x="434.00" y="444.00" font-size="4.9" fill="#111" text-anchor="middle" textLength="4.63" lengthAdjust="spacingAndGlyphs" stroke="#111" stroke-width="0.25">10</text>
<line x1="450.00" y1="438.00" x2="450.00" y2="439.00" stroke="#666" stroke-width="0.4"/>
<text x="450.00" y="444.00" font-size="4.9" fill="#111" text-anchor="middle" textLength="4.63" lengthAdjust="spacingAndGlyphs" stroke="#111" stroke-width="0.25">15</text>
<line x1="466.00" y1="438.00" x2="466.00" y2="439.00" stroke="#666" stroke-width="0.4"/>
<text x="466.00" y="444.00" font-size="4.9" fill="#111" text-anchor="middle" textLength="4.63" lengthAdjust="spacingAndGlyphs" stroke="#111" stroke-width="0.25">20</text>
<line x1="482.50" y1="438.00" x2="482.50" y2="439.00" stroke="#666" stroke-width="0.4"/>
<text x="482.50" y="444.00" font-size="4.9" fill="#111" text-anchor="middle" textLength="4.63" lengthAdjust="spacingAndGlyphs" stroke="#111" stroke-width="0.25">25</text>
<clipPath id="lc398"><rect x="398" y="357" width="88.25" height="81"/></clipPath>
<g clip-path="url(#lc398)">
<line x1="400.00" y1="358.50" x2="512.12" y2="373.45" stroke="#8ec4d8" stroke-width="0.6"/>
<line x1="400.00" y1="358.50" x2="512.12" y2="388.73" stroke="#2d6090" stroke-width="0.9"/>
<line x1="400.00" y1="358.50" x2="512.12" y2="418.95" stroke="#7a9aa8" stroke-width="0.6"/>
<line x1="400.00" y1="358.50" x2="512.12" y2="428.05" stroke="#8a8a96" stroke-width="0.6"/>
<line x1="400.00" y1="358.50" x2="507.25" y2="459.25" stroke="#b8303e" stroke-width="0.9"/>
<line x1="400.00" y1="358.50" x2="469.88" y2="461.85" stroke="#c86070" stroke-width="0.5"/>
</g>
<rect x="416.60" y="363.90" width="1.8" height="1.2" fill="#2d5a9a"/>
<rect x="433.10" y="368.40" width="1.8" height="1.2" fill="#2d5a9a"/>
<rect x="481.60" y="380.40" width="1.8" height="1.2" fill="#2d5a9a"/>
<rect x="416.60" y="373.90" width="1.8" height="1.2" fill="#c03040"/>
<rect x="433.10" y="397.40" width="1.8" height="1.2" fill="#c03040"/>
<rect x="481.60" y="435.90" width="1.8" height="1.2" fill="#c03040"/>
<rect x="403.10" y="358.00" width="1.8" height="1.2" fill="#c03040"/>
<line x1="450.39" y1="401.67" x2="464.11" y2="381.33" stroke="#111" stroke-width="0.7"/>
<path d="M465.00,380.00 L464.71,382.22 L463.05,381.10 Z" fill="#111" stroke="none" stroke-width="0.6"/>
<path d="M449.50,403.00 L451.45,401.90 L449.79,400.78 Z" fill="#111" stroke="none" stroke-width="0.6"/>
<circle cx="455.50" cy="391.00" r="0.55" fill="#333" stroke="none" stroke-width="0.6"/>
<circle cx="456.70" cy="388.80" r="0.55" fill="#333" stroke="none" stroke-width="0.6"/>
<circle cx="457.90" cy="386.60" r="0.55" fill="#333" stroke="none" stroke-width="0.6"/>
<text x="417.90" y="454.80" font-size="6.29" font-weight="normal" fill="#000" textLength="43.70" lengthAdjust="spacingAndGlyphs" stroke="#000" stroke-width="0.31">Number of cells</text>
<text x="0" y="0" font-size="5.97" font-weight="normal" fill="#000" text-anchor="middle" textLength="72.40" lengthAdjust="spacingAndGlyphs" transform="translate(380.80,398.40) rotate(-90)" stroke="#000" stroke-width="0.30">Log fraction nonresponding</text>
<text x="456.40" y="365.80" font-size="5.30" font-weight="bold" fill="#3b4a9e" textLength="20.70" lengthAdjust="spacingAndGlyphs" stroke="#3b4a9e" stroke-width="0.16">EV CM</text>
<text x="460.40" y="374.30" font-size="5.30" font-weight="bold" fill="#3b4a9e" textLength="14.20" lengthAdjust="spacingAndGlyphs" stroke="#3b4a9e" stroke-width="0.16">1:93</text>
<text x="432.90" y="417.80" font-size="5.30" font-weight="bold" fill="#d0343e" textLength="20.70" lengthAdjust="spacingAndGlyphs" stroke="#d0343e" stroke-width="0.16">OE CM</text>
<text x="436.40" y="426.80" font-size="5.30" font-weight="bold" fill="#d0343e" textLength="13.20" lengthAdjust="spacingAndGlyphs" stroke="#d0343e" stroke-width="0.16">1:25</text>
<text x="3.30" y="375.20" font-size="12.3" font-weight="bold" fill="#000" text-anchor="middle" stroke="none">I</text>
<clipPath id="mclip"><rect x="38.9" y="370.3" width="84.4" height="84.7"/></clipPath>
<radialGradient id="mbg" cx="0.5" cy="0.5" r="0.7"><stop offset="0" stop-color="#5a5a5a"/><stop offset="1" stop-color="#444"/></radialGradient>
<g clip-path="url(#mclip)">
<rect x="38.90" y="370.30" width="84.40" height="84.70" fill="url(#mbg)" stroke="none" stroke-width="0.6"/>
<path d="M46,402 Q44,410 41,414" fill="none" stroke="#9a9a9a" stroke-width="0.9"/>
<ellipse cx="48.50" cy="393.25" rx="5.60" ry="13.25" fill="#cacaca" stroke="none" stroke-width="0.6"/>
<ellipse cx="47.90" cy="392.75" rx="4.20" ry="11.75" fill="#e2e2e2" stroke="none" stroke-width="0.6"/>
<ellipse cx="49.53" cy="378.20" rx="3.00" ry="4.20" fill="#c4c4c4" stroke="none" stroke-width="0.6"/>
<ellipse cx="49.23" cy="378.40" rx="1.90" ry="3.00" fill="#d6d6d6" stroke="none" stroke-width="0.6"/>
<circle cx="46.73" cy="377.00" r="1.10" fill="#bdbdbd" stroke="none" stroke-width="0.6"/>
<circle cx="52.33" cy="377.00" r="1.10" fill="#bdbdbd" stroke="none" stroke-width="0.6"/>
<line x1="44.02" y1="384.00" x2="41.10" y2="382.50" stroke="#b4b4b4" stroke-width="1.1"/>
<line x1="44.58" y1="403.50" x2="41.90" y2="406.30" stroke="#b4b4b4" stroke-width="1.1"/>
<line x1="52.98" y1="384.00" x2="55.90" y2="382.50" stroke="#b4b4b4" stroke-width="1.1"/>
<line x1="52.42" y1="403.50" x2="55.10" y2="406.30" stroke="#b4b4b4" stroke-width="1.1"/>
<ellipse cx="47.50" cy="393.50" rx="4.60" ry="3.40" fill="#2233a8" stroke="none" stroke-width="0.6"/>
<ellipse cx="47.50" cy="393.50" rx="2.85" ry="1.87" fill="#3f66d0" stroke="none" stroke-width="0.6"/>
<ellipse cx="47.90" cy="393.50" rx="1.38" ry="0.95" fill="#2a40b0" stroke="none" stroke-width="0.6"/>
<path d="M61,404 Q58,414 52,423" fill="none" stroke="#9a9a9a" stroke-width="0.9"/>
<ellipse cx="61.20" cy="394.25" rx="5.60" ry="12.25" fill="#cacaca" stroke="none" stroke-width="0.6"/>
<ellipse cx="60.60" cy="393.75" rx="4.20" ry="10.75" fill="#e2e2e2" stroke="none" stroke-width="0.6"/>
<ellipse cx="60.10" cy="380.20" rx="3.00" ry="4.20" fill="#c4c4c4" stroke="none" stroke-width="0.6"/>
<ellipse cx="59.80" cy="380.40" rx="1.90" ry="3.00" fill="#d6d6d6" stroke="none" stroke-width="0.6"/>
<circle cx="57.30" cy="379.00" r="1.10" fill="#bdbdbd" stroke="none" stroke-width="0.6"/>
<circle cx="62.90" cy="379.00" r="1.10" fill="#bdbdbd" stroke="none" stroke-width="0.6"/>
<line x1="56.72" y1="386.00" x2="53.80" y2="384.50" stroke="#b4b4b4" stroke-width="1.1"/>
<line x1="57.28" y1="403.50" x2="54.60" y2="406.30" stroke="#b4b4b4" stroke-width="1.1"/>
<line x1="65.68" y1="386.00" x2="68.60" y2="384.50" stroke="#b4b4b4" stroke-width="1.1"/>
<line x1="65.12" y1="403.50" x2="67.80" y2="406.30" stroke="#b4b4b4" stroke-width="1.1"/>
<ellipse cx="61.20" cy="393.50" rx="5.20" ry="3.20" fill="#2233a8" stroke="none" stroke-width="0.6"/>
<ellipse cx="61.20" cy="393.50" rx="3.22" ry="1.76" fill="#3f66d0" stroke="none" stroke-width="0.6"/>
<ellipse cx="61.60" cy="393.50" rx="1.56" ry="0.90" fill="#2a40b0" stroke="none" stroke-width="0.6"/>
<path d="M74,404 Q73,414 73,423" fill="none" stroke="#9a9a9a" stroke-width="0.9"/>
<ellipse cx="73.40" cy="393.25" rx="5.60" ry="13.25" fill="#cacaca" stroke="none" stroke-width="0.6"/>
<ellipse cx="72.80" cy="392.75" rx="4.20" ry="11.75" fill="#e2e2e2" stroke="none" stroke-width="0.6"/>
<ellipse cx="74.77" cy="378.20" rx="3.00" ry="4.20" fill="#c4c4c4" stroke="none" stroke-width="0.6"/>
<ellipse cx="74.47" cy="378.40" rx="1.90" ry="3.00" fill="#d6d6d6" stroke="none" stroke-width="0.6"/>
<circle cx="71.97" cy="377.00" r="1.10" fill="#bdbdbd" stroke="none" stroke-width="0.6"/>
<circle cx="77.57" cy="377.00" r="1.10" fill="#bdbdbd" stroke="none" stroke-width="0.6"/>
<line x1="68.92" y1="384.00" x2="66.00" y2="382.50" stroke="#b4b4b4" stroke-width="1.1"/>
<line x1="69.48" y1="403.50" x2="66.80" y2="406.30" stroke="#b4b4b4" stroke-width="1.1"/>
<line x1="77.88" y1="384.00" x2="80.80" y2="382.50" stroke="#b4b4b4" stroke-width="1.1"/>
<line x1="77.32" y1="403.50" x2="80.00" y2="406.30" stroke="#b4b4b4" stroke-width="1.1"/>
<ellipse cx="73.40" cy="393.50" rx="4.40" ry="2.80" fill="#2233a8" stroke="none" stroke-width="0.6"/>
<ellipse cx="73.40" cy="393.50" rx="2.73" ry="1.54" fill="#3f66d0" stroke="none" stroke-width="0.6"/>
<ellipse cx="73.80" cy="393.50" rx="1.32" ry="0.78" fill="#2a40b0" stroke="none" stroke-width="0.6"/>
<path d="M86,404 Q88,414 90,423" fill="none" stroke="#9a9a9a" stroke-width="0.9"/>
<ellipse cx="85.40" cy="394.25" rx="5.60" ry="12.25" fill="#cacaca" stroke="none" stroke-width="0.6"/>
<ellipse cx="84.80" cy="393.75" rx="4.20" ry="10.75" fill="#e2e2e2" stroke="none" stroke-width="0.6"/>
<ellipse cx="84.61" cy="380.20" rx="3.00" ry="4.20" fill="#c4c4c4" stroke="none" stroke-width="0.6"/>
<ellipse cx="84.31" cy="380.40" rx="1.90" ry="3.00" fill="#d6d6d6" stroke="none" stroke-width="0.6"/>
<circle cx="81.81" cy="379.00" r="1.10" fill="#bdbdbd" stroke="none" stroke-width="0.6"/>
<circle cx="87.41" cy="379.00" r="1.10" fill="#bdbdbd" stroke="none" stroke-width="0.6"/>
<line x1="80.92" y1="386.00" x2="78.00" y2="384.50" stroke="#b4b4b4" stroke-width="1.1"/>
<line x1="81.48" y1="403.50" x2="78.80" y2="406.30" stroke="#b4b4b4" stroke-width="1.1"/>
<line x1="89.88" y1="386.00" x2="92.80" y2="384.50" stroke="#b4b4b4" stroke-width="1.1"/>
<line x1="89.32" y1="403.50" x2="92.00" y2="406.30" stroke="#b4b4b4" stroke-width="1.1"/>
<ellipse cx="84.40" cy="393.50" rx="3.20" ry="2.40" fill="#2233a8" stroke="none" stroke-width="0.6"/>
<ellipse cx="84.40" cy="393.50" rx="1.98" ry="1.32" fill="#3f66d0" stroke="none" stroke-width="0.6"/>
<ellipse cx="84.80" cy="393.50" rx="0.96" ry="0.67" fill="#2a40b0" stroke="none" stroke-width="0.6"/>
<path d="M98,404 Q96,414 91,422" fill="none" stroke="#9a9a9a" stroke-width="0.9"/>
<ellipse cx="97.60" cy="393.25" rx="5.60" ry="13.25" fill="#cacaca" stroke="none" stroke-width="0.6"/>
<ellipse cx="97.00" cy="392.75" rx="4.20" ry="11.75" fill="#e2e2e2" stroke="none" stroke-width="0.6"/>
<ellipse cx="96.81" cy="378.20" rx="3.00" ry="4.20" fill="#c4c4c4" stroke="none" stroke-width="0.6"/>
<ellipse cx="96.51" cy="378.40" rx="1.90" ry="3.00" fill="#d6d6d6" stroke="none" stroke-width="0.6"/>
<circle cx="94.01" cy="377.00" r="1.10" fill="#bdbdbd" stroke="none" stroke-width="0.6"/>
<circle cx="99.61" cy="377.00" r="1.10" fill="#bdbdbd" stroke="none" stroke-width="0.6"/>
<line x1="93.12" y1="384.00" x2="90.20" y2="382.50" stroke="#b4b4b4" stroke-width="1.1"/>
<line x1="93.68" y1="403.50" x2="91.00" y2="406.30" stroke="#b4b4b4" stroke-width="1.1"/>
<line x1="102.08" y1="384.00" x2="105.00" y2="382.50" stroke="#b4b4b4" stroke-width="1.1"/>
<line x1="101.52" y1="403.50" x2="104.20" y2="406.30" stroke="#b4b4b4" stroke-width="1.1"/>
<ellipse cx="97.60" cy="393.50" rx="4.60" ry="2.40" fill="#2233a8" stroke="none" stroke-width="0.6"/>
<ellipse cx="97.60" cy="393.50" rx="2.85" ry="1.32" fill="#3f66d0" stroke="none" stroke-width="0.6"/>
<ellipse cx="98.00" cy="393.50" rx="1.38" ry="0.67" fill="#2a40b0" stroke="none" stroke-width="0.6"/>
<path d="M110,404 Q110,412 113,418" fill="none" stroke="#9a9a9a" stroke-width="0.9"/>
<ellipse cx="109.40" cy="394.25" rx="5.60" ry="12.25" fill="#cacaca" stroke="none" stroke-width="0.6"/>
<ellipse cx="108.80" cy="393.75" rx="4.20" ry="10.75" fill="#e2e2e2" stroke="none" stroke-width="0.6"/>
<ellipse cx="109.77" cy="380.20" rx="3.00" ry="4.20" fill="#c4c4c4" stroke="none" stroke-width="0.6"/>
<ellipse cx="109.47" cy="380.40" rx="1.90" ry="3.00" fill="#d6d6d6" stroke="none" stroke-width="0.6"/>
<circle cx="106.97" cy="379.00" r="1.10" fill="#bdbdbd" stroke="none" stroke-width="0.6"/>
<circle cx="112.57" cy="379.00" r="1.10" fill="#bdbdbd" stroke="none" stroke-width="0.6"/>
<line x1="104.92" y1="386.00" x2="102.00" y2="384.50" stroke="#b4b4b4" stroke-width="1.1"/>
<line x1="105.48" y1="403.50" x2="102.80" y2="406.30" stroke="#b4b4b4" stroke-width="1.1"/>
<line x1="113.88" y1="386.00" x2="116.80" y2="384.50" stroke="#b4b4b4" stroke-width="1.1"/>
<line x1="113.32" y1="403.50" x2="116.00" y2="406.30" stroke="#b4b4b4" stroke-width="1.1"/>
<ellipse cx="109.40" cy="393.50" rx="2.80" ry="2.20" fill="#2233a8" stroke="none" stroke-width="0.6"/>
<ellipse cx="109.40" cy="393.50" rx="1.74" ry="1.21" fill="#3f66d0" stroke="none" stroke-width="0.6"/>
<ellipse cx="109.80" cy="393.50" rx="0.84" ry="0.62" fill="#2a40b0" stroke="none" stroke-width="0.6"/>
<ellipse cx="49.50" cy="439.75" rx="5.60" ry="14.75" fill="#cacaca" stroke="none" stroke-width="0.6"/>
<ellipse cx="48.90" cy="439.25" rx="4.20" ry="13.25" fill="#e2e2e2" stroke="none" stroke-width="0.6"/>
<ellipse cx="49.71" cy="423.20" rx="3.00" ry="4.20" fill="#c4c4c4" stroke="none" stroke-width="0.6"/>
<ellipse cx="49.41" cy="423.40" rx="1.90" ry="3.00" fill="#d6d6d6" stroke="none" stroke-width="0.6"/>
<circle cx="46.91" cy="422.00" r="1.10" fill="#bdbdbd" stroke="none" stroke-width="0.6"/>
<circle cx="52.51" cy="422.00" r="1.10" fill="#bdbdbd" stroke="none" stroke-width="0.6"/>
<line x1="45.02" y1="429.00" x2="42.10" y2="427.50" stroke="#b4b4b4" stroke-width="1.1"/>
<line x1="45.58" y1="451.50" x2="42.90" y2="454.30" stroke="#b4b4b4" stroke-width="1.1"/>
<line x1="53.98" y1="429.00" x2="56.90" y2="427.50" stroke="#b4b4b4" stroke-width="1.1"/>
<line x1="53.42" y1="451.50" x2="56.10" y2="454.30" stroke="#b4b4b4" stroke-width="1.1"/>
<ellipse cx="49.50" cy="440.00" rx="6.40" ry="5.20" fill="#2233a8" stroke="none" stroke-width="0.6"/>
<ellipse cx="49.50" cy="440.00" rx="4.99" ry="3.74" fill="#3580cc" stroke="none" stroke-width="0.6"/>
<ellipse cx="49.36" cy="440.09" rx="3.20" ry="2.18" fill="#50b8a8" stroke="none" stroke-width="0.6"/>
<ellipse cx="48.91" cy="440.38" rx="1.60" ry="1.14" fill="#80d070" stroke="none" stroke-width="0.6"/>
<ellipse cx="63.50" cy="440.25" rx="5.60" ry="14.25" fill="#cacaca" stroke="none" stroke-width="0.6"/>
<ellipse cx="62.90" cy="439.75" rx="4.20" ry="12.75" fill="#e2e2e2" stroke="none" stroke-width="0.6"/>
<ellipse cx="63.36" cy="424.20" rx="3.00" ry="4.20" fill="#c4c4c4" stroke="none" stroke-width="0.6"/>
<ellipse cx="63.06" cy="424.40" rx="1.90" ry="3.00" fill="#d6d6d6" stroke="none" stroke-width="0.6"/>
<circle cx="60.56" cy="423.00" r="1.10" fill="#bdbdbd" stroke="none" stroke-width="0.6"/>
<circle cx="66.16" cy="423.00" r="1.10" fill="#bdbdbd" stroke="none" stroke-width="0.6"/>
<line x1="59.02" y1="430.00" x2="56.10" y2="428.50" stroke="#b4b4b4" stroke-width="1.1"/>
<line x1="59.58" y1="451.50" x2="56.90" y2="454.30" stroke="#b4b4b4" stroke-width="1.1"/>
<line x1="67.98" y1="430.00" x2="70.90" y2="428.50" stroke="#b4b4b4" stroke-width="1.1"/>
<line x1="67.42" y1="451.50" x2="70.10" y2="454.30" stroke="#b4b4b4" stroke-width="1.1"/>
<ellipse cx="63.50" cy="440.00" rx="5.40" ry="4.40" fill="#2233a8" stroke="none" stroke-width="0.6"/>
<ellipse cx="63.50" cy="440.00" rx="4.21" ry="3.17" fill="#3580cc" stroke="none" stroke-width="0.6"/>
<ellipse cx="63.62" cy="440.51" rx="2.70" ry="1.85" fill="#50b8a8" stroke="none" stroke-width="0.6"/>
<ellipse cx="63.43" cy="440.01" rx="1.35" ry="0.97" fill="#80d070" stroke="none" stroke-width="0.6"/>
<ellipse cx="75.20" cy="439.75" rx="5.60" ry="14.75" fill="#cacaca" stroke="none" stroke-width="0.6"/>
<ellipse cx="74.60" cy="439.25" rx="4.20" ry="13.25" fill="#e2e2e2" stroke="none" stroke-width="0.6"/>
<ellipse cx="75.12" cy="423.20" rx="3.00" ry="4.20" fill="#c4c4c4" stroke="none" stroke-width="0.6"/>
<ellipse cx="74.82" cy="423.40" rx="1.90" ry="3.00" fill="#d6d6d6" stroke="none" stroke-width="0.6"/>
<circle cx="72.32" cy="422.00" r="1.10" fill="#bdbdbd" stroke="none" stroke-width="0.6"/>
<circle cx="77.92" cy="422.00" r="1.10" fill="#bdbdbd" stroke="none" stroke-width="0.6"/>
<line x1="70.72" y1="429.00" x2="67.80" y2="427.50" stroke="#b4b4b4" stroke-width="1.1"/>
<line x1="71.28" y1="451.50" x2="68.60" y2="454.30" stroke="#b4b4b4" stroke-width="1.1"/>
<line x1="79.68" y1="429.00" x2="82.60" y2="427.50" stroke="#b4b4b4" stroke-width="1.1"/>
<line x1="79.12" y1="451.50" x2="81.80" y2="454.30" stroke="#b4b4b4" stroke-width="1.1"/>
<ellipse cx="75.20" cy="440.00" rx="5.80" ry="4.40" fill="#2233a8" stroke="none" stroke-width="0.6"/>
<ellipse cx="75.20" cy="440.00" rx="4.52" ry="3.17" fill="#3580cc" stroke="none" stroke-width="0.6"/>
<ellipse cx="75.51" cy="440.20" rx="2.90" ry="1.85" fill="#50b8a8" stroke="none" stroke-width="0.6"/>
<ellipse cx="74.49" cy="439.41" rx="1.45" ry="0.97" fill="#80d070" stroke="none" stroke-width="0.6"/>
<ellipse cx="87.60" cy="440.25" rx="5.60" ry="14.25" fill="#cacaca" stroke="none" stroke-width="0.6"/>
<ellipse cx="87.00" cy="439.75" rx="4.20" ry="12.75" fill="#e2e2e2" stroke="none" stroke-width="0.6"/>
<ellipse cx="86.88" cy="424.20" rx="3.00" ry="4.20" fill="#c4c4c4" stroke="none" stroke-width="0.6"/>
<ellipse cx="86.58" cy="424.40" rx="1.90" ry="3.00" fill="#d6d6d6" stroke="none" stroke-width="0.6"/>
<circle cx="84.08" cy="423.00" r="1.10" fill="#bdbdbd" stroke="none" stroke-width="0.6"/>
<circle cx="89.68" cy="423.00" r="1.10" fill="#bdbdbd" stroke="none" stroke-width="0.6"/>
<line x1="83.12" y1="430.00" x2="80.20" y2="428.50" stroke="#b4b4b4" stroke-width="1.1"/>
<line x1="83.68" y1="451.50" x2="81.00" y2="454.30" stroke="#b4b4b4" stroke-width="1.1"/>
<line x1="92.08" y1="430.00" x2="95.00" y2="428.50" stroke="#b4b4b4" stroke-width="1.1"/>
<line x1="91.52" y1="451.50" x2="94.20" y2="454.30" stroke="#b4b4b4" stroke-width="1.1"/>
<ellipse cx="87.60" cy="440.00" rx="5.80" ry="5.40" fill="#2233a8" stroke="none" stroke-width="0.6"/>
<ellipse cx="87.60" cy="440.00" rx="4.52" ry="3.89" fill="#3580cc" stroke="none" stroke-width="0.6"/>
<ellipse cx="87.97" cy="440.22" rx="2.90" ry="2.27" fill="#50b8a8" stroke="none" stroke-width="0.6"/>
<ellipse cx="88.30" cy="439.62" rx="1.45" ry="1.19" fill="#80d070" stroke="none" stroke-width="0.6"/>
<ellipse cx="101.50" cy="439.75" rx="5.60" ry="14.75" fill="#cacaca" stroke="none" stroke-width="0.6"/>
<ellipse cx="100.90" cy="439.25" rx="4.20" ry="13.25" fill="#e2e2e2" stroke="none" stroke-width="0.6"/>
<ellipse cx="100.32" cy="423.20" rx="3.00" ry="4.20" fill="#c4c4c4" stroke="none" stroke-width="0.6"/>
<ellipse cx="100.02" cy="423.40" rx="1.90" ry="3.00" fill="#d6d6d6" stroke="none" stroke-width="0.6"/>
<circle cx="97.52" cy="422.00" r="1.10" fill="#bdbdbd" stroke="none" stroke-width="0.6"/>
<circle cx="103.12" cy="422.00" r="1.10" fill="#bdbdbd" stroke="none" stroke-width="0.6"/>
<line x1="97.02" y1="429.00" x2="94.10" y2="427.50" stroke="#b4b4b4" stroke-width="1.1"/>
<line x1="97.58" y1="451.50" x2="94.90" y2="454.30" stroke="#b4b4b4" stroke-width="1.1"/>
<line x1="105.98" y1="429.00" x2="108.90" y2="427.50" stroke="#b4b4b4" stroke-width="1.1"/>
<line x1="105.42" y1="451.50" x2="108.10" y2="454.30" stroke="#b4b4b4" stroke-width="1.1"/>
<ellipse cx="101.50" cy="440.00" rx="5.00" ry="5.00" fill="#2233a8" stroke="none" stroke-width="0.6"/>
<ellipse cx="101.50" cy="440.00" rx="3.90" ry="3.60" fill="#3580cc" stroke="none" stroke-width="0.6"/>
<ellipse cx="101.91" cy="440.18" rx="2.50" ry="2.10" fill="#50b8a8" stroke="none" stroke-width="0.6"/>
<ellipse cx="102.38" cy="439.73" rx="1.25" ry="1.10" fill="#80d070" stroke="none" stroke-width="0.6"/>
<ellipse cx="112.30" cy="440.25" rx="5.60" ry="14.25" fill="#cacaca" stroke="none" stroke-width="0.6"/>
<ellipse cx="111.70" cy="439.75" rx="4.20" ry="12.75" fill="#e2e2e2" stroke="none" stroke-width="0.6"/>
<ellipse cx="113.70" cy="424.20" rx="3.00" ry="4.20" fill="#c4c4c4" stroke="none" stroke-width="0.6"/>
<ellipse cx="113.40" cy="424.40" rx="1.90" ry="3.00" fill="#d6d6d6" stroke="none" stroke-width="0.6"/>
<circle cx="110.90" cy="423.00" r="1.10" fill="#bdbdbd" stroke="none" stroke-width="0.6"/>
<circle cx="116.50" cy="423.00" r="1.10" fill="#bdbdbd" stroke="none" stroke-width="0.6"/>
<line x1="107.82" y1="430.00" x2="104.90" y2="428.50" stroke="#b4b4b4" stroke-width="1.1"/>
<line x1="108.38" y1="451.50" x2="105.70" y2="454.30" stroke="#b4b4b4" stroke-width="1.1"/>
<line x1="116.78" y1="430.00" x2="119.70" y2="428.50" stroke="#b4b4b4" stroke-width="1.1"/>
<line x1="116.22" y1="451.50" x2="118.90" y2="454.30" stroke="#b4b4b4" stroke-width="1.1"/>
<ellipse cx="112.30" cy="440.00" rx="5.20" ry="4.40" fill="#2233a8" stroke="none" stroke-width="0.6"/>
<ellipse cx="112.30" cy="440.00" rx="4.06" ry="3.17" fill="#3580cc" stroke="none" stroke-width="0.6"/>
<ellipse cx="111.32" cy="440.28" rx="2.60" ry="1.85" fill="#50b8a8" stroke="none" stroke-width="0.6"/>
<ellipse cx="111.62" cy="440.58" rx="1.30" ry="0.97" fill="#80d070" stroke="none" stroke-width="0.6"/>
</g>
<text x="15.40" y="396.30" font-size="6.20" font-weight="bold" fill="#000" textLength="18.20" lengthAdjust="spacingAndGlyphs" stroke="#000" stroke-width="0.19">EV CM</text>
<text x="14.40" y="438.30" font-size="6.20" font-weight="bold" fill="#000" textLength="19.20" lengthAdjust="spacingAndGlyphs" stroke="#000" stroke-width="0.19">OE CM</text>
<linearGradient id="cbar" x1="0" y1="0" x2="0" y2="1"><stop offset="0" stop-color="#d42020"/><stop offset="0.2" stop-color="#e8a020"/><stop offset="0.35" stop-color="#d8d830"/><stop offset="0.5" stop-color="#50b040"/><stop offset="0.65" stop-color="#40b0a0"/><stop offset="0.8" stop-color="#3080d0"/><stop offset="1" stop-color="#2030a0"/></linearGradient>
<rect x="128.20" y="368.00" width="1.90" height="90.60" fill="url(#cbar)" stroke="none" stroke-width="0.6"/>
<rect x="127.60" y="407.50" width="24.00" height="7.50" fill="#fff" stroke="none" stroke-width="0.6"/>
<text x="131.8" y="383.80" font-size="5.0" fill="#333" font-weight="bold" textLength="7" lengthAdjust="spacingAndGlyphs" stroke="#333" stroke-width="0.15">0.8</text>
<text x="131.8" y="404.40" font-size="5.0" fill="#333" font-weight="bold" textLength="7" lengthAdjust="spacingAndGlyphs" stroke="#333" stroke-width="0.15">0.6</text>
<text x="131.8" y="425.20" font-size="5.0" fill="#333" font-weight="bold" textLength="7" lengthAdjust="spacingAndGlyphs" stroke="#333" stroke-width="0.15">0.4</text>
<text x="131.8" y="445.80" font-size="5.0" fill="#333" font-weight="bold" textLength="7" lengthAdjust="spacingAndGlyphs" stroke="#333" stroke-width="0.15">0.2</text>
<text x="115.3" y="414.4" font-size="3.6" fill="#444" textLength="26" lengthAdjust="spacingAndGlyphs" stroke="#444" stroke-width="0.18">Luminescence</text>
<text x="141.5" y="414.4" font-size="3.4" fill="#444" stroke="#444" stroke-width="0.17">×10<tspan font-size="2.4" dy="-1.2">7</tspan></text>
<text x="129" y="366.2" font-size="2" fill="#999" stroke="#999" stroke-width="0.10">Min</text>
<text x="145.3" y="436.6" font-size="3.2" fill="#444" textLength="11" lengthAdjust="spacingAndGlyphs" stroke="#444" stroke-width="0.16">Radiance</text>
<text x="145.3" y="440.2" font-size="2.8" fill="#555" textLength="16" lengthAdjust="spacingAndGlyphs" stroke="#555" stroke-width="0.14">(p/sec/cm²/sr)</text>
<rect x="146.00" y="444.50" width="22.00" height="12.00" fill="none" stroke="#555" stroke-width="0.5"/>
<text x="147" y="448.2" font-size="2.8" fill="#444" textLength="12" lengthAdjust="spacingAndGlyphs" stroke="#444" stroke-width="0.14">Color scale</text>
<text x="147" y="451.6" font-size="2.8" fill="#444" textLength="18" lengthAdjust="spacingAndGlyphs" stroke="#444" stroke-width="0.14">Min = 5.20e7</text>
<text x="147" y="455.0" font-size="2.8" fill="#444" textLength="18" lengthAdjust="spacingAndGlyphs" stroke="#444" stroke-width="0.14">Max = 1.40e8</text>
<rect x="179.60" y="381.80" width="147.70" height="60.20" fill="#d0d4d4" stroke="#3a3a3a" stroke-width="0.9"/>
<ellipse cx="192.00" cy="396.50" rx="7.88" ry="7.12" fill="#de4a42" stroke="none" stroke-width="0.6"/>
<circle cx="196.84" cy="393.55" r="5.73" fill="#de4a42" stroke="none" stroke-width="0.6"/>
<circle cx="195.71" cy="394.21" r="5.48" fill="#de4a42" stroke="none" stroke-width="0.6"/>
<circle cx="197.31" cy="393.23" r="5.36" fill="#de4a42" stroke="none" stroke-width="0.6"/>
<circle cx="194.41" cy="400.43" r="6.16" fill="#de4a42" stroke="none" stroke-width="0.6"/>
<circle cx="195.73" cy="399.06" r="6.08" fill="#de4a42" stroke="none" stroke-width="0.6"/>
<circle cx="187.88" cy="397.73" r="4.88" fill="#de4a42" stroke="none" stroke-width="0.6"/>
<circle cx="195.97" cy="394.17" r="5.09" fill="#de4a42" stroke="none" stroke-width="0.6"/>
<circle cx="190.47" cy="399.95" r="5.23" fill="#4a0e16" stroke="none" stroke-width="0.6" opacity="0.9"/>
<circle cx="188.81" cy="397.36" r="4.56" fill="#4a0e16" stroke="none" stroke-width="0.6" opacity="0.9"/>
<circle cx="188.29" cy="398.00" r="3.90" fill="#4a0e16" stroke="none" stroke-width="0.6" opacity="0.9"/>
<circle cx="184.83" cy="399.59" r="3.23" fill="#4a0e16" stroke="none" stroke-width="0.6" opacity="0.9"/>
<circle cx="194.44" cy="394.03" r="1.90" fill="#b8303a" stroke="none" stroke-width="0.6" opacity="0.6"/>
<circle cx="194.40" cy="392.66" r="1.90" fill="#b8303a" stroke="none" stroke-width="0.6" opacity="0.6"/>
<circle cx="187.18" cy="391.07" r="1.90" fill="#b8303a" stroke="none" stroke-width="0.6" opacity="0.6"/>
<circle cx="194.59" cy="400.59" r="1.90" fill="#b8303a" stroke="none" stroke-width="0.6" opacity="0.6"/>
<circle cx="190.36" cy="391.80" r="1.62" fill="#f4847a" stroke="none" stroke-width="0.6" opacity="0.7"/>
<circle cx="187.75" cy="396.44" r="1.62" fill="#f4847a" stroke="none" stroke-width="0.6" opacity="0.7"/>
<circle cx="191.38" cy="390.65" r="1.62" fill="#f4847a" stroke="none" stroke-width="0.6" opacity="0.7"/>
<circle cx="195.74" cy="395.93" r="1.62" fill="#f4847a" stroke="none" stroke-width="0.6" opacity="0.7"/>
<circle cx="193.23" cy="390.83" r="1.62" fill="#f4847a" stroke="none" stroke-width="0.6" opacity="0.7"/>
<circle cx="195.64" cy="395.42" r="1.62" fill="#f4847a" stroke="none" stroke-width="0.6" opacity="0.7"/>
<ellipse cx="221.00" cy="396.50" rx="5.62" ry="6.38" fill="#de4a42" stroke="none" stroke-width="0.6"/>
<circle cx="223.13" cy="400.57" r="4.33" fill="#de4a42" stroke="none" stroke-width="0.6"/>
<circle cx="217.92" cy="396.96" r="4.56" fill="#de4a42" stroke="none" stroke-width="0.6"/>
<circle cx="222.34" cy="392.50" r="4.13" fill="#de4a42" stroke="none" stroke-width="0.6"/>
<circle cx="221.23" cy="399.47" r="3.93" fill="#de4a42" stroke="none" stroke-width="0.6"/>
<circle cx="218.61" cy="394.89" r="4.57" fill="#de4a42" stroke="none" stroke-width="0.6"/>
<circle cx="221.35" cy="400.05" r="3.44" fill="#de4a42" stroke="none" stroke-width="0.6"/>
<circle cx="225.29" cy="396.42" r="4.69" fill="#de4a42" stroke="none" stroke-width="0.6"/>
<circle cx="222.75" cy="394.82" r="4.12" fill="#4a0e16" stroke="none" stroke-width="0.6" opacity="0.9"/>
<circle cx="222.23" cy="396.91" r="3.60" fill="#4a0e16" stroke="none" stroke-width="0.6" opacity="0.9"/>
<circle cx="222.00" cy="398.97" r="3.08" fill="#4a0e16" stroke="none" stroke-width="0.6" opacity="0.9"/>
<circle cx="223.51" cy="395.71" r="2.55" fill="#4a0e16" stroke="none" stroke-width="0.6" opacity="0.9"/>
<circle cx="223.86" cy="392.67" r="1.50" fill="#b8303a" stroke="none" stroke-width="0.6" opacity="0.6"/>
<circle cx="224.85" cy="396.02" r="1.50" fill="#b8303a" stroke="none" stroke-width="0.6" opacity="0.6"/>
<circle cx="221.47" cy="394.90" r="1.50" fill="#b8303a" stroke="none" stroke-width="0.6" opacity="0.6"/>
<circle cx="220.86" cy="393.31" r="1.50" fill="#b8303a" stroke="none" stroke-width="0.6" opacity="0.6"/>
<circle cx="215.71" cy="399.98" r="1.28" fill="#f4847a" stroke="none" stroke-width="0.6" opacity="0.7"/>
<circle cx="217.49" cy="399.10" r="1.28" fill="#f4847a" stroke="none" stroke-width="0.6" opacity="0.7"/>
<circle cx="217.25" cy="401.03" r="1.28" fill="#f4847a" stroke="none" stroke-width="0.6" opacity="0.7"/>
<circle cx="223.42" cy="398.84" r="1.28" fill="#f4847a" stroke="none" stroke-width="0.6" opacity="0.7"/>
<circle cx="222.24" cy="397.07" r="1.28" fill="#f4847a" stroke="none" stroke-width="0.6" opacity="0.7"/>
<circle cx="221.94" cy="392.39" r="1.28" fill="#f4847a" stroke="none" stroke-width="0.6" opacity="0.7"/>
<ellipse cx="248.00" cy="396.50" rx="6.00" ry="6.38" fill="#de4a42" stroke="none" stroke-width="0.6"/>
<circle cx="251.03" cy="395.63" r="3.64" fill="#de4a42" stroke="none" stroke-width="0.6"/>
<circle cx="251.24" cy="396.47" r="3.79" fill="#de4a42" stroke="none" stroke-width="0.6"/>
<circle cx="245.89" cy="393.36" r="5.02" fill="#de4a42" stroke="none" stroke-width="0.6"/>
<circle cx="248.58" cy="401.89" r="4.11" fill="#de4a42" stroke="none" stroke-width="0.6"/>
<circle cx="243.95" cy="393.32" r="4.70" fill="#de4a42" stroke="none" stroke-width="0.6"/>
<circle cx="251.99" cy="394.30" r="3.68" fill="#de4a42" stroke="none" stroke-width="0.6"/>
<circle cx="251.10" cy="393.46" r="4.10" fill="#de4a42" stroke="none" stroke-width="0.6"/>
<circle cx="245.08" cy="396.80" r="4.40" fill="#4a0e16" stroke="none" stroke-width="0.6" opacity="0.9"/>
<circle cx="245.93" cy="396.66" r="3.84" fill="#4a0e16" stroke="none" stroke-width="0.6" opacity="0.9"/>
<circle cx="245.98" cy="396.25" r="3.28" fill="#4a0e16" stroke="none" stroke-width="0.6" opacity="0.9"/>
<circle cx="244.43" cy="394.62" r="2.72" fill="#4a0e16" stroke="none" stroke-width="0.6" opacity="0.9"/>
<circle cx="249.08" cy="394.04" r="1.60" fill="#b8303a" stroke="none" stroke-width="0.6" opacity="0.6"/>
<circle cx="252.38" cy="394.59" r="1.60" fill="#b8303a" stroke="none" stroke-width="0.6" opacity="0.6"/>
<circle cx="250.70" cy="401.14" r="1.60" fill="#b8303a" stroke="none" stroke-width="0.6" opacity="0.6"/>
<circle cx="249.45" cy="392.85" r="1.60" fill="#b8303a" stroke="none" stroke-width="0.6" opacity="0.6"/>
<circle cx="252.56" cy="399.23" r="1.36" fill="#f4847a" stroke="none" stroke-width="0.6" opacity="0.7"/>
<circle cx="246.42" cy="392.92" r="1.36" fill="#f4847a" stroke="none" stroke-width="0.6" opacity="0.7"/>
<circle cx="249.75" cy="392.75" r="1.36" fill="#f4847a" stroke="none" stroke-width="0.6" opacity="0.7"/>
<circle cx="253.52" cy="397.58" r="1.36" fill="#f4847a" stroke="none" stroke-width="0.6" opacity="0.7"/>
<circle cx="249.61" cy="396.60" r="1.36" fill="#f4847a" stroke="none" stroke-width="0.6" opacity="0.7"/>
<circle cx="250.99" cy="401.77" r="1.36" fill="#f4847a" stroke="none" stroke-width="0.6" opacity="0.7"/>
<ellipse cx="274.00" cy="396.50" rx="5.62" ry="6.00" fill="#de4a42" stroke="none" stroke-width="0.6"/>
<circle cx="278.24" cy="394.19" r="4.71" fill="#de4a42" stroke="none" stroke-width="0.6"/>
<circle cx="277.42" cy="398.62" r="4.01" fill="#de4a42" stroke="none" stroke-width="0.6"/>
<circle cx="271.13" cy="395.92" r="3.66" fill="#de4a42" stroke="none" stroke-width="0.6"/>
<circle cx="271.07" cy="397.64" r="4.06" fill="#de4a42" stroke="none" stroke-width="0.6"/>
<circle cx="276.78" cy="396.97" r="4.44" fill="#de4a42" stroke="none" stroke-width="0.6"/>
<circle cx="270.67" cy="398.41" r="4.48" fill="#de4a42" stroke="none" stroke-width="0.6"/>
<circle cx="272.26" cy="398.78" r="4.55" fill="#de4a42" stroke="none" stroke-width="0.6"/>
<circle cx="274.33" cy="399.09" r="4.12" fill="#4a0e16" stroke="none" stroke-width="0.6" opacity="0.9"/>
<circle cx="274.45" cy="401.18" r="3.60" fill="#4a0e16" stroke="none" stroke-width="0.6" opacity="0.9"/>
<circle cx="273.49" cy="401.18" r="3.08" fill="#4a0e16" stroke="none" stroke-width="0.6" opacity="0.9"/>
<circle cx="273.51" cy="401.27" r="2.55" fill="#4a0e16" stroke="none" stroke-width="0.6" opacity="0.9"/>
<circle cx="275.44" cy="394.72" r="1.50" fill="#b8303a" stroke="none" stroke-width="0.6" opacity="0.6"/>
<circle cx="270.27" cy="396.25" r="1.50" fill="#b8303a" stroke="none" stroke-width="0.6" opacity="0.6"/>
<circle cx="275.96" cy="397.37" r="1.50" fill="#b8303a" stroke="none" stroke-width="0.6" opacity="0.6"/>
<circle cx="273.53" cy="397.87" r="1.50" fill="#b8303a" stroke="none" stroke-width="0.6" opacity="0.6"/>
<circle cx="271.14" cy="391.73" r="1.28" fill="#f4847a" stroke="none" stroke-width="0.6" opacity="0.7"/>
<circle cx="272.41" cy="397.85" r="1.28" fill="#f4847a" stroke="none" stroke-width="0.6" opacity="0.7"/>
<circle cx="271.26" cy="391.12" r="1.28" fill="#f4847a" stroke="none" stroke-width="0.6" opacity="0.7"/>
<circle cx="270.39" cy="390.39" r="1.28" fill="#f4847a" stroke="none" stroke-width="0.6" opacity="0.7"/>
<circle cx="271.98" cy="395.52" r="1.28" fill="#f4847a" stroke="none" stroke-width="0.6" opacity="0.7"/>
<circle cx="276.89" cy="393.20" r="1.28" fill="#f4847a" stroke="none" stroke-width="0.6" opacity="0.7"/>
<ellipse cx="296.50" cy="396.50" rx="4.88" ry="6.00" fill="#de4a42" stroke="none" stroke-width="0.6"/>
<circle cx="295.58" cy="391.82" r="3.16" fill="#de4a42" stroke="none" stroke-width="0.6"/>
<circle cx="299.15" cy="396.46" r="3.80" fill="#de4a42" stroke="none" stroke-width="0.6"/>
<circle cx="299.65" cy="399.02" r="3.12" fill="#de4a42" stroke="none" stroke-width="0.6"/>
<circle cx="295.51" cy="392.13" r="3.92" fill="#de4a42" stroke="none" stroke-width="0.6"/>
<circle cx="292.80" cy="398.26" r="4.21" fill="#de4a42" stroke="none" stroke-width="0.6"/>
<circle cx="298.95" cy="399.18" r="4.17" fill="#de4a42" stroke="none" stroke-width="0.6"/>
<circle cx="296.29" cy="392.64" r="3.32" fill="#de4a42" stroke="none" stroke-width="0.6"/>
<circle cx="298.88" cy="393.44" r="3.58" fill="#4a0e16" stroke="none" stroke-width="0.6" opacity="0.9"/>
<circle cx="298.65" cy="395.87" r="3.12" fill="#4a0e16" stroke="none" stroke-width="0.6" opacity="0.9"/>
<circle cx="297.08" cy="393.21" r="2.67" fill="#4a0e16" stroke="none" stroke-width="0.6" opacity="0.9"/>
<circle cx="297.95" cy="393.47" r="2.21" fill="#4a0e16" stroke="none" stroke-width="0.6" opacity="0.9"/>
<circle cx="295.46" cy="400.28" r="1.30" fill="#b8303a" stroke="none" stroke-width="0.6" opacity="0.6"/>
<circle cx="299.81" cy="394.74" r="1.30" fill="#b8303a" stroke="none" stroke-width="0.6" opacity="0.6"/>
<circle cx="299.58" cy="392.37" r="1.30" fill="#b8303a" stroke="none" stroke-width="0.6" opacity="0.6"/>
<circle cx="293.36" cy="398.09" r="1.30" fill="#b8303a" stroke="none" stroke-width="0.6" opacity="0.6"/>
<circle cx="298.05" cy="400.76" r="1.10" fill="#f4847a" stroke="none" stroke-width="0.6" opacity="0.7"/>
<circle cx="299.56" cy="401.15" r="1.10" fill="#f4847a" stroke="none" stroke-width="0.6" opacity="0.7"/>
<circle cx="293.90" cy="400.03" r="1.10" fill="#f4847a" stroke="none" stroke-width="0.6" opacity="0.7"/>
<circle cx="299.03" cy="393.80" r="1.10" fill="#f4847a" stroke="none" stroke-width="0.6" opacity="0.7"/>
<circle cx="295.68" cy="394.38" r="1.10" fill="#f4847a" stroke="none" stroke-width="0.6" opacity="0.7"/>
<circle cx="292.94" cy="397.50" r="1.10" fill="#f4847a" stroke="none" stroke-width="0.6" opacity="0.7"/>
<ellipse cx="316.00" cy="396.50" rx="4.88" ry="7.12" fill="#de4a42" stroke="none" stroke-width="0.6"/>
<circle cx="313.08" cy="400.67" r="4.02" fill="#de4a42" stroke="none" stroke-width="0.6"/>
<circle cx="316.89" cy="402.16" r="3.75" fill="#de4a42" stroke="none" stroke-width="0.6"/>
<circle cx="319.99" cy="398.09" r="3.26" fill="#de4a42" stroke="none" stroke-width="0.6"/>
<circle cx="314.93" cy="400.76" r="3.69" fill="#de4a42" stroke="none" stroke-width="0.6"/>
<circle cx="318.57" cy="400.22" r="4.01" fill="#de4a42" stroke="none" stroke-width="0.6"/>
<circle cx="312.19" cy="396.07" r="3.74" fill="#de4a42" stroke="none" stroke-width="0.6"/>
<circle cx="317.19" cy="393.08" r="3.39" fill="#de4a42" stroke="none" stroke-width="0.6"/>
<circle cx="315.90" cy="392.29" r="3.58" fill="#4a0e16" stroke="none" stroke-width="0.6" opacity="0.9"/>
<circle cx="317.54" cy="393.82" r="3.12" fill="#4a0e16" stroke="none" stroke-width="0.6" opacity="0.9"/>
<circle cx="314.69" cy="392.57" r="2.67" fill="#4a0e16" stroke="none" stroke-width="0.6" opacity="0.9"/>
<circle cx="315.72" cy="389.70" r="2.21" fill="#4a0e16" stroke="none" stroke-width="0.6" opacity="0.9"/>
<circle cx="313.36" cy="396.05" r="1.30" fill="#b8303a" stroke="none" stroke-width="0.6" opacity="0.6"/>
<circle cx="312.65" cy="397.22" r="1.30" fill="#b8303a" stroke="none" stroke-width="0.6" opacity="0.6"/>
<circle cx="316.12" cy="392.25" r="1.30" fill="#b8303a" stroke="none" stroke-width="0.6" opacity="0.6"/>
<circle cx="318.93" cy="391.26" r="1.30" fill="#b8303a" stroke="none" stroke-width="0.6" opacity="0.6"/>
<circle cx="313.44" cy="402.11" r="1.10" fill="#f4847a" stroke="none" stroke-width="0.6" opacity="0.7"/>
<circle cx="313.82" cy="397.63" r="1.10" fill="#f4847a" stroke="none" stroke-width="0.6" opacity="0.7"/>
<circle cx="316.46" cy="397.76" r="1.10" fill="#f4847a" stroke="none" stroke-width="0.6" opacity="0.7"/>
<circle cx="315.95" cy="398.55" r="1.10" fill="#f4847a" stroke="none" stroke-width="0.6" opacity="0.7"/>
<circle cx="315.87" cy="393.45" r="1.10" fill="#f4847a" stroke="none" stroke-width="0.6" opacity="0.7"/>
<circle cx="318.47" cy="396.02" r="1.10" fill="#f4847a" stroke="none" stroke-width="0.6" opacity="0.7"/>
<ellipse cx="195.00" cy="424.50" rx="7.50" ry="6.75" fill="#de4a42" stroke="none" stroke-width="0.6"/>
<circle cx="189.07" cy="425.92" r="4.11" fill="#de4a42" stroke="none" stroke-width="0.6"/>
<circle cx="193.71" cy="430.13" r="5.25" fill="#de4a42" stroke="none" stroke-width="0.6"/>
<circle cx="198.15" cy="427.45" r="5.63" fill="#de4a42" stroke="none" stroke-width="0.6"/>
<circle cx="191.66" cy="425.67" r="5.66" fill="#de4a42" stroke="none" stroke-width="0.6"/>
<circle cx="198.72" cy="428.06" r="5.17" fill="#de4a42" stroke="none" stroke-width="0.6"/>
<circle cx="188.81" cy="425.91" r="4.37" fill="#de4a42" stroke="none" stroke-width="0.6"/>
<circle cx="191.96" cy="422.39" r="5.79" fill="#de4a42" stroke="none" stroke-width="0.6"/>
<circle cx="191.47" cy="422.98" r="4.95" fill="#4a0e16" stroke="none" stroke-width="0.6" opacity="0.9"/>
<circle cx="194.16" cy="423.97" r="4.32" fill="#4a0e16" stroke="none" stroke-width="0.6" opacity="0.9"/>
<circle cx="189.74" cy="423.27" r="3.69" fill="#4a0e16" stroke="none" stroke-width="0.6" opacity="0.9"/>
<circle cx="192.71" cy="420.07" r="3.06" fill="#4a0e16" stroke="none" stroke-width="0.6" opacity="0.9"/>
<circle cx="198.08" cy="421.55" r="1.80" fill="#b8303a" stroke="none" stroke-width="0.6" opacity="0.6"/>
<circle cx="190.85" cy="420.86" r="1.80" fill="#b8303a" stroke="none" stroke-width="0.6" opacity="0.6"/>
<circle cx="192.70" cy="428.02" r="1.80" fill="#b8303a" stroke="none" stroke-width="0.6" opacity="0.6"/>
<circle cx="194.54" cy="429.78" r="1.80" fill="#b8303a" stroke="none" stroke-width="0.6" opacity="0.6"/>
<circle cx="201.23" cy="422.72" r="1.53" fill="#f4847a" stroke="none" stroke-width="0.6" opacity="0.7"/>
<circle cx="195.70" cy="421.15" r="1.53" fill="#f4847a" stroke="none" stroke-width="0.6" opacity="0.7"/>
<circle cx="197.50" cy="427.03" r="1.53" fill="#f4847a" stroke="none" stroke-width="0.6" opacity="0.7"/>
<circle cx="197.52" cy="421.41" r="1.53" fill="#f4847a" stroke="none" stroke-width="0.6" opacity="0.7"/>
<circle cx="197.84" cy="421.66" r="1.53" fill="#f4847a" stroke="none" stroke-width="0.6" opacity="0.7"/>
<circle cx="200.59" cy="425.43" r="1.53" fill="#f4847a" stroke="none" stroke-width="0.6" opacity="0.7"/>
<ellipse cx="222.70" cy="424.50" rx="6.38" ry="6.75" fill="#de4a42" stroke="none" stroke-width="0.6"/>
<circle cx="220.09" cy="427.07" r="4.11" fill="#de4a42" stroke="none" stroke-width="0.6"/>
<circle cx="226.51" cy="422.07" r="5.00" fill="#de4a42" stroke="none" stroke-width="0.6"/>
<circle cx="218.96" cy="423.13" r="5.07" fill="#de4a42" stroke="none" stroke-width="0.6"/>
<circle cx="218.29" cy="422.07" r="4.95" fill="#de4a42" stroke="none" stroke-width="0.6"/>
<circle cx="224.88" cy="420.83" r="4.09" fill="#de4a42" stroke="none" stroke-width="0.6"/>
<circle cx="225.54" cy="428.62" r="4.11" fill="#de4a42" stroke="none" stroke-width="0.6"/>
<circle cx="220.13" cy="420.51" r="3.93" fill="#de4a42" stroke="none" stroke-width="0.6"/>
<circle cx="223.91" cy="424.60" r="4.68" fill="#4a0e16" stroke="none" stroke-width="0.6" opacity="0.9"/>
<circle cx="224.26" cy="429.18" r="4.08" fill="#4a0e16" stroke="none" stroke-width="0.6" opacity="0.9"/>
<circle cx="221.49" cy="429.61" r="3.49" fill="#4a0e16" stroke="none" stroke-width="0.6" opacity="0.9"/>
<circle cx="223.69" cy="427.85" r="2.89" fill="#4a0e16" stroke="none" stroke-width="0.6" opacity="0.9"/>
<circle cx="224.43" cy="420.44" r="1.70" fill="#b8303a" stroke="none" stroke-width="0.6" opacity="0.6"/>
<circle cx="226.91" cy="426.54" r="1.70" fill="#b8303a" stroke="none" stroke-width="0.6" opacity="0.6"/>
<circle cx="227.60" cy="419.68" r="1.70" fill="#b8303a" stroke="none" stroke-width="0.6" opacity="0.6"/>
<circle cx="220.84" cy="425.79" r="1.70" fill="#b8303a" stroke="none" stroke-width="0.6" opacity="0.6"/>
<circle cx="223.80" cy="419.18" r="1.45" fill="#f4847a" stroke="none" stroke-width="0.6" opacity="0.7"/>
<circle cx="226.66" cy="426.35" r="1.45" fill="#f4847a" stroke="none" stroke-width="0.6" opacity="0.7"/>
<circle cx="220.67" cy="418.79" r="1.45" fill="#f4847a" stroke="none" stroke-width="0.6" opacity="0.7"/>
<circle cx="224.41" cy="421.61" r="1.45" fill="#f4847a" stroke="none" stroke-width="0.6" opacity="0.7"/>
<circle cx="224.37" cy="422.54" r="1.45" fill="#f4847a" stroke="none" stroke-width="0.6" opacity="0.7"/>
<circle cx="221.63" cy="417.44" r="1.45" fill="#f4847a" stroke="none" stroke-width="0.6" opacity="0.7"/>
<ellipse cx="245.00" cy="424.50" rx="5.25" ry="6.38" fill="#de4a42" stroke="none" stroke-width="0.6"/>
<circle cx="243.40" cy="422.17" r="3.54" fill="#de4a42" stroke="none" stroke-width="0.6"/>
<circle cx="245.67" cy="429.28" r="4.10" fill="#de4a42" stroke="none" stroke-width="0.6"/>
<circle cx="247.05" cy="422.50" r="3.74" fill="#de4a42" stroke="none" stroke-width="0.6"/>
<circle cx="247.86" cy="425.16" r="3.86" fill="#de4a42" stroke="none" stroke-width="0.6"/>
<circle cx="247.83" cy="425.08" r="4.06" fill="#de4a42" stroke="none" stroke-width="0.6"/>
<circle cx="242.20" cy="423.51" r="3.97" fill="#de4a42" stroke="none" stroke-width="0.6"/>
<circle cx="245.90" cy="421.71" r="4.28" fill="#de4a42" stroke="none" stroke-width="0.6"/>
<circle cx="245.69" cy="425.90" r="3.85" fill="#4a0e16" stroke="none" stroke-width="0.6" opacity="0.9"/>
<circle cx="243.79" cy="429.42" r="3.36" fill="#4a0e16" stroke="none" stroke-width="0.6" opacity="0.9"/>
<circle cx="244.43" cy="426.64" r="2.87" fill="#4a0e16" stroke="none" stroke-width="0.6" opacity="0.9"/>
<circle cx="243.59" cy="430.74" r="2.38" fill="#4a0e16" stroke="none" stroke-width="0.6" opacity="0.9"/>
<circle cx="245.87" cy="427.63" r="1.40" fill="#b8303a" stroke="none" stroke-width="0.6" opacity="0.6"/>
<circle cx="246.93" cy="424.87" r="1.40" fill="#b8303a" stroke="none" stroke-width="0.6" opacity="0.6"/>
<circle cx="248.97" cy="423.26" r="1.40" fill="#b8303a" stroke="none" stroke-width="0.6" opacity="0.6"/>
<circle cx="245.44" cy="427.86" r="1.40" fill="#b8303a" stroke="none" stroke-width="0.6" opacity="0.6"/>
<circle cx="246.00" cy="426.40" r="1.19" fill="#f4847a" stroke="none" stroke-width="0.6" opacity="0.7"/>
<circle cx="245.65" cy="424.80" r="1.19" fill="#f4847a" stroke="none" stroke-width="0.6" opacity="0.7"/>
<circle cx="241.18" cy="419.94" r="1.19" fill="#f4847a" stroke="none" stroke-width="0.6" opacity="0.7"/>
<circle cx="243.23" cy="418.43" r="1.19" fill="#f4847a" stroke="none" stroke-width="0.6" opacity="0.7"/>
<circle cx="242.76" cy="418.65" r="1.19" fill="#f4847a" stroke="none" stroke-width="0.6" opacity="0.7"/>
<circle cx="243.13" cy="424.10" r="1.19" fill="#f4847a" stroke="none" stroke-width="0.6" opacity="0.7"/>
<ellipse cx="267.00" cy="424.50" rx="6.00" ry="6.00" fill="#de4a42" stroke="none" stroke-width="0.6"/>
<circle cx="271.34" cy="425.57" r="3.83" fill="#de4a42" stroke="none" stroke-width="0.6"/>
<circle cx="262.71" cy="425.53" r="4.87" fill="#de4a42" stroke="none" stroke-width="0.6"/>
<circle cx="263.18" cy="425.66" r="3.63" fill="#de4a42" stroke="none" stroke-width="0.6"/>
<circle cx="263.63" cy="426.02" r="4.96" fill="#de4a42" stroke="none" stroke-width="0.6"/>
<circle cx="262.59" cy="423.16" r="4.29" fill="#de4a42" stroke="none" stroke-width="0.6"/>
<circle cx="269.17" cy="428.83" r="4.91" fill="#de4a42" stroke="none" stroke-width="0.6"/>
<circle cx="264.85" cy="426.63" r="4.42" fill="#de4a42" stroke="none" stroke-width="0.6"/>
<circle cx="265.02" cy="425.59" r="4.40" fill="#4a0e16" stroke="none" stroke-width="0.6" opacity="0.9"/>
<circle cx="264.59" cy="424.53" r="3.84" fill="#4a0e16" stroke="none" stroke-width="0.6" opacity="0.9"/>
<circle cx="263.66" cy="424.01" r="3.28" fill="#4a0e16" stroke="none" stroke-width="0.6" opacity="0.9"/>
<circle cx="260.72" cy="422.74" r="2.72" fill="#4a0e16" stroke="none" stroke-width="0.6" opacity="0.9"/>
<circle cx="271.24" cy="427.76" r="1.60" fill="#b8303a" stroke="none" stroke-width="0.6" opacity="0.6"/>
<circle cx="265.04" cy="428.23" r="1.60" fill="#b8303a" stroke="none" stroke-width="0.6" opacity="0.6"/>
<circle cx="267.21" cy="420.69" r="1.60" fill="#b8303a" stroke="none" stroke-width="0.6" opacity="0.6"/>
<circle cx="270.41" cy="425.31" r="1.60" fill="#b8303a" stroke="none" stroke-width="0.6" opacity="0.6"/>
<circle cx="272.83" cy="426.22" r="1.36" fill="#f4847a" stroke="none" stroke-width="0.6" opacity="0.7"/>
<circle cx="264.78" cy="425.68" r="1.36" fill="#f4847a" stroke="none" stroke-width="0.6" opacity="0.7"/>
<circle cx="271.43" cy="428.33" r="1.36" fill="#f4847a" stroke="none" stroke-width="0.6" opacity="0.7"/>
<circle cx="267.06" cy="424.78" r="1.36" fill="#f4847a" stroke="none" stroke-width="0.6" opacity="0.7"/>
<circle cx="270.61" cy="421.30" r="1.36" fill="#f4847a" stroke="none" stroke-width="0.6" opacity="0.7"/>
<circle cx="272.02" cy="427.20" r="1.36" fill="#f4847a" stroke="none" stroke-width="0.6" opacity="0.7"/>
<ellipse cx="295.00" cy="424.50" rx="5.25" ry="7.12" fill="#de4a42" stroke="none" stroke-width="0.6"/>
<circle cx="291.99" cy="427.15" r="4.36" fill="#de4a42" stroke="none" stroke-width="0.6"/>
<circle cx="296.30" cy="428.05" r="3.19" fill="#de4a42" stroke="none" stroke-width="0.6"/>
<circle cx="296.83" cy="426.74" r="3.37" fill="#de4a42" stroke="none" stroke-width="0.6"/>
<circle cx="290.49" cy="423.97" r="4.12" fill="#de4a42" stroke="none" stroke-width="0.6"/>
<circle cx="292.62" cy="427.60" r="4.12" fill="#de4a42" stroke="none" stroke-width="0.6"/>
<circle cx="293.80" cy="427.64" r="4.33" fill="#de4a42" stroke="none" stroke-width="0.6"/>
<circle cx="293.01" cy="422.05" r="3.25" fill="#de4a42" stroke="none" stroke-width="0.6"/>
<circle cx="294.07" cy="429.01" r="3.85" fill="#4a0e16" stroke="none" stroke-width="0.6" opacity="0.9"/>
<circle cx="294.33" cy="428.42" r="3.36" fill="#4a0e16" stroke="none" stroke-width="0.6" opacity="0.9"/>
<circle cx="297.55" cy="426.61" r="2.87" fill="#4a0e16" stroke="none" stroke-width="0.6" opacity="0.9"/>
<circle cx="295.72" cy="429.71" r="2.38" fill="#4a0e16" stroke="none" stroke-width="0.6" opacity="0.9"/>
<circle cx="298.50" cy="420.95" r="1.40" fill="#b8303a" stroke="none" stroke-width="0.6" opacity="0.6"/>
<circle cx="292.97" cy="421.63" r="1.40" fill="#b8303a" stroke="none" stroke-width="0.6" opacity="0.6"/>
<circle cx="291.21" cy="426.48" r="1.40" fill="#b8303a" stroke="none" stroke-width="0.6" opacity="0.6"/>
<circle cx="297.66" cy="423.77" r="1.40" fill="#b8303a" stroke="none" stroke-width="0.6" opacity="0.6"/>
<circle cx="290.70" cy="424.94" r="1.19" fill="#f4847a" stroke="none" stroke-width="0.6" opacity="0.7"/>
<circle cx="296.57" cy="424.25" r="1.19" fill="#f4847a" stroke="none" stroke-width="0.6" opacity="0.7"/>
<circle cx="293.14" cy="426.27" r="1.19" fill="#f4847a" stroke="none" stroke-width="0.6" opacity="0.7"/>
<circle cx="295.68" cy="423.53" r="1.19" fill="#f4847a" stroke="none" stroke-width="0.6" opacity="0.7"/>
<circle cx="294.92" cy="419.46" r="1.19" fill="#f4847a" stroke="none" stroke-width="0.6" opacity="0.7"/>
<circle cx="294.21" cy="425.86" r="1.19" fill="#f4847a" stroke="none" stroke-width="0.6" opacity="0.7"/>
<ellipse cx="316.50" cy="424.50" rx="5.25" ry="6.38" fill="#de4a42" stroke="none" stroke-width="0.6"/>
<circle cx="316.02" cy="428.68" r="3.26" fill="#de4a42" stroke="none" stroke-width="0.6"/>
<circle cx="315.12" cy="427.18" r="3.17" fill="#de4a42" stroke="none" stroke-width="0.6"/>
<circle cx="315.93" cy="427.70" r="3.59" fill="#de4a42" stroke="none" stroke-width="0.6"/>
<circle cx="316.40" cy="421.44" r="4.02" fill="#de4a42" stroke="none" stroke-width="0.6"/>
<circle cx="319.22" cy="428.25" r="4.18" fill="#de4a42" stroke="none" stroke-width="0.6"/>
<circle cx="317.53" cy="429.48" r="4.15" fill="#de4a42" stroke="none" stroke-width="0.6"/>
<circle cx="319.45" cy="426.32" r="4.13" fill="#de4a42" stroke="none" stroke-width="0.6"/>
<circle cx="319.21" cy="421.92" r="3.85" fill="#4a0e16" stroke="none" stroke-width="0.6" opacity="0.9"/>
<circle cx="317.38" cy="423.97" r="3.36" fill="#4a0e16" stroke="none" stroke-width="0.6" opacity="0.9"/>
<circle cx="320.39" cy="420.56" r="2.87" fill="#4a0e16" stroke="none" stroke-width="0.6" opacity="0.9"/>
<circle cx="317.86" cy="422.85" r="2.38" fill="#4a0e16" stroke="none" stroke-width="0.6" opacity="0.9"/>
<circle cx="314.96" cy="423.35" r="1.40" fill="#b8303a" stroke="none" stroke-width="0.6" opacity="0.6"/>
<circle cx="319.66" cy="427.01" r="1.40" fill="#b8303a" stroke="none" stroke-width="0.6" opacity="0.6"/>
<circle cx="317.85" cy="428.25" r="1.40" fill="#b8303a" stroke="none" stroke-width="0.6" opacity="0.6"/>
<circle cx="318.45" cy="427.66" r="1.40" fill="#b8303a" stroke="none" stroke-width="0.6" opacity="0.6"/>
<circle cx="316.65" cy="426.47" r="1.19" fill="#f4847a" stroke="none" stroke-width="0.6" opacity="0.7"/>
<circle cx="311.75" cy="429.70" r="1.19" fill="#f4847a" stroke="none" stroke-width="0.6" opacity="0.7"/>
<circle cx="318.91" cy="424.00" r="1.19" fill="#f4847a" stroke="none" stroke-width="0.6" opacity="0.7"/>
<circle cx="316.51" cy="420.59" r="1.19" fill="#f4847a" stroke="none" stroke-width="0.6" opacity="0.7"/>
<circle cx="315.45" cy="426.78" r="1.19" fill="#f4847a" stroke="none" stroke-width="0.6" opacity="0.7"/>
<circle cx="313.72" cy="424.65" r="1.19" fill="#f4847a" stroke="none" stroke-width="0.6" opacity="0.7"/>
<line x1="319.00" y1="439.50" x2="325.00" y2="439.50" stroke="#222" stroke-width="0.8"/>
<text x="332.90" y="400.80" font-size="6.20" font-weight="bold" fill="#000" textLength="19.20" lengthAdjust="spacingAndGlyphs" stroke="#000" stroke-width="0.19">EV CM</text>
<text x="332.90" y="424.80" font-size="6.20" font-weight="bold" fill="#000" textLength="19.70" lengthAdjust="spacingAndGlyphs" stroke="#000" stroke-width="0.19">OE CM</text>
<line x1="19.80" y1="486.50" x2="19.80" y2="545.50" stroke="#4a4a4a" stroke-width="0.5"/>
<line x1="18.60" y1="487.00" x2="19.80" y2="487.00" stroke="#4a4a4a" stroke-width="0.5"/>
<text x="18.10" y="488.70" font-size="4.9" fill="#111" text-anchor="end" textLength="4.47" lengthAdjust="spacingAndGlyphs" stroke="#111" stroke-width="0.25">20</text>
<line x1="18.60" y1="502.00" x2="19.80" y2="502.00" stroke="#4a4a4a" stroke-width="0.5"/>
<text x="18.10" y="503.70" font-size="4.9" fill="#111" text-anchor="end" textLength="4.47" lengthAdjust="spacingAndGlyphs" stroke="#111" stroke-width="0.25">15</text>
<line x1="18.60" y1="516.50" x2="19.80" y2="516.50" stroke="#4a4a4a" stroke-width="0.5"/>
<text x="18.10" y="518.20" font-size="4.9" fill="#111" text-anchor="end" textLength="4.47" lengthAdjust="spacingAndGlyphs" stroke="#111" stroke-width="0.25">10</text>
<line x1="18.60" y1="531.00" x2="19.80" y2="531.00" stroke="#4a4a4a" stroke-width="0.5"/>
<text x="18.10" y="532.70" font-size="4.9" fill="#111" text-anchor="end" textLength="2.23" lengthAdjust="spacingAndGlyphs" stroke="#111" stroke-width="0.25">5</text>
<line x1="18.60" y1="545.50" x2="19.80" y2="545.50" stroke="#4a4a4a" stroke-width="0.5"/>
<text x="18.10" y="547.20" font-size="4.9" fill="#111" text-anchor="end" textLength="2.23" lengthAdjust="spacingAndGlyphs" stroke="#111" stroke-width="0.25">0</text>
<line x1="19.80" y1="545.50" x2="104.00" y2="545.50" stroke="#4a4a4a" stroke-width="0.5"/>
<rect x="32.00" y="534.00" width="25.00" height="11.50" fill="#fff" stroke="#2f4fae" stroke-width="1.0"/>
<line x1="44.50" y1="527.00" x2="44.50" y2="542.00" stroke="#2f4fae" stroke-width="0.7"/>
<line x1="41.00" y1="527.00" x2="48.00" y2="527.00" stroke="#2f4fae" stroke-width="0.8"/>
<line x1="41.00" y1="542.00" x2="48.00" y2="542.00" stroke="#2f4fae" stroke-width="0.8"/>
<circle cx="44.50" cy="529.50" r="1.25" fill="#2f4fae" stroke="none" stroke-width="0.6"/>
<circle cx="42.00" cy="533.00" r="1.25" fill="#2f4fae" stroke="none" stroke-width="0.6"/>
<circle cx="46.00" cy="537.00" r="1.25" fill="#2f4fae" stroke="none" stroke-width="0.6"/>
<circle cx="43.50" cy="541.00" r="1.25" fill="#2f4fae" stroke="none" stroke-width="0.6"/>
<circle cx="47.00" cy="542.50" r="1.25" fill="#2f4fae" stroke="none" stroke-width="0.6"/>
<circle cx="44.00" cy="534.50" r="1.25" fill="#2f4fae" stroke="none" stroke-width="0.6"/>
<rect x="69.50" y="515.00" width="25.00" height="30.50" fill="#fff" stroke="#d8343e" stroke-width="1.0"/>
<line x1="82.00" y1="506.00" x2="82.00" y2="524.00" stroke="#d8343e" stroke-width="0.7"/>
<line x1="78.50" y1="506.00" x2="85.50" y2="506.00" stroke="#d8343e" stroke-width="0.8"/>
<line x1="78.50" y1="524.00" x2="85.50" y2="524.00" stroke="#d8343e" stroke-width="0.8"/>
<circle cx="82.00" cy="500.50" r="1.25" fill="#d8343e" stroke="none" stroke-width="0.6"/>
<circle cx="81.00" cy="505.00" r="1.25" fill="#d8343e" stroke="none" stroke-width="0.6"/>
<circle cx="84.00" cy="511.00" r="1.25" fill="#d8343e" stroke="none" stroke-width="0.6"/>
<circle cx="79.00" cy="517.00" r="1.25" fill="#d8343e" stroke="none" stroke-width="0.6"/>
<circle cx="83.00" cy="521.00" r="1.25" fill="#d8343e" stroke="none" stroke-width="0.6"/>
<circle cx="82.00" cy="525.50" r="1.25" fill="#d8343e" stroke="none" stroke-width="0.6"/>
<circle cx="80.30" cy="494.20" r="0.95" fill="#222" stroke="none" stroke-width="0.6"/>
<circle cx="84.70" cy="494.20" r="0.95" fill="#222" stroke="none" stroke-width="0.6"/>
<text x="35.40" y="554.80" font-size="4.80" font-weight="bold" fill="#000" textLength="18.20" lengthAdjust="spacingAndGlyphs" stroke="#000" stroke-width="0.14">EV CM</text>
<text x="74.90" y="554.80" font-size="4.80" font-weight="bold" fill="#000" textLength="16.70" lengthAdjust="spacingAndGlyphs" stroke="#000" stroke-width="0.14">OE CM</text>
<text x="0" y="0" font-size="4.6" fill="#111" text-anchor="middle" transform="translate(7.4,515.5) rotate(-90)" textLength="70" lengthAdjust="spacingAndGlyphs" stroke="#111" stroke-width="0.23">Arbitrary luciferase (×10<tspan font-size="3" dy="-1.5">8</tspan><tspan dy="1.5">)</tspan></text>
<line x1="130.80" y1="488.00" x2="130.80" y2="545.50" stroke="#4a4a4a" stroke-width="0.5"/>
<line x1="129.60" y1="488.50" x2="130.80" y2="488.50" stroke="#4a4a4a" stroke-width="0.5"/>
<text x="129.10" y="490.20" font-size="4.9" fill="#111" text-anchor="end" textLength="4.47" lengthAdjust="spacingAndGlyphs" stroke="#111" stroke-width="0.25">30</text>
<line x1="129.60" y1="507.00" x2="130.80" y2="507.00" stroke="#4a4a4a" stroke-width="0.5"/>
<text x="129.10" y="508.70" font-size="4.9" fill="#111" text-anchor="end" textLength="4.47" lengthAdjust="spacingAndGlyphs" stroke="#111" stroke-width="0.25">20</text>
<line x1="129.60" y1="526.00" x2="130.80" y2="526.00" stroke="#4a4a4a" stroke-width="0.5"/>
<text x="129.10" y="527.70" font-size="4.9" fill="#111" text-anchor="end" textLength="4.47" lengthAdjust="spacingAndGlyphs" stroke="#111" stroke-width="0.25">10</text>
<line x1="129.60" y1="545.50" x2="130.80" y2="545.50" stroke="#4a4a4a" stroke-width="0.5"/>
<text x="129.10" y="547.20" font-size="4.9" fill="#111" text-anchor="end" textLength="2.23" lengthAdjust="spacingAndGlyphs" stroke="#111" stroke-width="0.25">0</text>
<line x1="130.80" y1="545.50" x2="219.00" y2="545.50" stroke="#4a4a4a" stroke-width="0.5"/>
<rect x="148.00" y="519.00" width="23.00" height="26.50" fill="#fff" stroke="#2f4fae" stroke-width="1.0"/>
<line x1="159.50" y1="514.00" x2="159.50" y2="523.50" stroke="#2f4fae" stroke-width="0.7"/>
<line x1="156.00" y1="514.00" x2="163.00" y2="514.00" stroke="#2f4fae" stroke-width="0.8"/>
<line x1="156.00" y1="523.50" x2="163.00" y2="523.50" stroke="#2f4fae" stroke-width="0.8"/>
<circle cx="159.50" cy="510.50" r="1.25" fill="#2f4fae" stroke="none" stroke-width="0.6"/>
<circle cx="156.00" cy="516.50" r="1.25" fill="#2f4fae" stroke="none" stroke-width="0.6"/>
<circle cx="161.00" cy="518.00" r="1.25" fill="#2f4fae" stroke="none" stroke-width="0.6"/>
<circle cx="158.00" cy="521.00" r="1.25" fill="#2f4fae" stroke="none" stroke-width="0.6"/>
<circle cx="160.00" cy="524.00" r="1.25" fill="#2f4fae" stroke="none" stroke-width="0.6"/>
<rect x="184.00" y="504.00" width="23.50" height="41.50" fill="#fff" stroke="#d8343e" stroke-width="1.0"/>
<line x1="195.75" y1="500.00" x2="195.75" y2="508.50" stroke="#d8343e" stroke-width="0.7"/>
<line x1="192.25" y1="500.00" x2="199.25" y2="500.00" stroke="#d8343e" stroke-width="0.8"/>
<line x1="192.25" y1="508.50" x2="199.25" y2="508.50" stroke="#d8343e" stroke-width="0.8"/>
<circle cx="195.50" cy="499.00" r="1.25" fill="#d8343e" stroke="none" stroke-width="0.6"/>
<circle cx="193.00" cy="502.00" r="1.25" fill="#d8343e" stroke="none" stroke-width="0.6"/>
<circle cx="198.00" cy="503.50" r="1.25" fill="#d8343e" stroke="none" stroke-width="0.6"/>
<circle cx="196.00" cy="506.00" r="1.25" fill="#d8343e" stroke="none" stroke-width="0.6"/>
<circle cx="194.00" cy="510.00" r="1.25" fill="#d8343e" stroke="none" stroke-width="0.6"/>
<circle cx="191.50" cy="488.80" r="0.95" fill="#222" stroke="none" stroke-width="0.6"/>
<circle cx="195.50" cy="488.80" r="0.95" fill="#222" stroke="none" stroke-width="0.6"/>
<circle cx="199.50" cy="488.80" r="0.95" fill="#222" stroke="none" stroke-width="0.6"/>
<text x="149.90" y="553.80" font-size="4.80" font-weight="bold" fill="#000" textLength="17.20" lengthAdjust="spacingAndGlyphs" stroke="#000" stroke-width="0.14">EV CM</text>
<text x="185.40" y="553.80" font-size="4.80" font-weight="bold" fill="#000" textLength="19.20" lengthAdjust="spacingAndGlyphs" stroke="#000" stroke-width="0.14">OE CM</text>
<text x="0" y="0" font-size="6.33" font-weight="normal" fill="#000" text-anchor="middle" textLength="63.70" lengthAdjust="spacingAndGlyphs" transform="translate(123.90,515.75) rotate(-90)" stroke="#000" stroke-width="0.32">Liver/body-weight ratio</text>
<text x="230.80" y="476.40" font-size="12.3" font-weight="bold" fill="#000" text-anchor="middle" stroke="none">J</text>
<line x1="252.50" y1="486.50" x2="252.50" y2="545.50" stroke="#4a4a4a" stroke-width="0.5"/>
<line x1="251.30" y1="487.00" x2="252.50" y2="487.00" stroke="#4a4a4a" stroke-width="0.5"/>
<text x="250.80" y="488.70" font-size="4.9" fill="#111" text-anchor="end" textLength="4.47" lengthAdjust="spacingAndGlyphs" stroke="#111" stroke-width="0.25">50</text>
<line x1="251.30" y1="499.00" x2="252.50" y2="499.00" stroke="#4a4a4a" stroke-width="0.5"/>
<text x="250.80" y="500.70" font-size="4.9" fill="#111" text-anchor="end" textLength="4.47" lengthAdjust="spacingAndGlyphs" stroke="#111" stroke-width="0.25">40</text>
<line x1="251.30" y1="510.50" x2="252.50" y2="510.50" stroke="#4a4a4a" stroke-width="0.5"/>
<text x="250.80" y="512.20" font-size="4.9" fill="#111" text-anchor="end" textLength="4.47" lengthAdjust="spacingAndGlyphs" stroke="#111" stroke-width="0.25">30</text>
<line x1="251.30" y1="522.00" x2="252.50" y2="522.00" stroke="#4a4a4a" stroke-width="0.5"/>
<text x="250.80" y="523.70" font-size="4.9" fill="#111" text-anchor="end" textLength="4.47" lengthAdjust="spacingAndGlyphs" stroke="#111" stroke-width="0.25">20</text>
<line x1="251.30" y1="533.50" x2="252.50" y2="533.50" stroke="#4a4a4a" stroke-width="0.5"/>
<text x="250.80" y="535.20" font-size="4.9" fill="#111" text-anchor="end" textLength="4.47" lengthAdjust="spacingAndGlyphs" stroke="#111" stroke-width="0.25">10</text>
<line x1="251.30" y1="545.50" x2="252.50" y2="545.50" stroke="#4a4a4a" stroke-width="0.5"/>
<text x="250.80" y="547.20" font-size="4.9" fill="#111" text-anchor="end" textLength="2.23" lengthAdjust="spacingAndGlyphs" stroke="#111" stroke-width="0.25">0</text>
<line x1="252.50" y1="545.30" x2="340.00" y2="545.30" stroke="#4a4a4a" stroke-width="0.5"/>
<rect x="264.00" y="538.00" width="25.50" height="7.30" fill="#fff" stroke="#2f4fae" stroke-width="1.0"/>
<line x1="276.75" y1="532.00" x2="276.75" y2="542.00" stroke="#2f4fae" stroke-width="0.7"/>
<line x1="273.25" y1="532.00" x2="280.25" y2="532.00" stroke="#2f4fae" stroke-width="0.8"/>
<line x1="273.25" y1="542.00" x2="280.25" y2="542.00" stroke="#2f4fae" stroke-width="0.8"/>
<circle cx="276.50" cy="531.00" r="1.25" fill="#2f4fae" stroke="none" stroke-width="0.6"/>
<circle cx="275.00" cy="535.00" r="1.25" fill="#2f4fae" stroke="none" stroke-width="0.6"/>
<circle cx="278.00" cy="538.50" r="1.25" fill="#2f4fae" stroke="none" stroke-width="0.6"/>
<circle cx="276.00" cy="541.50" r="1.25" fill="#2f4fae" stroke="none" stroke-width="0.6"/>
<circle cx="277.00" cy="543.50" r="1.25" fill="#2f4fae" stroke="none" stroke-width="0.6"/>
<rect x="302.00" y="521.00" width="24.00" height="24.30" fill="#fff" stroke="#d8343e" stroke-width="1.0"/>
<line x1="314.00" y1="504.00" x2="314.00" y2="538.50" stroke="#d8343e" stroke-width="0.7"/>
<line x1="310.50" y1="504.00" x2="317.50" y2="504.00" stroke="#d8343e" stroke-width="0.8"/>
<line x1="310.50" y1="538.50" x2="317.50" y2="538.50" stroke="#d8343e" stroke-width="0.8"/>
<circle cx="314.00" cy="493.00" r="1.25" fill="#d8343e" stroke="none" stroke-width="0.6"/>
<circle cx="314.00" cy="513.00" r="1.25" fill="#d8343e" stroke="none" stroke-width="0.6"/>
<circle cx="314.00" cy="519.00" r="1.25" fill="#d8343e" stroke="none" stroke-width="0.6"/>
<circle cx="314.00" cy="526.50" r="1.25" fill="#d8343e" stroke="none" stroke-width="0.6"/>
<circle cx="314.00" cy="532.00" r="1.25" fill="#d8343e" stroke="none" stroke-width="0.6"/>
<circle cx="314.00" cy="486.20" r="1.00" fill="#222" stroke="none" stroke-width="0.6"/>
<text x="269.40" y="553.30" font-size="4.80" font-weight="bold" fill="#000" textLength="16.20" lengthAdjust="spacingAndGlyphs" stroke="#000" stroke-width="0.14">EV CM</text>
<text x="305.40" y="553.30" font-size="4.80" font-weight="bold" fill="#000" textLength="17.20" lengthAdjust="spacingAndGlyphs" stroke="#000" stroke-width="0.14">OE CM</text>
<text x="0" y="0" font-size="6.22" font-weight="normal" fill="#000" text-anchor="middle" textLength="70.20" lengthAdjust="spacingAndGlyphs" transform="translate(239.40,515.50) rotate(-90)" stroke="#000" stroke-width="0.31">No. of metastatic nodules</text>
<text x="375.40" y="465.80" font-size="5.60" font-weight="bold" fill="#000" textLength="14.20" lengthAdjust="spacingAndGlyphs" stroke="#000" stroke-width="0.17">Lung</text>
<text x="347.90" y="491.80" font-size="6.20" font-weight="bold" fill="#000" textLength="19.70" lengthAdjust="spacingAndGlyphs" stroke="#000" stroke-width="0.19">EV CM</text>
<text x="346.40" y="548.30" font-size="6.20" font-weight="bold" fill="#000" textLength="20.70" lengthAdjust="spacingAndGlyphs" stroke="#000" stroke-width="0.19">OE CM</text>
<clipPath id="ev_l"><rect x="372.3" y="469.8" width="73.19999999999999" height="45.19999999999999"/></clipPath>
<g clip-path="url(#ev_l)">
<rect x="372.30" y="469.80" width="73.20" height="45.20" fill="#e08ca8" stroke="none" stroke-width="0.6"/>
<path d="M394.8 495.9h0M391.7 506.3h0M406.5 484.8h0M437.9 505.6h0M435.2 499.9h0M385.9 487.4h0M389.8 505.6h0M373 505.5h0M384.5 483.6h0M418.3 500.3h0M409.8 494.9h0M415.4 496.9h0M380.2 483.4h0M373.8 495.4h0M393.9 480.7h0M392.4 512.3h0M381.7 510.6h0M438.4 479h0M433 478.6h0M419.6 475.3h0M395.6 492.1h0M399.9 507.1h0M419.6 471.3h0M413.2 473.9h0M385.1 487.4h0M395.4 494.9h0M444.3 505h0M412.2 507.7h0M384.6 502.2h0M443.4 512.4h0M409.7 496.6h0M400.4 489.7h0M444.7 475.8h0M435 480h0M413 494.6h0M375.7 491.6h0M373.5 512.4h0M441 496h0M428.6 502.8h0M387.4 472.9h0M399.7 488.8h0M408.4 500.2h0M428 495.3h0M372.5 485h0M418.3 510h0M373.4 502.5h0M407.1 485.1h0M435.9 482.9h0M389.2 494.7h0M419.7 477.4h0M410.3 481.9h0M428.7 472.4h0M434.3 491.8h0M387.3 484.2h0M425.3 493.5h0M380.8 476.4h0M377.5 493.9h0M422.9 474.5h0M433.7 494.9h0M433.5 480.7h0M386.2 495.5h0M438.5 489.5h0M401.6 495.2h0M373.6 477.9h0M398.9 504.7h0M405.1 499.9h0M401.8 496.3h0M413.7 472.1h0M416.3 489.5h0M423.4 489.6h0M380.7 472.6h0M414.3 500.5h0M429.4 477.6h0M375.2 476.6h0M439.4 496.5h0M379.2 504.4h0M418.2 506.8h0M388.1 511.7h0M405.1 502h0M380.6 509.2h0M442.7 492.8h0M416.2 472.9h0M421.2 500.8h0M432.9 505.5h0M390.3 505h0M416.4 474.1h0M375.5 476.8h0M381.5 494.6h0M410.4 501.8h0M409.9 494.2h0M413.2 473h0M408.2 494h0M387.4 479.4h0M442 488.8h0M377 475.3h0M414.8 511.5h0M385.3 499.7h0M413.5 491.1h0M400.4 479h0M391.6 477.9h0M430.3 494.1h0M444 507.8h0M405.6 514.6h0M430.6 504.9h0M422.9 485.6h0M445.3 493.9h0M385.6 489.2h0M436.8 514.8h0M408.1 483.9h0M417.1 510.1h0M377.5 502.4h0M435.8 499.8h0M440.9 495.2h0M400.7 514.3h0M434.2 479.3h0M380.1 502.5h0M420.7 485.5h0M378 505.3h0M396.2 500.1h0M415.5 495.7h0M444.7 509.1h0M424.7 496.4h0M431.5 502.4h0M386.3 508h0M379.4 505.2h0M407.9 477.1h0M393.5 482.1h0M413.5 475.2h0M387.6 481.8h0M428.6 495.7h0M410.6 473.4h0M419.3 505.8h0M416.9 493.3h0M373.4 513.3h0M407.7 511.6h0M404.9 498.8h0M425.8 470.1h0M375.5 475.1h0M409 484.5h0M395.9 509.2h0M406.3 498.3h0M413.8 473.9h0M425.1 469.9h0M424.3 506h0M395.9 495.2h0M420.4 499.4h0M382.6 485.6h0M438.7 504.3h0M385.8 494.5h0M403.2 477.4h0M374.4 475.8h0M419 497.2h0M417.6 482.2h0M399.6 491.8h0M429.9 476.7h0M405.2 500.8h0M389 504.9h0M437.6 485.7h0M395.5 487h0M438.2 499.7h0M414.3 483h0M439.9 506h0M392.2 484.4h0M375.3 496.5h0M402.4 472.4h0M373.3 475.1h0M436.1 511.6h0M438.4 495.1h0M386.4 494.4h0M436.9 513.5h0M445.1 508.7h0M377.9 483.3h0M391.9 486.9h0M434.3 480.1h0M406.7 481.7h0M384.4 482h0M390.9 511.4h0M444.5 513.8h0M426.3 499.4h0M393.7 485.8h0M401.7 493.1h0M407.9 508.2h0M410.6 486.2h0M397.7 494.7h0M400.4 481.6h0M420.9 507.9h0M376.2 507.2h0M435 497.2h0M426.9 511.3h0M377.3 487.4h0M428.8 478.2h0M421.5 482.1h0M419.1 511.4h0M392.5 485.5h0M407.1 509.2h0M423.3 485.9h0M395.2 500.5h0M388.2 481.3h0M397 480.7h0M429.4 490.6h0" stroke="#a84888" stroke-width="1" stroke-linecap="round" fill="none" opacity="0.75"/>
<path d="M384.1 507.1h0M397.5 510.1h0M415.1 472h0M375.8 498.1h0M411.6 481.2h0M436.7 494h0M419.5 504.5h0M402.1 486.9h0M381.4 472.6h0M433.2 477h0M413.3 496.9h0M378.7 489.8h0M423.4 491.6h0M381.4 489.4h0M386.2 506.3h0M431.7 498.6h0M396.5 487.8h0M386.6 477.3h0M402.5 490.6h0M392.1 496.3h0M402.6 507.8h0M438.1 507.1h0M437.1 506.9h0M392.4 488.9h0M430.7 476.4h0M409.2 506.5h0M419.5 496.1h0M445.5 473.2h0M410.5 511.6h0M421.5 505.6h0M401 477.3h0M412.4 512.1h0M430.3 478.2h0M422 486.2h0M388.6 491.5h0M392.7 504.4h0M438.7 479.3h0M409 512.8h0M413.4 504.6h0M373.1 498.2h0M392.2 481.6h0M390.5 483.3h0M387.2 507.2h0M418.1 486.3h0M419.5 505.1h0M399.7 469.8h0M407.6 508.6h0M388.5 473.7h0M410.2 507.9h0M396 512.3h0M422.1 479.3h0M410.9 480.9h0M411.7 498.1h0M437 503.7h0M427.4 492.4h0" stroke="#fcf6f9" stroke-width="6.8" stroke-linecap="round" fill="none"/>
<path d="M413 491.8h0M391.7 474.1h0M415.3 511.5h0M433 486.4h0M425.1 505h0M389.5 504h0M406.3 485.2h0M424.4 495.1h0M402.2 481.6h0M420 492.2h0M378.4 482.1h0M383 492.6h0M422.7 479.5h0M410.1 506h0M380.1 505.9h0M401.2 478.4h0M415 470.2h0M405.3 474.7h0M413.7 501.6h0M386.5 500.6h0M386.5 491.7h0M390.6 487.6h0M441 498.1h0M435.6 513.5h0M435.8 501.8h0M402.9 494.9h0M389 501.4h0M384.1 495.1h0M426.4 481.1h0M403.6 504.4h0M400.3 476.9h0M429.4 488.4h0M376.5 476.9h0M415.8 478.9h0M395.9 488.2h0M444.8 513.1h0M397.5 505.3h0M435.1 496.1h0M439.9 471.9h0M427.6 477.8h0M404.7 474.6h0M428 470.7h0M382.1 510.3h0M384.9 482.1h0M435.8 487.7h0M437.2 496.9h0M397.3 499.8h0M375.3 486.8h0M411.8 483.6h0M388.3 488.7h0M388.3 489.7h0M399.1 514.3h0M403.4 479.8h0M432.8 497.9h0M432.7 472h0M408 477.4h0M387 470.7h0M387.5 509.7h0M384.3 501h0M436.7 507.7h0M445.2 473.7h0M410.9 487.7h0M445 480.2h0M414.5 501.1h0M442.2 506.3h0M373.8 484.5h0M416.6 475.8h0M388.4 482h0M423.9 482.4h0M440.1 501.2h0M378.9 490.7h0M426.4 504.6h0M430.2 492.7h0M399.3 484.9h0M410.9 478.3h0M411.7 490.4h0M424.5 484.5h0M400.9 474.9h0M406 504.3h0M436.5 508h0M375.2 493.8h0M429.9 509.3h0M405.1 481h0M375.8 477.2h0M423.9 507.6h0M418.7 476.9h0M420.5 487.6h0M444.1 502h0M441.9 489.8h0M433.9 479.3h0M385 472h0M406.8 505.4h0M439.2 484.1h0M445 495.6h0M386.9 512.7h0M432.5 481.1h0M387.2 495.4h0M401.5 493.7h0M378.3 496.4h0M432.9 504.5h0" stroke="#fcf6f9" stroke-width="5" stroke-linecap="round" fill="none"/>
<path d="M384 509.2h0M408.8 491.6h0M441.5 502.9h0M386.4 473.4h0M418.2 481h0M378.1 504.8h0M397.5 478.6h0M394.5 474.1h0M440.3 497.7h0M378.6 489.7h0M407.2 503.1h0M431.1 494h0M430.3 503.8h0M410 493.9h0M396.9 493.8h0M387.6 487.3h0M401.3 480.6h0M422 503.1h0M374.4 484.3h0M399.8 476.6h0M427.4 479.3h0M429.7 506.7h0M441.1 507.5h0M402.2 511.5h0M437.2 485.8h0M416.6 473.3h0M429.3 475.9h0M432.1 484.7h0M375 499.2h0M417.4 472.5h0M434.8 484.5h0M427.8 470.6h0M408.7 510.1h0M407.4 477h0M436.1 500.2h0M395.8 491h0M397.5 485.2h0M385.6 476.1h0M440.8 483.1h0M398.5 496.2h0M380.8 514.3h0M440.3 482h0M393.6 487.5h0M423.2 491.5h0M428.1 513.2h0M421.8 498.2h0M440.1 477h0M402.2 494.5h0M423.3 499h0M422 508.2h0M379.1 494.1h0M407.6 486.3h0M432.5 497.3h0M436.1 483.8h0M444.7 504.7h0M388.5 502.2h0M402.3 476.6h0M422.1 511.9h0M417.1 504.7h0M439.6 499.2h0M396.3 500.3h0M434.3 508.5h0M399.8 472.4h0M377.1 475.9h0M388.7 485.6h0M401.5 500.2h0M389.1 498h0M396 489.8h0M385.5 473.5h0M387.8 505.6h0M392.9 508.8h0M432.3 481.9h0M432.9 480.2h0M415.6 497.7h0M395.9 488h0M399.1 479h0M436 489h0M422.8 488.5h0M443.6 489.7h0M443.7 478.4h0M425.9 471.8h0M429.9 510.7h0M393.5 508.3h0M435.1 478.1h0M408.5 475.2h0M444.9 495.3h0M441.3 487.8h0M423.2 473.3h0M389.4 478.1h0M436.3 477.8h0M445.2 496.5h0M410.6 484.2h0M408.8 501.4h0M394.2 476.5h0M434.6 478.3h0M402.3 471.8h0M429.3 475.6h0M373.6 502.8h0M386.1 498.6h0M377.1 485.7h0M416.8 495.6h0M419.5 510.6h0M378.1 474.4h0M377.3 473.5h0M411.6 480.7h0M388.9 491.6h0M409 476.9h0M381.4 492.7h0M422.9 495.1h0M382.2 512.9h0M420.1 495.8h0M407.6 476.1h0M412.9 514.1h0M421.5 490.7h0M390.7 499.3h0M415.1 488.3h0M427.6 494.5h0M373.2 506.2h0M386.7 489.5h0M440.8 475.2h0M418.5 508.5h0M390.1 508h0M414.5 501.3h0M399.8 483.4h0M399.6 482.4h0M380 493.1h0M398.6 495.5h0M402.9 514.4h0M428.7 484.8h0M382.5 502h0" stroke="#fcf6f9" stroke-width="3.2" stroke-linecap="round" fill="none"/>
<ellipse cx="420.00" cy="507.00" rx="12.00" ry="6.00" fill="#fcf6f9" stroke="none" stroke-width="0.6"/>
<ellipse cx="430.00" cy="490.00" rx="6.00" ry="3.50" fill="#fcf6f9" stroke="none" stroke-width="0.6"/>
<ellipse cx="395.00" cy="478.00" rx="4.00" ry="3.00" fill="#fcf6f9" stroke="none" stroke-width="0.6"/>
<ellipse cx="412.00" cy="480.00" rx="5.00" ry="3.00" fill="#fcf6f9" stroke="none" stroke-width="0.6"/>
<ellipse cx="438.00" cy="476.00" rx="4.00" ry="3.00" fill="#fcf6f9" stroke="none" stroke-width="0.6"/>
</g>
<clipPath id="ev_r"><rect x="445.5" y="469.8" width="72.10000000000002" height="45.19999999999999"/></clipPath>
<g clip-path="url(#ev_r)">
<rect x="445.50" y="469.80" width="72.10" height="45.20" fill="#b04880" stroke="none" stroke-width="0.6"/>
<path d="M481.2 495h0M503.9 484.3h0M468.6 501.1h0M480.6 486h0M474.7 484.7h0M457.6 498.4h0M509.9 500.9h0M491.3 485.1h0M476.8 476.3h0M498 483.2h0M466.5 514.1h0M470 514h0M490.1 504.2h0M490.8 477.9h0M496.9 481.5h0M474.9 475.7h0M449.7 486.4h0M446.5 487.2h0M506.8 514.9h0M476 474.7h0M470.5 472.7h0M461.2 497.9h0M490 471.2h0M480.7 488.9h0M474.2 475.9h0M473.9 474.4h0M495 499.2h0M490.8 488.2h0M514.5 486.5h0M460.2 486.7h0M511.3 476.9h0M500.6 512.2h0M506.9 490.8h0M478 509.2h0M496.7 506.3h0M458.4 497.3h0M498.7 480.6h0M460.4 507.8h0M486.5 488.3h0M480.5 481.4h0M463.4 474.6h0M474.5 476.4h0M510.2 513h0M488.1 473.9h0M488.7 476.8h0M472.3 475.6h0M481.4 473.2h0M465.7 480.4h0M479.1 511.9h0M487.2 505.2h0M497.8 493.8h0M450.4 472.4h0M455.2 493.1h0M470 511.9h0M459.9 475.7h0M491.7 497.2h0M449.3 485.4h0M477.5 507h0M501.7 509.3h0M484.1 512.2h0M479.4 482.9h0M455.6 507.4h0M492.4 497.7h0M516 498.4h0M467.9 501.2h0M512.3 477.9h0M513.5 488.6h0M453.7 492.8h0M501.8 492h0M464.9 504.5h0M452.8 500.1h0M471.6 497.5h0M482 482.5h0M460.3 506.9h0M478.4 482.6h0M488.2 504.5h0M451.9 490.5h0M456.5 504.5h0M448.8 507.4h0M485.9 493.1h0M484.2 482.4h0M478.1 477.5h0M471.2 496.7h0M489.6 484.5h0M489.9 505.3h0M501.4 469.9h0M481.6 477.5h0M504.6 496.1h0M477.3 497.4h0M482.3 479.2h0M511.4 472.3h0M448.1 483.1h0M455.7 486.7h0M489.9 487.4h0M515.4 484.6h0M513.3 514.1h0M485 506.2h0M451 512h0M477.3 485.1h0M511.9 487.9h0M451.9 471h0M503.1 477.9h0M491.3 473.7h0M504.2 513.6h0M472 505.8h0M510.3 480.4h0M479.7 514.9h0M514.2 495.3h0M485.1 470.7h0M505.4 512.6h0M486.2 480.3h0M454.6 498.5h0M495.6 496.8h0M506.1 471.4h0M446 474.4h0M467.9 472h0M462.9 479.2h0M504.1 493.6h0M459.9 492.7h0M456.7 514.5h0M452 480.6h0M486.8 510.2h0M492.8 476h0M489.4 503.2h0M512.8 498.6h0M463.5 507.2h0M495.9 510.1h0M460 507.6h0M480.1 479.8h0M463.8 474.3h0M510.2 476.3h0M491.2 481.2h0M463.5 485.7h0M506.5 472.8h0M473.6 484.6h0M480.5 498h0M507.9 498.5h0M507 509.7h0M504.1 470.9h0M450.1 493.5h0M459.7 486.2h0M483.7 493.8h0M500.8 504.7h0M461.2 495.7h0M479.6 489.9h0M497.8 502.1h0M496.5 487.2h0M451.5 496.2h0M463.8 483.8h0M452.7 473.2h0M477.5 513.2h0M489.8 481.3h0M514.1 478.6h0M494.2 473h0M514.5 511h0M505.8 487h0M478.1 492.2h0M512 496.1h0M463.4 510.8h0M475.9 502.8h0M513.5 504.7h0M454.5 506.8h0M478.1 514.9h0M472.6 477.8h0M454 514.9h0M476.5 470.4h0M481.7 513.1h0M460.7 511.7h0M517.4 479h0M460.5 476.4h0M452.7 469.8h0M461.2 506h0M476.8 488.4h0M490.4 476h0M501.5 481.1h0M482.9 479.7h0M464.2 476.5h0M473.8 489.4h0M452.6 507.4h0M469.6 500.2h0M459.2 471.7h0M516 480.6h0M446.3 511.8h0M476.2 470.1h0M491.6 485.1h0M515.3 506.8h0M493.2 501.5h0M468.6 511.3h0M512.7 480.9h0M449.2 472.7h0M483.5 497.8h0M503.6 510.8h0M473.1 489.9h0M474.2 510.7h0M461.2 475.6h0M459.7 511.5h0M457.8 514.8h0M463.5 486.6h0M458.5 513.8h0M451.1 477.1h0M495.4 491.7h0M473.7 490.4h0M509.9 476.6h0M485.6 479.2h0M481.3 487.3h0M475.3 483.9h0M446.4 478.8h0M498.3 487.3h0M454.4 474.6h0M497.6 478.3h0M513.4 493.5h0M450.1 484.3h0M490.3 514.4h0M511.6 480.3h0M489.6 495.8h0M509.1 477.8h0M482.7 496h0M480.5 491.1h0M446.9 477.7h0M514.2 483.7h0M515 470.3h0M445.8 508.4h0M466.8 508.4h0M445.5 497.3h0M505.6 482h0M507.2 502.6h0M505.6 486.7h0M459 487.1h0M468.7 480.6h0M509.9 477.8h0M491.1 490.9h0M479.4 492.3h0M481.2 512.6h0M494 506.2h0M463.4 492.9h0M497.5 501.1h0M504.2 471.3h0M452.6 506.4h0M473.8 479.8h0M477.1 477.4h0M498.6 488.5h0M505.2 491h0M517.2 471.4h0M507.5 474.3h0M480.9 480.5h0M474.7 510.1h0M461.9 487.9h0M483.8 474.5h0M482.9 483.7h0M516.1 510.8h0M482.9 511.9h0M451.7 470.7h0M475 510.4h0M510.7 514.3h0M503.9 487.9h0M501 504h0M481 506.8h0M498.7 478.1h0M449.6 480h0M502.4 488.5h0M468.3 503.4h0M458.7 481.1h0M454.9 510.8h0M463.1 487.2h0M485.4 478.1h0M510.1 506h0M452.9 477.1h0M506.3 479.4h0M473 508h0M467 494.2h0M476.1 502.3h0M499.5 506.1h0M461.4 498h0M458.8 513.7h0M465.9 494.5h0M463.1 495.3h0M467.3 472.2h0M446.3 502h0M462.4 476.2h0M496.6 506.8h0M464.2 495.2h0M510.4 508.8h0M479.2 501h0M488.8 504.4h0M513.2 479.4h0M473.6 512.7h0M465.1 483h0M505.1 484.2h0M488.1 473.1h0M516.5 496.7h0M450.8 476.3h0M452.5 494.5h0M496.3 496.2h0M499.9 508.6h0M482.2 493h0M492.1 501.6h0M508.8 498h0M474.8 499.1h0M503.2 496.8h0M468.3 492.9h0M484 478.7h0M508.8 472.3h0M508.3 480.7h0M468 510.5h0M476.6 496.7h0M449.2 491.3h0M486.7 494h0M470.6 472h0M449.6 475.6h0M499.7 487.9h0M510.8 503.6h0M480.7 498.7h0M497.9 509h0M451.3 489.5h0M452.5 503.2h0M479.7 506.7h0M452.9 508.2h0M454.2 472.9h0M465.1 483.8h0M451.6 507.8h0M515.3 499h0M481.4 487.9h0M465.8 490.8h0M483.1 503.4h0M472.2 487.2h0M505.9 501.7h0M451.3 491.4h0M469.8 481.2h0M484.2 480.3h0M483.8 477.2h0M465.1 478.5h0M493.6 479.5h0M505.9 480.3h0M453.5 473.8h0M505.7 495.3h0M476.7 474h0M495.5 479h0M509.2 501.2h0M488.9 485.9h0M504.7 494h0M468.3 498.2h0M495.9 508.8h0M493.2 501.2h0M459.1 508.5h0M485.5 481.1h0M509.8 477h0M486.6 513.1h0M514.6 490.5h0M512 511.1h0M473.8 475.5h0M452.1 511h0M446 491.9h0M474 476.7h0M466 472.2h0M465.4 498.4h0M461.4 489.8h0M456.6 502.5h0M484.6 505.4h0M468.5 475.3h0M514.1 475h0M485.7 503.1h0M488 470.6h0M515.8 509.8h0M456.7 491.3h0M501.5 474.7h0M465.6 510.7h0M480.7 506.1h0M490 501h0M464.2 501.5h0M445.8 482.2h0M514 508.1h0M452.1 499.4h0M516.3 508.1h0M509.7 476.8h0M501.1 498.1h0M451.3 481.6h0M509.3 476.4h0M485 481.3h0M516.4 503.5h0M481.4 485.7h0M505.4 512.1h0M504.5 503h0M480.3 495.2h0M463.6 480h0M478.9 496.3h0M449.3 490.1h0M474.2 511.5h0M467.3 503h0M507.9 510.2h0M491 513.7h0M516.9 473.9h0M465.3 504h0M488.6 487.1h0M469.5 508.9h0M452.9 515h0M453.1 494.1h0M487.4 515h0M476.2 497.4h0M463 494.1h0M459.2 472.7h0M493.8 507.2h0M484.4 513.2h0M458.7 503.1h0M481.1 499.1h0M485.6 490.6h0M499 505.3h0M486.4 479.1h0M512.4 473.9h0M453 493.3h0M474 498.6h0M449.9 495.3h0M446.8 486.5h0M499.6 481.5h0M468.6 497.1h0M458.2 495.8h0M456.2 501.6h0M472.4 496.7h0M510.1 496.5h0M490.1 502.4h0M516.4 476.5h0" stroke="#5a1a58" stroke-width="1" stroke-linecap="round" fill="none" opacity="0.75"/>
<path d="M462.2 500h0M502.8 470.5h0M475 482.7h0M456.1 495h0M468 483.9h0M511.7 487.2h0M486.4 513.7h0M503.9 484.9h0M460.4 479.3h0M500 476.8h0M501.7 504.7h0M447.8 507.4h0M494.9 473.4h0M455 499.1h0M495 480h0M503.3 509.2h0M465.6 492.2h0M468.1 478.5h0M498 482.5h0M488.7 493.5h0M463.8 474h0M497.4 511.7h0" stroke="#fbf3f6" stroke-width="8.4" stroke-linecap="round" fill="none"/>
<path d="M505.4 510.8h0M484.1 494.7h0M490.9 494.3h0M512.2 499.9h0M453.1 473.5h0M451 482h0M474.1 498.6h0M487.6 498.1h0M502.8 488.2h0M459.6 480.3h0M451.9 479.1h0M451 487.7h0M487.2 503.8h0M461.8 504.1h0M504.1 479h0M507.7 495.5h0M499.5 512.4h0M464.8 483.5h0M464.1 508.3h0M481.4 477.3h0M456.3 476h0M472.2 514.3h0M514.5 498.6h0M468.2 496.5h0M486 475.9h0M485.3 485.6h0" stroke="#fbf3f6" stroke-width="6" stroke-linecap="round" fill="none"/>
<path d="M467.8 499.6h0M502.8 484.4h0M463 492.9h0M508.1 499.6h0M515.3 479.1h0M463.3 473.1h0M474.9 490.5h0M485.8 494.5h0M495.9 513.7h0M453.4 509.1h0M478.1 506h0M473.5 480.8h0M491.2 510.8h0M451.8 472.9h0M511.3 490.9h0M445.5 494.1h0M513.5 491.9h0M489.2 475.1h0M494.2 494.5h0M495.2 471.1h0M455.7 492.1h0M483.1 502.1h0M459.4 487.1h0M512.9 506.7h0M465.3 496.6h0M453.3 495.6h0M494.8 510.5h0M494.4 482.9h0M500.7 472.2h0M510.6 511h0" stroke="#fbf3f6" stroke-width="3.6" stroke-linecap="round" fill="none"/>
<ellipse cx="478.00" cy="508.00" rx="20.00" ry="6.00" fill="#fbf3f6" stroke="none" stroke-width="0.6"/>
<ellipse cx="475.00" cy="484.00" rx="9.00" ry="5.00" fill="#fbf3f6" stroke="none" stroke-width="0.6"/>
<ellipse cx="500.00" cy="492.00" rx="5.00" ry="4.00" fill="#fbf3f6" stroke="none" stroke-width="0.6"/>
<ellipse cx="506.00" cy="473.50" rx="5.00" ry="3.50" fill="#e0684a" stroke="none" stroke-width="0.6"/>
</g>
<clipPath id="oe_l"><rect x="372.3" y="519.6" width="73.19999999999999" height="46.39999999999998"/></clipPath>
<g clip-path="url(#oe_l)">
<rect x="372.30" y="519.60" width="73.20" height="46.40" fill="#d49cc0" stroke="none" stroke-width="0.6"/>
<path d="M440.2 527.6h0M443.4 530.6h0M406.3 561.3h0M398.3 543.2h0M384.1 564.2h0M444.4 527.6h0M381.3 541.5h0M410.3 555.6h0M397.4 547h0M384 529.5h0M378.1 544.9h0M413.5 548.2h0M440.8 533.8h0M397.4 541.1h0M441.5 533.9h0M393.6 539.4h0M422.8 532.6h0M385 553.6h0M414.4 546.5h0M373.3 531.2h0M379.7 536.5h0M438.6 565.5h0M434.3 536.7h0M413.7 561.2h0M397.4 538.1h0M424.6 535.5h0M407 536.4h0M432.6 543.7h0M379.5 520.3h0M419.3 525h0M421.3 529.9h0M411.2 535.5h0M420.2 525.8h0M402.2 550.1h0M391.3 565.6h0M444.9 564.5h0M440.5 563.3h0M414.1 558.5h0M402 522.7h0M440 562.3h0M391.2 537h0M389.5 552.7h0M384.7 557.3h0M375 538.3h0M429.6 542.2h0M382.4 521h0M422.1 523.1h0M392.9 547.5h0M394.9 521.3h0M430.5 553.1h0M417.1 524.2h0M407.8 564.3h0M409.8 531.4h0M440.9 535.7h0M410.6 527.2h0M435.4 551.3h0M411.2 542.5h0M397.2 540.9h0M409.8 520.5h0M424.5 554.6h0M374.4 525.9h0M424.5 535.7h0M382.6 552h0M444.2 536h0M415.6 545.1h0M413 547.3h0M439.2 559.6h0M437.3 551.5h0M428.1 554.7h0M426.6 551.4h0M427.8 522.3h0M384.7 549.8h0M403.3 530.2h0M419.6 529h0M427.7 534.4h0M439.4 534.2h0M442.9 534.8h0M429.6 525.9h0M409.1 536.2h0M435.4 552.7h0M414.1 524.9h0M410.6 530.7h0M379.7 552.2h0M412.3 566h0M434 521.6h0M441.4 544.2h0M444.9 533.9h0M406.6 551.8h0M391 538.4h0M396.9 535.4h0M411.9 542.8h0M437 531h0M390 533h0M372.6 534.9h0M397.8 524h0M410.2 523.7h0M430.5 563.3h0M416.8 528.9h0M383.5 522.5h0M385.7 559h0M428.3 559.6h0M399.1 545.4h0M424.6 550.2h0M419.7 521h0M445.2 546.4h0M392.9 534.7h0M428 562.5h0M375 529.6h0M376 549.6h0M416.5 548.4h0M386.2 538.9h0M436.7 534.7h0M387 529.4h0M430.8 530.6h0M424.1 548h0M432.3 522.4h0M394.3 564h0M408.7 523.6h0M380.5 528.2h0M420.6 534.5h0M379.4 531.8h0M430.8 553h0M407.4 531.9h0M379.4 524.8h0M436.9 548h0M373.1 555.8h0M441.4 538h0M437.6 534.9h0M397.6 538.6h0M409.8 537.1h0M389.6 523.4h0M394 546h0M435.6 552.2h0M409.6 538.5h0M383.9 551.8h0M430.5 535.9h0M427.2 558.6h0M398.1 519.9h0M433.4 543.4h0M377.8 547.8h0M418.4 548.5h0M419.9 544.9h0M375.4 561.1h0M420.6 559.6h0M410.1 551.2h0M406.9 554.3h0M378.9 534.7h0M428.9 536.1h0M410.8 536h0M428.8 525.1h0M393.9 522.6h0M377.5 538h0M441.3 527.3h0M417.4 554.1h0M424 521.5h0M374.2 553.4h0M388.7 555.8h0M420 564.7h0M401.1 556.8h0M383.6 532h0M400 536.7h0M412 532.6h0M381.3 541.6h0M408.3 557.5h0M414.2 540.9h0M388.5 553.4h0M437 522.5h0M393 554.2h0M390.3 522.8h0M389.4 565h0M383.2 524.5h0M422.2 526.6h0M432.3 532.4h0M407.1 542.9h0M438.2 562.8h0M388.2 533.2h0M379.2 526.7h0M434.9 531h0M411 545.3h0M393.7 522.6h0M372.6 531.3h0M436 530.1h0M393.1 563.1h0M439.1 523h0M428.2 539.7h0M404.2 557.8h0M372.9 544.2h0M436.4 564.4h0M430.3 542.8h0M392.7 564.3h0M372.5 524.7h0M393.2 564.5h0M401.3 560.5h0M378 532.7h0M392.3 519.9h0M429.3 556.1h0M417.7 534.9h0M420 553.2h0M393.9 540.4h0M372.6 562h0M374.6 528h0M437.5 521.6h0M385.6 539.4h0M445.4 560.9h0M387.8 550.7h0M389.6 538.2h0M435.4 529.1h0M391.2 561.6h0M388.1 523.6h0M410.9 535h0M398.6 530.5h0M422.6 564.3h0M385.5 527.7h0M377.6 544.9h0M377.7 527.2h0M431 560.9h0M408.9 562h0M390.3 551.2h0M424.8 547.8h0M397.2 527.3h0M385.4 555.9h0M424 545.3h0M428.6 522.1h0M432.8 549.4h0M422.4 529.5h0M441.1 533.2h0M397.3 566h0M412.1 552.4h0M431.4 559h0M409.1 527.9h0M412.8 528.8h0M409.6 525.5h0M444.8 538.6h0M425.5 549h0M402 536.8h0M372.6 559.3h0M376.5 529.5h0M409.9 531.1h0M425.6 560.1h0M408.5 564.9h0M387 550.3h0M445.4 522.8h0M423.5 548.8h0M429.4 549.6h0M435.2 533.3h0M414.5 520.5h0M373.6 554.3h0M397.1 552.7h0M381 549.2h0M444.4 562.8h0M419.8 521h0M406.2 551.3h0M409.8 555.6h0M399.4 556.4h0M426.1 550.2h0M396.6 544.6h0M411.5 526h0M387.7 551.2h0M389.8 564.8h0M376.9 526.2h0M392.3 521.9h0M382.4 532.8h0M441.6 536.6h0M411.5 523.6h0M399 561.5h0M438 541.2h0M428.2 558.7h0M400.6 534.7h0M438.3 531h0M429.7 532.5h0M444.9 565.1h0M397.7 524.5h0M445.3 547.3h0M434.8 536.4h0M418.9 527.5h0M389.2 555.6h0M387.2 530.6h0M423.9 530.3h0M439.5 563.7h0M417.2 557.6h0M435.1 525.1h0M400 541.7h0M433.6 524.7h0M437 540.6h0M430.4 531h0M388.8 528.1h0M385.5 556.8h0M387.3 531h0M403.8 522.4h0M403.8 548.5h0M420.2 553.2h0M381 526.4h0M400.5 536.2h0M436.1 528.1h0M410 524.1h0M415.2 543.1h0M414.2 533.1h0M434.3 545.7h0M431.5 539.1h0M420.9 536.8h0M380.2 544.2h0M378 548.8h0M410.2 563.7h0M374.3 556.8h0M417.9 531.4h0M401.8 564.5h0M415.1 550.6h0M404.3 564.5h0M433 532.1h0M385.6 536.2h0M408 542.3h0M423.6 534.1h0M392.7 548.4h0M389.1 562.9h0M396.2 529.7h0M423.2 545.5h0M439 556.9h0M428.2 555.5h0M431.6 532.8h0M379.3 519.9h0M393.4 563h0M434.1 557.7h0M388.4 527h0M395.8 522.8h0M379.8 556.7h0M409.3 542.6h0M399.4 522.4h0M382.1 559.7h0M426.4 530h0M440 558.1h0M407.5 564.2h0M399.8 545.1h0M395.8 531.2h0M404.3 526.5h0M382.6 556h0M427.4 541.6h0M410.1 522h0M380.6 521.6h0M374 550.1h0M389 561.5h0M434.2 526.1h0M412.8 557.7h0M381 525h0M435.8 557.1h0M386.3 548.2h0M399.6 564.7h0M418.2 548.6h0M377.3 538.1h0M439.2 554.1h0M428.7 533.6h0M438.9 545.7h0M393.8 540.8h0M402.5 548.4h0M388.3 550.5h0M392.3 537.9h0M388.3 531.6h0M439.5 546.6h0M436.8 550.5h0M381.2 528.2h0M392.2 531.5h0M416.5 536.5h0M401.3 526.9h0M396.8 553.7h0M436.8 528.5h0M382 564.6h0M420.3 519.8h0M406.8 528.5h0M441.1 560h0M437.4 531.4h0M386.7 525.7h0M423.3 530.7h0M386.1 527.1h0M413.1 522.7h0M377.9 532.8h0M443.8 528.3h0M434.4 549.1h0M376.1 562.9h0M394.3 563.2h0M379.1 520.8h0M393.6 559.1h0M374.2 550.5h0M416.9 530.2h0M429.5 563.7h0M399.9 530h0M437.8 554.7h0M423.9 557.2h0M408.9 550.8h0M421.7 551.3h0M430.1 546.4h0M443.7 559.8h0M373 526.1h0M373.7 554.4h0M430.6 559.2h0M392.9 561.6h0M377.7 525.7h0M405.3 557h0M436.9 554.3h0M376.8 552.1h0M415.4 551.7h0M439.3 537.7h0M411.3 542.4h0M429.8 561.4h0M418.5 543.8h0M404.3 550.7h0M444.4 521.5h0M399.5 549.8h0M397.4 528.7h0M439.5 524h0M425.9 549.5h0M416.5 547.1h0M445.3 521.7h0M421.6 562.3h0M382.1 544.5h0M383.9 562.9h0M386.2 561h0M415.7 530.2h0M419.3 536.9h0M402.6 545.2h0M424.7 538.1h0M385.8 564.7h0M400.5 556h0M442.2 562.3h0M431.4 544.3h0M415.2 557.1h0M421.6 553.1h0M389.3 557.8h0M411.3 524.3h0M396.7 564.8h0M436.9 552.1h0M384.2 565.5h0M389.2 560.5h0M407.1 555.9h0M405.6 553.3h0M393 542h0M417 548.9h0M431.5 557h0M381.6 562.3h0M440 540.4h0M411.1 564.7h0M393.7 524.8h0M410.4 543h0M383.1 528.6h0M424.3 547h0M391.7 535.2h0M415.1 537.3h0M413.8 520.7h0M381.3 544.1h0M390.4 527.4h0M437.6 543.5h0M414.8 564.2h0M444.2 556.5h0M415.6 554h0M381.1 561.5h0M374.8 550.9h0M444 554.4h0M425.1 544.7h0M381 560.7h0M430.6 532.1h0M397.6 535.1h0M438.4 557.8h0M403.6 561h0M412.9 543.8h0M390.2 527.3h0M434.2 555.7h0M384.9 556.8h0M393.5 551.5h0M421.5 558h0M394.2 521.1h0M434.3 536h0M405.8 532.5h0M441.7 540.1h0M425.9 524.2h0M405.4 544.2h0M441.9 534.2h0M436.8 557.4h0M420.1 553.2h0M419.7 556.2h0M381.6 557.5h0M412.6 555.7h0M383.4 528.6h0M402.8 559.3h0M444.1 527.5h0M385.6 558.8h0M424.1 548.9h0M392 525.7h0M387.5 559.6h0M443.5 546.9h0M419 546.7h0M385.5 562.4h0M404.4 565.9h0M407.3 520.5h0M379.6 528.9h0M392.9 561.1h0M386.5 553.1h0M420.6 531.8h0M426.3 532.2h0M435.4 541.2h0M413.9 560.5h0M405.8 534.9h0M390.2 562h0M423.7 529.7h0M394.8 521.1h0M391.7 538.1h0M377.5 530.7h0M375.6 552.9h0M435.6 520.9h0M430.9 545.1h0M440 523.9h0M392.7 565.9h0M398.8 552.2h0M394.2 563.1h0M415.9 547.5h0M440.9 555.8h0M422.6 563.8h0M444.1 519.7h0M429.9 519.9h0M390.7 529.9h0M382.5 534.7h0M426 555.7h0M404.8 559.3h0M401.8 564.2h0M403.6 548.8h0M404.5 521.1h0M387.6 520.5h0M435.4 533.4h0M399.4 552.5h0M426 552.4h0M378.6 559.4h0M427.3 552h0M395 543.8h0M418.7 534.6h0M409 521.1h0M440.5 544.1h0M399.3 558.8h0M380.5 551h0M422.6 554.9h0M380.6 548.4h0M383.8 565.6h0M439.4 561.9h0M423.8 560.6h0M388.2 521.7h0M439.6 524.3h0M372.8 531.2h0M445.4 554.9h0M372.8 554.3h0M418.3 545.4h0M394.5 561.1h0M444.4 522.1h0M379.8 560.3h0M381.7 534.9h0M401.2 560.9h0M427.4 535.1h0M412.9 521.1h0M400.1 538h0M393.9 550.7h0M430.8 546.4h0M437.1 525.3h0M374 552.3h0M431.9 565.6h0M386.2 561.3h0M425.7 529.6h0M390.1 525.4h0M398.7 561.6h0M396.1 540.3h0M430.7 553.3h0M400.7 561.6h0M431.7 530.8h0M377.9 552.4h0M424.5 552.2h0M432 528.4h0M441.9 549h0M432.1 546.5h0M379.5 525.9h0M416.6 533.8h0M396.8 533.4h0M402.1 539.5h0M411.9 557.5h0M439.3 538.2h0M373 558.3h0M404.3 552.7h0M400.9 552.7h0M432.8 540.5h0M442.5 543.2h0M399.5 557.5h0M438.8 542.2h0M390.3 533.7h0M432.1 540.8h0M423.2 559.4h0M419.2 539.8h0M386.6 541.1h0M402.9 530.4h0M432.9 546.9h0M404 542.2h0M444.5 541.2h0M398.1 540.8h0M406.8 555.9h0M445.2 529.4h0M413.5 524.3h0M424.3 547h0M415.6 561.1h0" stroke="#7a4898" stroke-width="1" stroke-linecap="round" fill="none" opacity="0.75"/>
<path d="M404 530.7h0M429.3 537.9h0M421.7 554.2h0M440.2 526.5h0M409.2 544.3h0M392.3 536.7h0M402.6 559h0M443.4 556.3h0M445.1 559.6h0M405.2 537.5h0M414.3 558.4h0M411.8 562.4h0M412 532h0M443.8 552.2h0M378.4 563.4h0M434.5 523.5h0M422.4 555.4h0M373.7 524.8h0M415.6 529.7h0M412.5 546h0M377.4 553.3h0M377.2 562.9h0M412.3 549.3h0M372.7 519.9h0M405.8 533.8h0M386 553.1h0M444 531.9h0M408.1 565.8h0M374.2 530.8h0M445.4 546.3h0M378.7 547.2h0M433.2 563.3h0M444.6 530.5h0M374 531.4h0M436.6 528.6h0M378.4 538.5h0M412.3 563.5h0M412.2 524.2h0M425.6 562.3h0M388.7 527h0M409.5 542h0M379.2 565.6h0M414.3 527.5h0M425.1 564.9h0M433.4 520h0M380.9 564.1h0M419.3 539.6h0M431.5 541.2h0M405.4 528.4h0M418.4 548.9h0M424.7 532h0M375.1 528.9h0M422.4 558.8h0M390.5 552.6h0M390 530.6h0M405.3 559.5h0M422.6 561.8h0M386.3 520.2h0M387.5 520.2h0M396.8 524.2h0M390.8 536.2h0M397.5 557.2h0M439.7 556.6h0M421 552.9h0M392.9 529.3h0M438.6 562.9h0M386.2 522.8h0M410.8 557.3h0M437.1 530.1h0M391.2 559.4h0M406.5 532.9h0M436 545.8h0M434.3 544.8h0M416.5 529.6h0M432.2 529h0M420.9 547.1h0M438.1 534.6h0M392.5 549h0M444.3 551.3h0M390.7 532.6h0M432.9 525.3h0M437.3 536.7h0M388.3 528.4h0M416.7 527.9h0M440.7 562.2h0M416.6 539.8h0M400.2 546.6h0M417.2 532.3h0M390.4 561.9h0M442.6 539.3h0M418.8 530h0M416.5 561h0M417.5 533.2h0M384.1 533.2h0M433.3 554.1h0M384 549.1h0M439.2 555.8h0M385.3 565.9h0M419.1 558h0M396.7 553.8h0M407.5 526.3h0M414.5 560h0M430.2 556.1h0M399.4 551.1h0M383.8 536.9h0M420.4 536.5h0M385.9 523h0M398.2 565.1h0M393.2 564.3h0M411.7 534.6h0M418 544.4h0M374.3 540.2h0M403.5 543.7h0M409.3 538.9h0M388.1 528.1h0M401.5 529.4h0M411.5 521.2h0M387.2 544.5h0M402.9 547.3h0M409.7 551.5h0M386.5 539.6h0M427.7 519.7h0M392.8 525.7h0M410.8 527.7h0M373.4 524.3h0M431.9 545h0M416.3 531.2h0M420.2 525.9h0M404.8 521.3h0M374.5 534.1h0" stroke="#f8f0f5" stroke-width="3.2" stroke-linecap="round" fill="none"/>
<path d="M442.9 549.1h0M389.1 525.5h0M418.4 535h0M445.3 527.6h0M438.4 542.8h0M385.9 543.8h0M437.4 521.4h0M377.5 563.9h0M422.3 555.1h0M423.4 530h0M408.6 548.9h0M427.5 523.9h0M375.5 558.4h0M384.6 544.6h0M443.4 553.1h0M416.2 533.5h0M405.6 520.2h0M377.9 561.5h0M437.1 532.7h0M408 548.9h0M407.1 548.5h0M417.3 564.7h0M444.3 520.6h0M434.1 536.5h0M405.6 521.3h0M388.2 537h0M408.9 541.7h0M442.3 531.8h0M390.7 558h0M404 560h0M382.1 548h0M441.8 551.2h0M374 561.7h0M417 545h0M442.1 541.4h0M432.3 537.3h0M430.6 538.1h0M379.3 535.6h0M383.8 554.1h0M393.2 565.7h0M400.4 537.8h0M390.4 564.3h0M397 539.7h0M441.4 553.6h0M442.1 535.8h0M440.7 536.3h0M402.4 540.3h0M378.1 548.2h0M394.2 538h0M419.1 532.8h0M385.3 529.2h0M420.5 533.8h0M423.7 532.3h0M383.6 521.7h0M395.6 561.4h0M415.1 552h0M417.4 537.1h0M414.1 527.2h0M425.1 538.4h0M374.8 550.4h0M435.6 523.2h0M441.8 532.7h0M410.1 538.1h0M391.4 536.4h0M391.6 562h0M387 559h0M408.5 562.8h0M384.2 541.5h0M386.4 528.7h0M421 560.9h0M390.8 556.4h0M431.5 554h0M433.2 557.9h0M390.9 556.7h0M426 526.4h0M379.4 558.6h0M379.6 545.7h0M373.3 531.2h0M444.5 541.3h0M395.7 545.5h0M392.2 553.3h0M403 552.7h0M385 559.2h0M415.6 527.8h0M436.6 531.1h0M387.7 554.3h0M397.2 540.5h0M392.5 533.5h0M429.1 537.5h0M404.6 530.6h0M401.7 536.5h0M420.1 535.7h0M427.2 532.1h0M422 532.1h0M372.8 552.7h0M438.1 521h0M416.8 544.4h0M431.7 527.6h0M435.2 528.7h0M439.1 544h0M374.5 521.8h0M429.8 551.4h0M381.7 549.7h0M390.8 542.9h0M426.2 557.4h0M421 557.8h0M423.9 554.5h0M409.8 546.4h0M418.9 558.3h0M377.8 543.3h0M408.3 520.3h0M400.6 519.9h0M387.8 561.7h0M413.6 525.3h0M433.3 560.5h0M412 545.5h0M406.7 521h0M387.1 524.9h0M389.7 536.4h0M375.3 553.2h0M387.3 563.3h0M412.8 562.3h0M428 532.4h0M409.2 542.2h0M403.8 534.3h0M415.7 532.2h0M423.8 558h0M372.7 550.8h0M430.9 531.8h0M400.1 553.2h0M432.2 531.2h0M374.7 552.2h0M425.7 551.8h0M412.7 549.9h0M407.2 528.6h0M424.4 559.2h0M375.8 541.1h0M408.2 564.6h0M397.1 562.6h0M383.1 547h0M438.1 564.1h0M396.8 520h0M398.2 519.8h0M432.7 523.4h0M385.9 519.8h0M425.6 560.8h0M439.3 529h0M430.3 523.7h0M410.7 523.1h0M442.7 555.2h0M378 539.9h0M391.2 531.4h0M389.5 529.5h0M400.1 528.3h0M407.7 529.3h0M428.7 553.6h0M405.9 558.8h0M425.3 531.4h0M387.4 538.5h0M393.2 541h0M380.1 562.1h0M414.2 549.3h0M380.8 542.9h0M416.4 552.6h0M396.4 540.2h0M396.8 564h0M385 557.8h0M372.7 558.4h0M414.9 531.1h0M425.2 560h0M431.2 535.1h0M419.4 543.7h0M404.8 532.7h0M413.7 558.3h0M387.9 532.4h0M434.2 532.7h0M413.1 557.1h0M439.6 560.7h0M386.1 564.6h0M425.5 531.1h0M414 527.2h0M396.6 557h0M397.7 531.6h0M383.8 521.4h0M428 563.7h0M412.5 548.8h0M435 554.2h0M403 553.5h0M424.5 526.8h0M404.9 538.2h0M403.5 528.7h0M438.4 555.3h0M396.8 531.2h0M372.9 562.2h0M389.4 555.3h0M436 565.4h0M395.2 522.1h0M435.7 563.6h0M404.5 566h0M384.4 529.2h0M378.3 549.4h0M439.9 545.4h0M379.4 532.1h0M437.8 528.4h0M433.2 537.2h0M428.5 539.5h0M383.7 550.9h0M376.1 535.1h0M381.2 538.4h0M427.3 535.5h0M384 560.4h0M432.7 565.2h0M401.7 556.4h0M376.1 559.8h0M397.2 530h0M428.1 534h0M382.2 557.6h0M429 542.2h0M393.3 526.3h0M425 536.6h0M433.7 532h0M375.4 534.5h0M422.7 538.2h0M388.3 548.7h0M372.5 529.3h0M441.8 563.4h0M392 542.6h0M419.1 531h0M393.6 562.3h0M432.9 536.1h0M421.4 525.5h0M391.5 558.7h0M409.7 557.9h0M405 545.1h0M389.4 551.9h0M437.4 530.4h0M433.9 536h0M392.2 533.5h0M443.3 534.7h0M444.7 543.7h0M422.5 545.8h0M442.9 538.6h0M431.6 557.8h0M434.7 550.1h0M433.1 553.8h0M384.7 546.8h0M404.3 543.1h0M395.5 544.8h0M428 527.7h0M441.3 559.6h0M423.4 565.2h0M400.8 523.7h0M379.5 554.4h0M374.2 525.7h0M428.5 529.2h0M427.3 558.8h0M407.2 535.4h0M384.8 538.1h0M385.5 556.4h0M398.4 526.5h0" stroke="#f8f0f5" stroke-width="2.2" stroke-linecap="round" fill="none"/>
<ellipse cx="414.00" cy="540.00" rx="9.00" ry="1.40" fill="#f8f0f5" stroke="none" stroke-width="0.6"/>
</g>
<clipPath id="oe_r"><rect x="445.5" y="519.6" width="72.10000000000002" height="46.39999999999998"/></clipPath>
<g clip-path="url(#oe_r)">
<rect x="445.50" y="519.60" width="72.10" height="46.40" fill="#c888b8" stroke="none" stroke-width="0.6"/>
<path d="M477.6 533.2h0M511.1 542.1h0M451.8 554.4h0M450.9 529h0M450.8 548.7h0M506.2 548h0M461.5 558.8h0M508.3 534.8h0M465.2 550.9h0M515.6 562h0M508.7 552.8h0M461.9 548h0M476.4 549.2h0M480.6 529.2h0M510.2 521.3h0M470.1 534.9h0M515.2 525.1h0M487.2 563.4h0M489.6 562.6h0M473.9 539.9h0M472.2 536.7h0M470.6 523.1h0M516.5 553.6h0M494.4 544.3h0M460 530.1h0M515.3 557.8h0M478.4 554.1h0M514.6 521.6h0M471.9 538.3h0M470.1 544.6h0M466.8 525.2h0M508.2 539.3h0M503.3 525.7h0M467.7 542.5h0M448.2 538.8h0M458.4 538h0M466.6 555.7h0M482.1 531.3h0M488 541.7h0M461.5 555.7h0M487.4 520.2h0M484.5 538.1h0M451.7 564.7h0M490.2 565.7h0M479.9 539.9h0M456.8 550.4h0M480.3 528h0M506 547h0M451.7 565.1h0M475.7 562.5h0M475.1 522h0M485.1 538.5h0M501.8 542.6h0M472.2 538.7h0M480.3 553.5h0M503.3 538h0M455.7 520.2h0M488.8 530.5h0M506.9 539.3h0M514.6 523.2h0M505.7 525.1h0M463.1 538.6h0M465.8 540.4h0M481.9 548.3h0M447.7 547.9h0M472.9 548.4h0M467.2 557.5h0M461 523.6h0M497.7 549.1h0M458.8 535.4h0M475.4 528.9h0M485.7 539.3h0M487.2 555.2h0M458.8 532h0M493.5 547.3h0M497.3 532.3h0M461.1 521.8h0M467.7 531.4h0M498.9 535.4h0M501.9 525h0M466.3 539.5h0M462.3 541.8h0M515.6 540.8h0M460 547.1h0M483.4 558h0M451.3 553.6h0M488.7 533.3h0M472.1 523.9h0M512.3 533.4h0M475.9 549.6h0M499.1 547.7h0M474.9 549.5h0M483.7 534.4h0M505.4 526.5h0M457.6 541.3h0M481 524.7h0M499.1 563.7h0M486.5 546.6h0M466.1 525h0M470 553h0M507.5 536.8h0M470.1 535.2h0M484.7 532.1h0M482.4 557.9h0M457.3 550.7h0M466 528.9h0M475.9 548.8h0M475.6 537.9h0M490.7 542.8h0M505.1 564.8h0M511.7 550.1h0M456.7 539.5h0M466.6 544.3h0M453 563.1h0M463.8 531.9h0M509.3 539h0M448.1 524.8h0M490.7 519.9h0M497.1 524.7h0M451.3 543.3h0M457.9 520.1h0M485.4 527.1h0M476.3 563.9h0M506.7 560.5h0M480.6 548.8h0M475.7 554.3h0M515.6 522.7h0M446 540.7h0M488 548.4h0M460.1 526.8h0M474.9 557.1h0M474.8 555.3h0M479.1 557.4h0M453.8 549.5h0M464.2 537.9h0M450.1 551.4h0M479.7 549.5h0M476.6 523.5h0M495 520.2h0M459.2 539.3h0M501.5 542.1h0M491.5 561.7h0M506.1 527.9h0M472.3 525.1h0M505.8 544.9h0M487.2 525.5h0M474.8 533.5h0M516.1 534.5h0M513.4 530.4h0M496.1 533.1h0M464.5 533.1h0M514 548.1h0M464 536.3h0M489.6 541.2h0M490.3 521.8h0M471.7 530h0M495.6 559.8h0M450 536.3h0M517.2 561h0M448.7 541.9h0M491 540h0M494.4 546h0M476.7 536.6h0M453.6 562h0M468 528.1h0M496 525h0M491.4 554.2h0M460.6 555.8h0M509.9 540.8h0M472.3 557h0M494.1 562.7h0M474.8 562.8h0M474.7 555.3h0M465.5 529.6h0M456.9 562.6h0M499.7 562.7h0M487.8 521.1h0M485.8 545.1h0M469.5 551.4h0M516 545.6h0M468.3 521.9h0M510.8 549.8h0M463.6 557h0M463.6 537.4h0M484.1 563.6h0M505.1 547.2h0M484 535h0M495.4 543.9h0M495 526.5h0M470.3 563.9h0M494.3 558.3h0M496 539.2h0M455.9 520h0M506.2 549.7h0M500.3 537.3h0M486.8 520.9h0M506 535.7h0M471.2 520.5h0M469.5 559.1h0M512.7 535h0M460.3 553.4h0M459.2 540.6h0M517 562.9h0M477.1 556h0M461.6 534.9h0M454.2 527h0M467.2 531.5h0M457.8 530.2h0M459.7 564.4h0M461.5 534.7h0M486.8 546.4h0M469.5 561.8h0M458.7 562.3h0M450.3 547.3h0M510.3 556.4h0M461.9 532.7h0M480.1 521h0M498 533.8h0M459.4 535.4h0M485.3 541.1h0M505.8 540.5h0M511.5 563.5h0M493.5 527h0M445.7 526.7h0M486.4 550.5h0M517.1 554.5h0M449.9 536.7h0M475.2 541.4h0M448.3 551.9h0M503.9 538.6h0M506 558.2h0M509.1 560.5h0M472.9 525h0M499.8 527.2h0M457.9 564.8h0M515.3 542h0M478.8 551.5h0M445.8 540.4h0M450.9 557.3h0M447.3 539.6h0M464.7 533.9h0M485.2 551.3h0M453 548.7h0M505.6 556.6h0M512.6 533.5h0M469.3 548.7h0M481.6 546.8h0M449 531.6h0M476.9 536.1h0M500 528.2h0M506.8 530h0M478.9 523.9h0M476.1 564.1h0M455.8 546.1h0M486.1 563.3h0M448.3 563.9h0M502.5 529.2h0M478.3 526.4h0M462 550.8h0M470.9 524.4h0M506.7 531.9h0M479.7 555.6h0M493 553.9h0M445.6 535.9h0M471.8 562.2h0M469.2 533.5h0M509.2 520.1h0M508.9 559.2h0M448.6 545.8h0M451.6 524.5h0M463.1 526.3h0M461.4 522.8h0M477.1 532.2h0M506.1 524.6h0M475.4 535.8h0M499.9 563.4h0M514.6 527.6h0M459.9 553.6h0M464.3 526.9h0M500 561h0M492.8 535.2h0M497 539.7h0M475.2 547.5h0M452.1 539.8h0M477.9 553.4h0M464.3 528.6h0M504.9 564.5h0M503 552.4h0M513.1 532.1h0M470 554.9h0M478.5 550.4h0M484.9 561.1h0M498.4 565.1h0M478.2 555.3h0M468.7 523.9h0M452.7 543.2h0M500.4 523.8h0M509.9 541.4h0M464.7 530h0M482 551.2h0M503 550.4h0M475 528h0M484.6 553.1h0M484.5 551.3h0M503.9 565.6h0M471.4 520.6h0M472 549.6h0M485.7 561h0M475.2 548.1h0M454.5 532.9h0M486.3 521.9h0M469.8 562.9h0M479.1 553.3h0M458.4 553h0M508.7 561.4h0M476.1 535.8h0M512.3 521.3h0M457.7 520.9h0M516.8 528h0M470.9 560.7h0M516.9 547.1h0M497.8 565.6h0M472.9 560.3h0M449 565.8h0M465.7 547.5h0M506.4 528.8h0M467.6 541.1h0M450.1 531h0M479.9 551.2h0M473.1 557.6h0M500.3 553.9h0M502.3 549.3h0M449.7 545.4h0M472.5 563h0M451.1 551.7h0M495 529h0M504.5 535.4h0M486.9 558.5h0M517.2 522.5h0M479.7 520h0M465.9 551.1h0M449.4 564.4h0M478.6 560.8h0M474.2 529.1h0M462.3 527.9h0M486.5 528.6h0M473.4 556h0M446.2 546.8h0M505.6 521.1h0M457.8 543.2h0M507.7 533.3h0M485.8 549.7h0M508.2 538.5h0M474.5 556.6h0M469.3 557.8h0M511.8 556h0M469.3 520.3h0M486.3 547.9h0M503.8 535.4h0M497.7 555.9h0M463.4 535.4h0M500.5 519.7h0M488.1 558.2h0M469 549.5h0M450.8 552.5h0M452.9 522.8h0M475.4 531.2h0M456.3 553.7h0M501.9 535.2h0M463.3 526.1h0M502.4 531.7h0M507.5 555.7h0M501.7 558.4h0M480.3 549.4h0M480.8 538.4h0M463.9 539.1h0M458.8 528.9h0M455.7 530h0M511.7 554.7h0M498.3 565.2h0M514.2 536.9h0M493.5 522.6h0M471.9 564.1h0M460.9 524.5h0M487.6 533.9h0M454.3 541.2h0M461.9 546.1h0M469.1 561.7h0M450.5 525.9h0M509.9 555.4h0M511.5 536.9h0M451.1 560.1h0M450.1 528h0M504.6 553.7h0M511.5 561.9h0M480.5 565.8h0M485.4 558.4h0M475 553.4h0M454.1 561.4h0M466.5 540.2h0M447.4 528.4h0M487.4 519.7h0M485.1 536.3h0M511 546.2h0M513.2 565.8h0M459.4 532.1h0M446.5 546.9h0M450.8 535h0M478.6 552.9h0M505.2 533.2h0M498.1 523.8h0M508.2 540.5h0M453.8 557.6h0M447.2 564.7h0M492.3 547.7h0M513.4 541.6h0M453 527.9h0M464.2 523h0M460.5 540.9h0M452.7 528.3h0M468.7 560.6h0M449.7 544.7h0M487.6 521.5h0M467.7 539.6h0M458 533.9h0M452.2 525.5h0M463.6 523.4h0M509.1 551.5h0M453 563.2h0M499.8 561.9h0M453.2 555.9h0M500.2 550.2h0M486.5 535.3h0M514.4 545.9h0M493.2 530.6h0M458.3 523.7h0M461.3 534.7h0M450.5 556.4h0M516.4 533.5h0M478.1 551.1h0M447.2 551.6h0M510.2 532.7h0M450.7 531.6h0M507.7 548.7h0M483.3 537.6h0M492.4 519.8h0M450.7 552.8h0M464.1 555.3h0M468.2 534.8h0M502.1 536.6h0M496.3 532.1h0M483.1 538.2h0M447.2 533.8h0M453.9 555.3h0M474.4 555.3h0M474.5 542.7h0M512.1 531.5h0M493.9 556.1h0M488.5 526.2h0M501.8 542.7h0M501.5 523.8h0M457.8 558.8h0M516.9 545.2h0M459.8 521.7h0M481.8 524.8h0M490 525.9h0M462.2 532.6h0M477.3 530.2h0M483.5 542h0M501.1 527.9h0M465.1 554.9h0M511.4 528.5h0M475.4 537.8h0M509 548.6h0M446.3 546h0M465.5 548.3h0M499 523.8h0M504.2 537h0M495.8 555.8h0M508.5 539.1h0M493.3 520.2h0M513.7 551.9h0M474.7 557.3h0M482.2 560.8h0M477.8 550.9h0M463.9 549.3h0M448 545.8h0M479.9 526.7h0M468.3 564.6h0M502 545.8h0M473.5 520.6h0M499.5 521.2h0M459.9 524h0M487.1 527.6h0M517.4 558.6h0M480.2 550.4h0M447.4 530.2h0M461.6 545.4h0M496.3 523.2h0M448.5 538.7h0M500 546.2h0M491.5 548.7h0M512.1 545.1h0M448.6 561.6h0M487.5 521.4h0M504.4 520.4h0M501.5 565.6h0M456 547.6h0M490.3 539.2h0M460.7 532.7h0M484.7 547.5h0M508.8 565.5h0M511.6 554.5h0M492.7 532h0M463.7 538.9h0M452.8 541.4h0M490.3 549.7h0M488.4 559.4h0M451.9 538.5h0M499.9 541h0M472.3 551.4h0M505.2 523.3h0M446.6 524.1h0M484.9 531.7h0M475.3 563.3h0M477.1 535.2h0M474.6 545.4h0M460.4 527.3h0M450 541.1h0M474.8 543.7h0M476.6 562.1h0M495.1 558.2h0M476.6 540.7h0M495.4 550.6h0M479.1 561h0M491.8 522.5h0M510.3 542.7h0M506.3 535.9h0M460.5 559.9h0M463.6 533.4h0M459.3 555.5h0M489.2 558.7h0M514.2 562.1h0M454.6 555.1h0M505.6 529.7h0M513.5 527.3h0M459.8 559.9h0M465.9 541.5h0M456.7 554.6h0M461.2 527.8h0" stroke="#5a3090" stroke-width="1" stroke-linecap="round" fill="none" opacity="0.75"/>
<path d="M485.9 534h0M466.7 534.5h0M455.6 558.4h0M510.3 558.4h0M486.4 546.3h0M501.2 539.9h0M489.7 545.7h0M488.4 553.8h0M470.9 522.3h0M471.1 528.1h0M478.9 522.1h0M501.4 526.2h0M509.1 523.9h0M473.6 538.9h0M493.9 527.8h0M517.2 550h0M486.7 549.2h0M468.1 531.1h0M489.1 564.8h0M497.6 544.9h0M466.4 560.4h0M460.4 543.5h0M485.6 532.1h0M455.9 543.5h0M463 549h0M450.4 527.6h0M511.4 548.4h0M515.2 540.1h0M457.7 563.9h0M471.3 540.7h0M458.5 550.1h0M450 553.9h0M495.3 538.6h0M506.1 563.2h0M505.3 553.6h0M492.5 540.3h0M514.9 527.5h0M498.8 560.9h0M502 565.2h0M465.2 544.5h0M499.1 552.1h0M450.3 555.4h0M450.1 555.9h0M490.1 545.3h0M446.9 558.6h0M501.1 563.7h0M494.2 521.6h0M507.4 546.5h0M484.8 537.2h0M465.1 563.1h0" stroke="#f8f0f5" stroke-width="4.4" stroke-linecap="round" fill="none"/>
<path d="M457.2 557.4h0M513 534.1h0M463.4 563.9h0M486.7 543.8h0M502.8 554.8h0M471 553.8h0M499.2 543h0M474.3 532.3h0M492.7 524.6h0M505.7 521.8h0M465 552.1h0M492.4 538.4h0M510.8 549.9h0M507.1 558.3h0M460.5 542.5h0M477.9 536h0M459.8 561.5h0M473.3 556.4h0M507.1 557h0M486.9 535.7h0M515.5 551.7h0M477.5 522.5h0M478.1 561.4h0M505.7 539.7h0M466.1 555.8h0M450.1 560.1h0M510.9 565.9h0M452.9 556.4h0M488.4 538h0M505.4 530.7h0M493.5 535.7h0M515.6 553.1h0M455.2 529.6h0M493 539.5h0M472.9 525.2h0M454.2 521.2h0M468.4 530.7h0M505.5 564.6h0M493.9 523.9h0M464.2 520.8h0M458 538h0M473.2 525.1h0M486 546.5h0M515.9 556.9h0M478.6 522.1h0M482.2 555.2h0M473.5 539.1h0M478.3 552.4h0M496.7 527.9h0M474.4 546.7h0M486.6 565.9h0M509.1 532.2h0M470.1 561.3h0M464.8 542.1h0M469.2 558.8h0M507.3 537.1h0M505.5 563.4h0M467 557.4h0M453.3 543.9h0M476.5 561.3h0M478.8 551.6h0M510.1 537.7h0M485.3 535.9h0M453 547.2h0M473.8 520.1h0M463.4 547h0M475.9 555.6h0M461.7 538.7h0M477.3 556.6h0M486.5 520.9h0M451.3 538.3h0M470.2 545.1h0M463 555.1h0M476.1 565.8h0M478.2 522.3h0M503.8 520.1h0M493 522.5h0M479.5 563.3h0M474.4 535.4h0M498.5 522h0M470.2 554.7h0M461.1 532.1h0M472.3 547.9h0M470.5 551.6h0M516.8 545.7h0M470.1 547.7h0M490.9 523.8h0M486 558.8h0M474.5 540.5h0M496.9 529.6h0M455.9 524.4h0M476.1 531.2h0M451.8 554h0M508.8 560.6h0M502.8 532.7h0M462.5 520.7h0M448.2 535.7h0M493.5 535.8h0M471.1 565.5h0M477.7 556.8h0" stroke="#f8f0f5" stroke-width="3" stroke-linecap="round" fill="none"/>
<ellipse cx="505.00" cy="538.00" rx="8.00" ry="9.00" fill="#f8f0f5" stroke="none" stroke-width="0.6"/>
<ellipse cx="456.00" cy="551.00" rx="5.00" ry="4.00" fill="#f8f0f5" stroke="none" stroke-width="0.6"/>
<path d="M480.9 539h0M475.9 540h0M488.7 540h0M480.4 548.7h0M483.8 553.8h0M482.8 543.4h0M485.5 539.3h0M491.8 542.5h0M480.5 548.6h0M475.4 548.2h0M490.7 541.8h0M492.8 545.6h0M489 544.4h0M480.9 540.4h0M472.2 539.1h0M493.8 545.7h0M482.2 553h0M485.3 554.5h0M479.9 539.3h0M492.3 538.2h0M489.4 546.9h0M493.6 553.9h0M486.5 535.7h0M472.5 544.5h0M490 536.6h0M481.4 536.7h0M478.8 535.1h0M479.3 545.5h0M476.4 550.7h0M473.2 539.2h0M477.7 543.1h0M488.8 542.1h0M487.3 553.4h0M474.9 552.3h0M485.2 549.9h0M485.4 543.2h0M474.1 537.9h0M475.8 538.6h0M475.2 539.2h0M484.3 550.4h0M489.6 551.9h0M474.6 551.4h0M476.1 536.4h0M478.3 546.7h0M473 539.3h0M480.8 551.4h0M480.8 543.3h0M480.2 536.9h0M491.4 553.5h0M487.9 543h0M481.8 541.2h0M486.4 548.1h0M478.8 552.5h0M487.9 539.4h0M489.8 548.5h0M477.5 540.9h0M488.5 536.6h0M481.6 554.3h0M477.6 545.1h0M492 552.5h0" stroke="#5a3aa0" stroke-width="1.8" stroke-linecap="round" fill="none" opacity="0.70"/>
</g>
<rect x="372.30" y="469.80" width="145.30" height="45.20" fill="none" stroke="#222" stroke-width="0.8"/>
<line x1="445.50" y1="469.80" x2="445.50" y2="515.00" stroke="#222" stroke-width="0.8"/>
<rect x="384.60" y="485.80" width="17.90" height="13.80" fill="none" stroke="#111" stroke-width="0.7"/>
<line x1="402.50" y1="485.80" x2="445.50" y2="469.80" stroke="#111" stroke-width="0.6"/>
<line x1="402.50" y1="499.60" x2="445.50" y2="515.00" stroke="#111" stroke-width="0.6"/>
<rect x="372.30" y="519.60" width="145.30" height="46.40" fill="none" stroke="#222" stroke-width="0.8"/>
<line x1="445.50" y1="519.60" x2="445.50" y2="566.00" stroke="#222" stroke-width="0.8"/>
<rect x="384.60" y="544.00" width="17.90" height="14.00" fill="none" stroke="#111" stroke-width="0.7"/>
<line x1="402.50" y1="544.00" x2="445.50" y2="519.60" stroke="#111" stroke-width="0.6"/>
<line x1="402.50" y1="558.00" x2="445.50" y2="566.00" stroke="#111" stroke-width="0.6"/>
<rect x="469.00" y="533.50" width="26.40" height="23.00" fill="none" stroke="#f0c020" stroke-width="1.4"/>
<text x="374.8" y="510.3" font-size="4.6" fill="#111" font-weight="bold" textLength="16" lengthAdjust="spacingAndGlyphs" stroke="#111" stroke-width="0.14">100 μm</text>
<line x1="375.00" y1="511.50" x2="390.00" y2="511.50" stroke="#111" stroke-width="0.6"/>
<text x="501" y="510.3" font-size="4.6" fill="#111" font-weight="bold" textLength="14" lengthAdjust="spacingAndGlyphs" stroke="#111" stroke-width="0.14">50μm</text>
<line x1="501.00" y1="511.50" x2="515.00" y2="511.50" stroke="#111" stroke-width="0.6"/>
</svg></body></html>
